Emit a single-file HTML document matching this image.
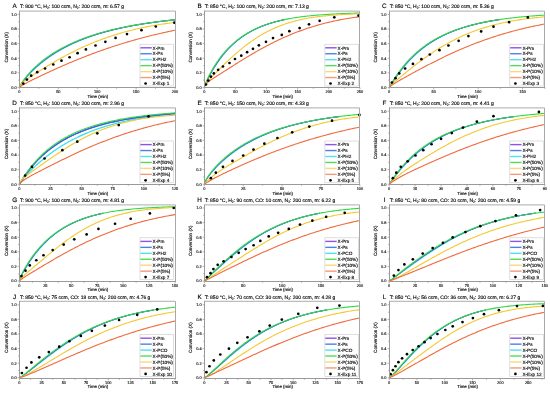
<!DOCTYPE html>
<html><head><meta charset="utf-8"><title>Conversion plots</title>
<style>html,body{margin:0;padding:0;background:#fff;width:550px;height:393px;overflow:hidden}
svg text{font-family:'Liberation Sans', Arial, sans-serif;stroke:#111;stroke-width:0.15px;text-rendering:geometricPrecision}</style></head>
<body>
<svg xmlns="http://www.w3.org/2000/svg" width="550" height="393" viewBox="0 0 550 393" style="display:block">
<rect width="550" height="393" fill="#fff"/>
<g><clipPath id="cA"><rect x="19.40" y="11.20" width="155.60" height="76.20"/></clipPath><g clip-path="url(#cA)" fill="none" stroke-width="1.3" stroke-linejoin="round"><path d="M19.40,87.40 L19.45,87.27 L19.54,87.05 L19.67,86.79 L19.83,86.50 L20.01,86.17 L20.22,85.83 L20.45,85.46 L20.70,85.07 L20.97,84.66 L21.26,84.24 L21.57,83.80 L21.89,83.35 L22.23,82.88 L22.59,82.40 L22.96,81.91 L23.35,81.42 L23.75,80.91 L24.17,80.39 L24.60,79.86 L25.04,79.32 L25.50,78.78 L25.97,78.23 L26.46,77.67 L26.95,77.11 L27.46,76.54 L27.98,75.96 L28.52,75.38 L29.07,74.80 L29.62,74.21 L30.19,73.61 L30.78,73.02 L31.37,72.42 L31.97,71.81 L32.59,71.21 L33.21,70.60 L33.85,69.99 L34.50,69.38 L35.16,68.77 L35.82,68.15 L36.50,67.54 L37.19,66.92 L37.89,66.31 L38.60,65.69 L39.32,65.08 L40.05,64.46 L40.79,63.85 L41.54,63.24 L42.30,62.62 L43.06,62.01 L43.84,61.40 L44.63,60.80 L45.42,60.19 L46.23,59.59 L47.04,58.99 L47.87,58.39 L48.70,57.79 L49.54,57.20 L50.39,56.61 L51.25,56.02 L52.12,55.43 L53.00,54.85 L53.88,54.28 L54.78,53.70 L55.68,53.13 L56.59,52.56 L57.51,52.00 L58.44,51.44 L59.37,50.89 L60.32,50.34 L61.27,49.79 L62.23,49.25 L63.20,48.71 L64.18,48.18 L65.17,47.65 L66.16,47.12 L67.16,46.61 L68.17,46.09 L69.19,45.58 L70.21,45.08 L71.25,44.57 L72.29,44.08 L73.34,43.59 L74.39,43.10 L75.46,42.62 L76.53,42.15 L77.61,41.68 L78.69,41.21 L79.79,40.75 L80.89,40.30 L82.00,39.84 L83.11,39.40 L84.24,38.96 L85.37,38.52 L86.51,38.09 L87.65,37.67 L88.81,37.25 L89.97,36.83 L91.14,36.42 L92.31,36.02 L93.49,35.62 L94.68,35.23 L95.88,34.84 L97.08,34.45 L98.29,34.07 L99.51,33.70 L100.73,33.33 L101.96,32.96 L103.20,32.60 L104.45,32.25 L105.70,31.90 L106.96,31.55 L108.22,31.21 L109.49,30.87 L110.77,30.54 L112.06,30.22 L113.35,29.89 L114.65,29.58 L115.96,29.26 L117.27,28.95 L118.59,28.65 L119.91,28.35 L121.25,28.05 L122.59,27.76 L123.93,27.48 L125.28,27.19 L126.64,26.92 L128.01,26.64 L129.38,26.37 L130.76,26.11 L132.14,25.84 L133.53,25.59 L134.93,25.33 L136.33,25.08 L137.74,24.84 L139.16,24.59 L140.58,24.36 L142.01,24.12 L143.45,23.89 L144.89,23.66 L146.33,23.44 L147.79,23.22 L149.25,23.00 L150.71,22.79 L152.19,22.58 L153.67,22.37 L155.15,22.17 L156.64,21.97 L158.14,21.78 L159.64,21.58 L161.15,21.39 L162.66,21.21 L164.19,21.02 L165.71,20.84 L167.25,20.67 L168.78,20.49 L170.33,20.32 L171.88,20.15 L173.44,19.99 L175.00,19.82" stroke="#30e0f0" stroke-width="1.0"/><path d="M19.40,87.40 L19.45,87.25 L19.54,87.02 L19.67,86.74 L19.83,86.42 L20.01,86.07 L20.22,85.69 L20.45,85.30 L20.70,84.88 L20.97,84.44 L21.26,83.99 L21.57,83.52 L21.89,83.04 L22.23,82.54 L22.59,82.04 L22.96,81.52 L23.35,80.99 L23.75,80.45 L24.17,79.91 L24.60,79.36 L25.04,78.80 L25.50,78.23 L25.97,77.66 L26.46,77.08 L26.95,76.49 L27.46,75.90 L27.98,75.31 L28.52,74.71 L29.07,74.11 L29.62,73.50 L30.19,72.90 L30.78,72.29 L31.37,71.67 L31.97,71.06 L32.59,70.44 L33.21,69.83 L33.85,69.21 L34.50,68.59 L35.16,67.97 L35.82,67.35 L36.50,66.74 L37.19,66.12 L37.89,65.50 L38.60,64.88 L39.32,64.27 L40.05,63.65 L40.79,63.04 L41.54,62.43 L42.30,61.82 L43.06,61.21 L43.84,60.60 L44.63,60.00 L45.42,59.40 L46.23,58.80 L47.04,58.21 L47.87,57.61 L48.70,57.02 L49.54,56.44 L50.39,55.85 L51.25,55.28 L52.12,54.70 L53.00,54.13 L53.88,53.56 L54.78,52.99 L55.68,52.43 L56.59,51.88 L57.51,51.32 L58.44,50.77 L59.37,50.23 L60.32,49.69 L61.27,49.16 L62.23,48.62 L63.20,48.10 L64.18,47.58 L65.17,47.06 L66.16,46.55 L67.16,46.04 L68.17,45.53 L69.19,45.04 L70.21,44.54 L71.25,44.05 L72.29,43.57 L73.34,43.09 L74.39,42.62 L75.46,42.15 L76.53,41.68 L77.61,41.22 L78.69,40.77 L79.79,40.32 L80.89,39.87 L82.00,39.43 L83.11,39.00 L84.24,38.57 L85.37,38.14 L86.51,37.72 L87.65,37.31 L88.81,36.90 L89.97,36.49 L91.14,36.09 L92.31,35.70 L93.49,35.31 L94.68,34.92 L95.88,34.54 L97.08,34.17 L98.29,33.80 L99.51,33.43 L100.73,33.07 L101.96,32.71 L103.20,32.36 L104.45,32.01 L105.70,31.67 L106.96,31.33 L108.22,31.00 L109.49,30.67 L110.77,30.34 L112.06,30.02 L113.35,29.71 L114.65,29.40 L115.96,29.09 L117.27,28.79 L118.59,28.49 L119.91,28.19 L121.25,27.90 L122.59,27.62 L123.93,27.34 L125.28,27.06 L126.64,26.79 L128.01,26.52 L129.38,26.25 L130.76,25.99 L132.14,25.73 L133.53,25.48 L134.93,25.23 L136.33,24.99 L137.74,24.74 L139.16,24.51 L140.58,24.27 L142.01,24.04 L143.45,23.81 L144.89,23.59 L146.33,23.37 L147.79,23.15 L149.25,22.94 L150.71,22.73 L152.19,22.52 L153.67,22.32 L155.15,22.12 L156.64,21.92 L158.14,21.73 L159.64,21.54 L161.15,21.35 L162.66,21.16 L164.19,20.98 L165.71,20.81 L167.25,20.63 L168.78,20.46 L170.33,20.29 L171.88,20.12 L173.44,19.96 L175.00,19.80" stroke="#9b40e8" stroke-width="1.0"/><path d="M19.40,87.40 L19.45,87.25 L19.54,87.02 L19.67,86.74 L19.83,86.42 L20.01,86.07 L20.22,85.69 L20.45,85.30 L20.70,84.88 L20.97,84.44 L21.26,83.99 L21.57,83.52 L21.89,83.04 L22.23,82.54 L22.59,82.04 L22.96,81.52 L23.35,80.99 L23.75,80.45 L24.17,79.91 L24.60,79.36 L25.04,78.80 L25.50,78.23 L25.97,77.66 L26.46,77.08 L26.95,76.49 L27.46,75.90 L27.98,75.31 L28.52,74.71 L29.07,74.11 L29.62,73.50 L30.19,72.90 L30.78,72.29 L31.37,71.67 L31.97,71.06 L32.59,70.44 L33.21,69.83 L33.85,69.21 L34.50,68.59 L35.16,67.97 L35.82,67.35 L36.50,66.74 L37.19,66.12 L37.89,65.50 L38.60,64.88 L39.32,64.27 L40.05,63.65 L40.79,63.04 L41.54,62.43 L42.30,61.82 L43.06,61.21 L43.84,60.60 L44.63,60.00 L45.42,59.40 L46.23,58.80 L47.04,58.21 L47.87,57.61 L48.70,57.02 L49.54,56.44 L50.39,55.85 L51.25,55.28 L52.12,54.70 L53.00,54.13 L53.88,53.56 L54.78,52.99 L55.68,52.43 L56.59,51.88 L57.51,51.32 L58.44,50.77 L59.37,50.23 L60.32,49.69 L61.27,49.16 L62.23,48.62 L63.20,48.10 L64.18,47.58 L65.17,47.06 L66.16,46.55 L67.16,46.04 L68.17,45.53 L69.19,45.04 L70.21,44.54 L71.25,44.05 L72.29,43.57 L73.34,43.09 L74.39,42.62 L75.46,42.15 L76.53,41.68 L77.61,41.22 L78.69,40.77 L79.79,40.32 L80.89,39.87 L82.00,39.43 L83.11,39.00 L84.24,38.57 L85.37,38.14 L86.51,37.72 L87.65,37.31 L88.81,36.90 L89.97,36.49 L91.14,36.09 L92.31,35.70 L93.49,35.31 L94.68,34.92 L95.88,34.54 L97.08,34.17 L98.29,33.80 L99.51,33.43 L100.73,33.07 L101.96,32.71 L103.20,32.36 L104.45,32.01 L105.70,31.67 L106.96,31.33 L108.22,31.00 L109.49,30.67 L110.77,30.34 L112.06,30.02 L113.35,29.71 L114.65,29.40 L115.96,29.09 L117.27,28.79 L118.59,28.49 L119.91,28.19 L121.25,27.90 L122.59,27.62 L123.93,27.34 L125.28,27.06 L126.64,26.79 L128.01,26.52 L129.38,26.25 L130.76,25.99 L132.14,25.73 L133.53,25.48 L134.93,25.23 L136.33,24.99 L137.74,24.74 L139.16,24.51 L140.58,24.27 L142.01,24.04 L143.45,23.81 L144.89,23.59 L146.33,23.37 L147.79,23.15 L149.25,22.94 L150.71,22.73 L152.19,22.52 L153.67,22.32 L155.15,22.12 L156.64,21.92 L158.14,21.73 L159.64,21.54 L161.15,21.35 L162.66,21.16 L164.19,20.98 L165.71,20.81 L167.25,20.63 L168.78,20.46 L170.33,20.29 L171.88,20.12 L173.44,19.96 L175.00,19.80" stroke="#2f62ea" stroke-width="1.0"/><path d="M19.40,87.40 L19.45,87.24 L19.54,86.99 L19.67,86.68 L19.83,86.33 L20.01,85.95 L20.22,85.54 L20.45,85.11 L20.70,84.66 L20.97,84.19 L21.26,83.70 L21.57,83.20 L21.89,82.69 L22.23,82.16 L22.59,81.62 L22.96,81.07 L23.35,80.51 L23.75,79.94 L24.17,79.37 L24.60,78.79 L25.04,78.20 L25.50,77.60 L25.97,77.01 L26.46,76.40 L26.95,75.79 L27.46,75.18 L27.98,74.57 L28.52,73.95 L29.07,73.33 L29.62,72.71 L30.19,72.08 L30.78,71.46 L31.37,70.83 L31.97,70.21 L32.59,69.58 L33.21,68.95 L33.85,68.33 L34.50,67.70 L35.16,67.07 L35.82,66.45 L36.50,65.83 L37.19,65.20 L37.89,64.58 L38.60,63.96 L39.32,63.35 L40.05,62.73 L40.79,62.12 L41.54,61.51 L42.30,60.90 L43.06,60.30 L43.84,59.70 L44.63,59.10 L45.42,58.50 L46.23,57.91 L47.04,57.32 L47.87,56.74 L48.70,56.16 L49.54,55.58 L50.39,55.00 L51.25,54.43 L52.12,53.87 L53.00,53.30 L53.88,52.75 L54.78,52.19 L55.68,51.64 L56.59,51.10 L57.51,50.56 L58.44,50.02 L59.37,49.49 L60.32,48.96 L61.27,48.44 L62.23,47.92 L63.20,47.40 L64.18,46.89 L65.17,46.39 L66.16,45.89 L67.16,45.39 L68.17,44.90 L69.19,44.42 L70.21,43.94 L71.25,43.46 L72.29,42.99 L73.34,42.52 L74.39,42.06 L75.46,41.61 L76.53,41.15 L77.61,40.71 L78.69,40.26 L79.79,39.83 L80.89,39.39 L82.00,38.97 L83.11,38.54 L84.24,38.13 L85.37,37.71 L86.51,37.31 L87.65,36.90 L88.81,36.50 L89.97,36.11 L91.14,35.72 L92.31,35.34 L93.49,34.96 L94.68,34.58 L95.88,34.21 L97.08,33.84 L98.29,33.48 L99.51,33.13 L100.73,32.77 L101.96,32.43 L103.20,32.08 L104.45,31.74 L105.70,31.41 L106.96,31.08 L108.22,30.76 L109.49,30.43 L110.77,30.12 L112.06,29.80 L113.35,29.50 L114.65,29.19 L115.96,28.89 L117.27,28.60 L118.59,28.31 L119.91,28.02 L121.25,27.74 L122.59,27.46 L123.93,27.18 L125.28,26.91 L126.64,26.64 L128.01,26.38 L129.38,26.12 L130.76,25.86 L132.14,25.61 L133.53,25.36 L134.93,25.12 L136.33,24.88 L137.74,24.64 L139.16,24.40 L140.58,24.17 L142.01,23.95 L143.45,23.72 L144.89,23.50 L146.33,23.29 L147.79,23.07 L149.25,22.86 L150.71,22.66 L152.19,22.45 L153.67,22.25 L155.15,22.06 L156.64,21.86 L158.14,21.67 L159.64,21.48 L161.15,21.30 L162.66,21.12 L164.19,20.94 L165.71,20.76 L167.25,20.59 L168.78,20.42 L170.33,20.25 L171.88,20.09 L173.44,19.92 L175.00,19.76" stroke="#33d944" stroke-width="1.1"/><path d="M19.40,87.40 L19.45,87.13 L19.54,86.82 L19.67,86.50 L19.83,86.18 L20.01,85.84 L20.22,85.50 L20.45,85.16 L20.70,84.82 L20.97,84.47 L21.26,84.13 L21.57,83.78 L21.89,83.43 L22.23,83.08 L22.59,82.73 L22.96,82.37 L23.35,82.02 L23.75,81.67 L24.17,81.32 L24.60,80.97 L25.04,80.62 L25.50,80.26 L25.97,79.91 L26.46,79.56 L26.95,79.21 L27.46,78.86 L27.98,78.50 L28.52,78.13 L29.07,77.76 L29.62,77.38 L30.19,77.00 L30.78,76.61 L31.37,76.21 L31.97,75.81 L32.59,75.40 L33.21,74.99 L33.85,74.57 L34.50,74.15 L35.16,73.72 L35.82,73.28 L36.50,72.84 L37.19,72.40 L37.89,71.95 L38.60,71.50 L39.32,71.04 L40.05,70.58 L40.79,70.11 L41.54,69.64 L42.30,69.17 L43.06,68.69 L43.84,68.21 L44.63,67.72 L45.42,67.23 L46.23,66.74 L47.04,66.25 L47.87,65.75 L48.70,65.25 L49.54,64.74 L50.39,64.23 L51.25,63.73 L52.12,63.21 L53.00,62.70 L53.88,62.18 L54.78,61.67 L55.68,61.15 L56.59,60.63 L57.51,60.10 L58.44,59.58 L59.37,59.06 L60.32,58.53 L61.27,58.00 L62.23,57.48 L63.20,56.95 L64.18,56.42 L65.17,55.89 L66.16,55.36 L67.16,54.84 L68.17,54.31 L69.19,53.78 L70.21,53.25 L71.25,52.73 L72.29,52.20 L73.34,51.68 L74.39,51.15 L75.46,50.63 L76.53,50.11 L77.61,49.59 L78.69,49.07 L79.79,48.56 L80.89,48.04 L82.00,47.53 L83.11,47.02 L84.24,46.52 L85.37,46.01 L86.51,45.51 L87.65,45.01 L88.81,44.51 L89.97,44.02 L91.14,43.53 L92.31,43.04 L93.49,42.56 L94.68,42.08 L95.88,41.60 L97.08,41.13 L98.29,40.66 L99.51,40.20 L100.73,39.74 L101.96,39.28 L103.20,38.83 L104.45,38.38 L105.70,37.93 L106.96,37.49 L108.22,37.06 L109.49,36.63 L110.77,36.20 L112.06,35.78 L113.35,35.36 L114.65,34.95 L115.96,34.54 L117.27,34.14 L118.59,33.75 L119.91,33.35 L121.25,32.97 L122.59,32.59 L123.93,32.21 L125.28,31.84 L126.64,31.47 L128.01,31.11 L129.38,30.76 L130.76,30.41 L132.14,30.06 L133.53,29.72 L134.93,29.39 L136.33,29.06 L137.74,28.74 L139.16,28.42 L140.58,28.11 L142.01,27.80 L143.45,27.50 L144.89,27.20 L146.33,26.91 L147.79,26.63 L149.25,26.35 L150.71,26.07 L152.19,25.80 L153.67,25.54 L155.15,25.28 L156.64,25.03 L158.14,24.78 L159.64,24.54 L161.15,24.30 L162.66,24.07 L164.19,23.84 L165.71,23.62 L167.25,23.40 L168.78,23.19 L170.33,22.98 L171.88,22.78 L173.44,22.58 L175.00,22.38" stroke="#f5c830" stroke-width="1.1"/><path d="M19.40,87.40 L19.45,87.34 L19.54,87.25 L19.67,87.14 L19.83,87.01 L20.01,86.86 L20.22,86.70 L20.45,86.54 L20.70,86.36 L20.97,86.18 L21.26,85.98 L21.57,85.78 L21.89,85.57 L22.23,85.36 L22.59,85.14 L22.96,84.91 L23.35,84.68 L23.75,84.44 L24.17,84.20 L24.60,83.95 L25.04,83.70 L25.50,83.44 L25.97,83.18 L26.46,82.92 L26.95,82.65 L27.46,82.38 L27.98,82.11 L28.52,81.83 L29.07,81.55 L29.62,81.26 L30.19,80.98 L30.78,80.69 L31.37,80.39 L31.97,80.10 L32.59,79.79 L33.21,79.49 L33.85,79.18 L34.50,78.86 L35.16,78.54 L35.82,78.22 L36.50,77.89 L37.19,77.56 L37.89,77.22 L38.60,76.88 L39.32,76.53 L40.05,76.19 L40.79,75.83 L41.54,75.48 L42.30,75.12 L43.06,74.76 L43.84,74.39 L44.63,74.02 L45.42,73.65 L46.23,73.27 L47.04,72.89 L47.87,72.51 L48.70,72.13 L49.54,71.74 L50.39,71.35 L51.25,70.95 L52.12,70.56 L53.00,70.16 L53.88,69.75 L54.78,69.35 L55.68,68.94 L56.59,68.53 L57.51,68.12 L58.44,67.71 L59.37,67.29 L60.32,66.88 L61.27,66.46 L62.23,66.04 L63.20,65.61 L64.18,65.19 L65.17,64.76 L66.16,64.33 L67.16,63.90 L68.17,63.47 L69.19,63.04 L70.21,62.61 L71.25,62.17 L72.29,61.74 L73.34,61.30 L74.39,60.86 L75.46,60.42 L76.53,59.98 L77.61,59.54 L78.69,59.10 L79.79,58.66 L80.89,58.22 L82.00,57.78 L83.11,57.34 L84.24,56.90 L85.37,56.45 L86.51,56.01 L87.65,55.57 L88.81,55.13 L89.97,54.68 L91.14,54.24 L92.31,53.80 L93.49,53.36 L94.68,52.92 L95.88,52.48 L97.08,52.04 L98.29,51.60 L99.51,51.16 L100.73,50.73 L101.96,50.29 L103.20,49.86 L104.45,49.42 L105.70,48.99 L106.96,48.56 L108.22,48.13 L109.49,47.70 L110.77,47.27 L112.06,46.84 L113.35,46.42 L114.65,45.99 L115.96,45.57 L117.27,45.15 L118.59,44.73 L119.91,44.32 L121.25,43.90 L122.59,43.49 L123.93,43.08 L125.28,42.67 L126.64,42.26 L128.01,41.86 L129.38,41.45 L130.76,41.05 L132.14,40.66 L133.53,40.26 L134.93,39.87 L136.33,39.47 L137.74,39.09 L139.16,38.70 L140.58,38.32 L142.01,37.93 L143.45,37.56 L144.89,37.18 L146.33,36.81 L147.79,36.44 L149.25,36.07 L150.71,35.70 L152.19,35.34 L153.67,34.98 L155.15,34.62 L156.64,34.27 L158.14,33.92 L159.64,33.57 L161.15,33.23 L162.66,32.89 L164.19,32.55 L165.71,32.21 L167.25,31.88 L168.78,31.55 L170.33,31.22 L171.88,30.90 L173.44,30.58 L175.00,30.26" stroke="#f06a3c" stroke-width="1.1"/></g><g fill="#000"><circle cx="23.29" cy="83.53" r="1.35"/><circle cx="26.87" cy="79.59" r="1.35"/><circle cx="31.15" cy="75.72" r="1.35"/><circle cx="37.22" cy="72.22" r="1.35"/><circle cx="45.07" cy="68.49" r="1.35"/><circle cx="53.32" cy="64.48" r="1.35"/><circle cx="61.49" cy="60.68" r="1.35"/><circle cx="69.58" cy="57.25" r="1.35"/><circle cx="77.59" cy="53.16" r="1.35"/><circle cx="85.92" cy="49.44" r="1.35"/><circle cx="95.49" cy="45.50" r="1.35"/><circle cx="105.37" cy="41.78" r="1.35"/><circle cx="115.56" cy="37.91" r="1.35"/><circle cx="127.00" cy="34.11" r="1.35"/><circle cx="141.47" cy="30.17" r="1.35"/><circle cx="155.78" cy="26.52" r="1.35"/><circle cx="174.38" cy="22.72" r="1.35"/></g><path d="M19.50,11.10 H175.50" fill="none" stroke="#bdbdbd" stroke-width="1.4"/><path d="M175.50,11.10 V87.50" fill="none" stroke="#a8a8a8" stroke-width="1.0"/><path d="M19.50,10.60 V87.50 H176.00" fill="none" stroke="#9a9a9a" stroke-width="1.0"/><path d="M17.60,87.40H19.50M18.20,80.10H19.50M17.60,72.80H19.50M18.20,65.50H19.50M17.60,58.20H19.50M18.20,50.90H19.50M17.60,43.60H19.50M18.20,36.30H19.50M17.60,29.00H19.50M18.20,21.70H19.50M17.60,14.40H19.50M19.40,87.50V89.40M38.85,87.50V88.80M58.30,87.50V89.40M77.75,87.50V88.80M97.20,87.50V89.40M116.65,87.50V88.80M136.10,87.50V89.40M155.55,87.50V88.80M175.00,87.50V89.40" stroke="#909090" stroke-width="0.7" fill="none"/><g font-size="3.9" fill="#222" style="stroke:#222;stroke-width:0.12px"><text x="16.70" y="88.80" text-anchor="end">0.0</text><text x="16.70" y="74.20" text-anchor="end">0.2</text><text x="16.70" y="59.60" text-anchor="end">0.4</text><text x="16.70" y="45.00" text-anchor="end">0.6</text><text x="16.70" y="30.40" text-anchor="end">0.8</text><text x="16.70" y="15.80" text-anchor="end">1.0</text><text x="19.40" y="93.40" text-anchor="middle">0</text><text x="58.30" y="93.40" text-anchor="middle">50</text><text x="97.20" y="93.40" text-anchor="middle">100</text><text x="136.10" y="93.40" text-anchor="middle">150</text><text x="175.00" y="93.40" text-anchor="middle">200</text></g><text x="97.80" y="97.70" text-anchor="middle" font-size="4.35" fill="#000">Time (min)</text><text transform="translate(7.50,47.20) rotate(-90)" text-anchor="middle" font-size="4.6" fill="#000">Conversion (X)</text><text x="14.60" y="8.40" font-size="6.3" text-anchor="middle" fill="#000">A</text><text x="19.90" y="8.40" font-size="5.0" fill="#000">T: 800 °C, H<tspan font-size="3.3" dy="1.0">2</tspan><tspan dy="-1.0">: 100 ccm, </tspan>N<tspan font-size="3.3" dy="1.0">2</tspan><tspan dy="-1.0">: 200 ccm, m: 6.57 g</tspan></text><rect x="140.00" y="44.20" width="33.6" height="41.8" fill="#fff" stroke="#c8c8c8" stroke-width="0.6"/><g font-size="4.7" fill="#000"><path d="M140.40,47.80h11.4" stroke="#8f52e6" stroke-width="1.4"/><text x="152.60" y="49.50">X-Pm</text><path d="M140.40,53.75h11.4" stroke="#4c80ea" stroke-width="1.4"/><text x="152.60" y="55.45">X-Ps</text><path d="M140.40,59.70h11.4" stroke="#4fe0f2" stroke-width="1.4"/><text x="152.60" y="61.40">X-PH2</text><path d="M140.40,65.65h11.4" stroke="#52dc58" stroke-width="1.4"/><text x="152.60" y="67.35">X-P(50%)</text><path d="M140.40,71.60h11.4" stroke="#f7d978" stroke-width="1.4"/><text x="152.60" y="73.30">X-P(10%)</text><path d="M140.40,77.55h11.4" stroke="#f29a7a" stroke-width="1.4"/><text x="152.60" y="79.25">X-P(5%)</text><circle cx="145.60" cy="83.50" r="1.35" fill="#000"/><text x="152.60" y="85.20">X-Exp 1</text></g></g>
<g><clipPath id="cB"><rect x="204.30" y="11.20" width="155.60" height="76.20"/></clipPath><g clip-path="url(#cB)" fill="none" stroke-width="1.3" stroke-linejoin="round"><path d="M204.30,87.40 L204.35,87.21 L204.44,86.89 L204.57,86.51 L204.73,86.08 L204.91,85.60 L205.12,85.08 L205.35,84.53 L205.60,83.95 L205.87,83.34 L206.16,82.71 L206.47,82.06 L206.79,81.38 L207.13,80.69 L207.49,79.97 L207.86,79.24 L208.25,78.49 L208.65,77.72 L209.07,76.94 L209.50,76.14 L209.94,75.33 L210.40,74.50 L210.87,73.67 L211.36,72.82 L211.85,71.96 L212.36,71.10 L212.88,70.22 L213.42,69.34 L213.97,68.46 L214.52,67.57 L215.09,66.67 L215.68,65.77 L216.27,64.87 L216.87,63.97 L217.49,63.06 L218.11,62.16 L218.75,61.26 L219.40,60.35 L220.06,59.45 L220.72,58.55 L221.40,57.66 L222.09,56.76 L222.79,55.88 L223.50,54.99 L224.22,54.12 L224.95,53.25 L225.69,52.38 L226.44,51.52 L227.20,50.67 L227.96,49.83 L228.74,49.00 L229.53,48.17 L230.32,47.35 L231.13,46.55 L231.94,45.75 L232.77,44.96 L233.60,44.18 L234.44,43.42 L235.29,42.66 L236.15,41.91 L237.02,41.18 L237.90,40.46 L238.78,39.74 L239.68,39.04 L240.58,38.35 L241.49,37.68 L242.41,37.01 L243.34,36.35 L244.27,35.71 L245.22,35.08 L246.17,34.46 L247.13,33.86 L248.10,33.26 L249.08,32.68 L250.07,32.11 L251.06,31.55 L252.06,31.00 L253.07,30.46 L254.09,29.94 L255.11,29.42 L256.15,28.92 L257.19,28.43 L258.24,27.95 L259.29,27.48 L260.36,27.02 L261.43,26.58 L262.51,26.14 L263.59,25.71 L264.69,25.30 L265.79,24.89 L266.90,24.50 L268.01,24.11 L269.14,23.74 L270.27,23.37 L271.41,23.01 L272.55,22.67 L273.71,22.33 L274.87,22.00 L276.04,21.68 L277.21,21.37 L278.39,21.07 L279.58,20.77 L280.78,20.48 L281.98,20.21 L283.19,19.94 L284.41,19.67" stroke="#30e0f0" stroke-width="1.0"/><path d="M204.30,87.40 L204.35,87.19 L204.44,86.85 L204.57,86.44 L204.73,85.96 L204.91,85.45 L205.12,84.89 L205.35,84.30 L205.60,83.68 L205.87,83.03 L206.16,82.36 L206.47,81.67 L206.79,80.96 L207.13,80.23 L207.49,79.48 L207.86,78.71 L208.25,77.93 L208.65,77.13 L209.07,76.32 L209.50,75.49 L209.94,74.65 L210.40,73.81 L210.87,72.95 L211.36,72.08 L211.85,71.21 L212.36,70.33 L212.88,69.45 L213.42,68.56 L213.97,67.66 L214.52,66.76 L215.09,65.86 L215.68,64.96 L216.27,64.06 L216.87,63.16 L217.49,62.26 L218.11,61.36 L218.75,60.46 L219.40,59.56 L220.06,58.67 L220.72,57.78 L221.40,56.89 L222.09,56.01 L222.79,55.14 L223.50,54.27 L224.22,53.40 L224.95,52.55 L225.69,51.70 L226.44,50.85 L227.20,50.02 L227.96,49.19 L228.74,48.38 L229.53,47.57 L230.32,46.77 L231.13,45.98 L231.94,45.20 L232.77,44.43 L233.60,43.67 L234.44,42.92 L235.29,42.18 L236.15,41.45 L237.02,40.74 L237.90,40.03 L238.78,39.33 L239.68,38.65 L240.58,37.98 L241.49,37.32 L242.41,36.66 L243.34,36.03 L244.27,35.40 L245.22,34.78 L246.17,34.18 L247.13,33.58 L248.10,33.00 L249.08,32.43 L250.07,31.87 L251.06,31.33 L252.06,30.79 L253.07,30.26 L254.09,29.75 L255.11,29.25 L256.15,28.75 L257.19,28.27 L258.24,27.80 L259.29,27.34 L260.36,26.89 L261.43,26.45 L262.51,26.03 L263.59,25.61 L264.69,25.20 L265.79,24.80 L266.90,24.41 L268.01,24.03 L269.14,23.66 L270.27,23.30 L271.41,22.95 L272.55,22.61 L273.71,22.27 L274.87,21.95 L276.04,21.63 L277.21,21.32 L278.39,21.03 L279.58,20.73 L280.78,20.45 L281.98,20.18 L283.19,19.91 L284.41,19.65" stroke="#9b40e8" stroke-width="1.0"/><path d="M204.30,87.40 L204.35,87.19 L204.44,86.85 L204.57,86.44 L204.73,85.96 L204.91,85.45 L205.12,84.89 L205.35,84.30 L205.60,83.68 L205.87,83.03 L206.16,82.36 L206.47,81.67 L206.79,80.96 L207.13,80.23 L207.49,79.48 L207.86,78.71 L208.25,77.93 L208.65,77.13 L209.07,76.32 L209.50,75.49 L209.94,74.65 L210.40,73.81 L210.87,72.95 L211.36,72.08 L211.85,71.21 L212.36,70.33 L212.88,69.45 L213.42,68.56 L213.97,67.66 L214.52,66.76 L215.09,65.86 L215.68,64.96 L216.27,64.06 L216.87,63.16 L217.49,62.26 L218.11,61.36 L218.75,60.46 L219.40,59.56 L220.06,58.67 L220.72,57.78 L221.40,56.89 L222.09,56.01 L222.79,55.14 L223.50,54.27 L224.22,53.40 L224.95,52.55 L225.69,51.70 L226.44,50.85 L227.20,50.02 L227.96,49.19 L228.74,48.38 L229.53,47.57 L230.32,46.77 L231.13,45.98 L231.94,45.20 L232.77,44.43 L233.60,43.67 L234.44,42.92 L235.29,42.18 L236.15,41.45 L237.02,40.74 L237.90,40.03 L238.78,39.33 L239.68,38.65 L240.58,37.98 L241.49,37.32 L242.41,36.66 L243.34,36.03 L244.27,35.40 L245.22,34.78 L246.17,34.18 L247.13,33.58 L248.10,33.00 L249.08,32.43 L250.07,31.87 L251.06,31.33 L252.06,30.79 L253.07,30.26 L254.09,29.75 L255.11,29.25 L256.15,28.75 L257.19,28.27 L258.24,27.80 L259.29,27.34 L260.36,26.89 L261.43,26.45 L262.51,26.03 L263.59,25.61 L264.69,25.20 L265.79,24.80 L266.90,24.41 L268.01,24.03 L269.14,23.66 L270.27,23.30 L271.41,22.95 L272.55,22.61 L273.71,22.27 L274.87,21.95 L276.04,21.63 L277.21,21.32 L278.39,21.03 L279.58,20.73 L280.78,20.45 L281.98,20.18 L283.19,19.91 L284.41,19.65" stroke="#2f62ea" stroke-width="1.0"/><path d="M204.30,87.40 L204.35,87.17 L204.44,86.80 L204.57,86.35 L204.73,85.84 L204.91,85.28 L205.12,84.68 L205.35,84.04 L205.60,83.38 L205.87,82.68 L206.16,81.97 L206.47,81.23 L206.79,80.47 L207.13,79.70 L207.49,78.91 L207.86,78.11 L208.25,77.29 L208.65,76.46 L209.07,75.61 L209.50,74.76 L209.94,73.89 L210.40,73.02 L210.87,72.14 L211.36,71.25 L211.85,70.36 L212.36,69.46 L212.88,68.57 L213.42,67.66 L213.97,66.76 L214.52,65.85 L215.09,64.95 L215.68,64.05 L216.27,63.14 L216.87,62.24 L217.49,61.34 L218.11,60.44 L218.75,59.55 L219.40,58.66 L220.06,57.78 L220.72,56.90 L221.40,56.02 L222.09,55.16 L222.79,54.29 L223.50,53.44 L224.22,52.59 L224.95,51.75 L225.69,50.92 L226.44,50.10 L227.20,49.28 L227.96,48.47 L228.74,47.68 L229.53,46.89 L230.32,46.11 L231.13,45.34 L231.94,44.58 L232.77,43.83 L233.60,43.09 L234.44,42.36 L235.29,41.64 L236.15,40.93 L237.02,40.23 L237.90,39.55 L238.78,38.87 L239.68,38.21 L240.58,37.55 L241.49,36.91 L242.41,36.27 L243.34,35.65 L244.27,35.04 L245.22,34.44 L246.17,33.85 L247.13,33.28 L248.10,32.71 L249.08,32.15 L250.07,31.61 L251.06,31.08 L252.06,30.55 L253.07,30.04 L254.09,29.54 L255.11,29.05 L256.15,28.57 L257.19,28.10 L258.24,27.64 L259.29,27.19 L260.36,26.75 L261.43,26.32 L262.51,25.90 L263.59,25.49 L264.69,25.08 L265.79,24.69 L266.90,24.31 L268.01,23.94 L269.14,23.58 L270.27,23.22 L271.41,22.88 L272.55,22.54 L273.71,22.21 L274.87,21.89 L276.04,21.58 L277.21,21.27 L278.39,20.98 L279.58,20.69 L280.78,20.41 L281.98,20.14 L283.19,19.88 L284.41,19.62 L285.63,19.37 L286.86,19.12 L288.10,18.89 L289.35,18.66 L290.60,18.43 L291.86,18.22 L293.12,18.01 L294.39,17.80 L295.67,17.61 L296.96,17.41 L298.25,17.23 L299.55,17.05 L300.86,16.87 L302.17,16.70 L303.49,16.54 L304.81,16.38 L306.15,16.22 L307.49,16.07 L308.83,15.93 L310.18,15.79 L311.54,15.65 L312.91,15.52 L314.28,15.39 L315.66,15.27 L317.04,15.15 L318.43,15.04 L319.83,14.93 L321.23,14.82 L322.64,14.72 L324.06,14.62 L325.48,14.52 L326.91,14.43 L328.35,14.34 L329.79,14.25 L331.23,14.16 L332.69,14.08 L334.15,14.00 L335.61,13.93 L337.09,13.86 L338.57,13.79 L340.05,13.72 L341.54,13.65 L343.04,13.59 L344.54,13.53 L346.05,13.47 L347.56,13.42 L349.09,13.36 L350.61,13.31 L352.15,13.26 L353.68,13.21 L355.23,13.17 L356.78,13.12 L358.34,13.08 L359.90,13.04" stroke="#33d944" stroke-width="1.1"/><path d="M204.30,87.40 L204.35,87.06 L204.44,86.67 L204.57,86.27 L204.73,85.86 L204.91,85.44 L205.12,85.02 L205.35,84.59 L205.60,84.16 L205.87,83.73 L206.16,83.30 L206.47,82.86 L206.79,82.43 L207.13,81.99 L207.49,81.56 L207.86,81.12 L208.25,80.69 L208.65,80.25 L209.07,79.81 L209.50,79.35 L209.94,78.88 L210.40,78.40 L210.87,77.91 L211.36,77.40 L211.85,76.89 L212.36,76.36 L212.88,75.82 L213.42,75.27 L213.97,74.71 L214.52,74.13 L215.09,73.55 L215.68,72.96 L216.27,72.35 L216.87,71.74 L217.49,71.11 L218.11,70.48 L218.75,69.84 L219.40,69.19 L220.06,68.53 L220.72,67.86 L221.40,67.19 L222.09,66.51 L222.79,65.82 L223.50,65.12 L224.22,64.42 L224.95,63.71 L225.69,63.00 L226.44,62.28 L227.20,61.55 L227.96,60.82 L228.74,60.09 L229.53,59.35 L230.32,58.61 L231.13,57.87 L231.94,57.13 L232.77,56.38 L233.60,55.63 L234.44,54.88 L235.29,54.12 L236.15,53.37 L237.02,52.62 L237.90,51.87 L238.78,51.12 L239.68,50.36 L240.58,49.62 L241.49,48.87 L242.41,48.12 L243.34,47.38 L244.27,46.64 L245.22,45.91 L246.17,45.17 L247.13,44.45 L248.10,43.72 L249.08,43.00 L250.07,42.29 L251.06,41.58 L252.06,40.88 L253.07,40.19 L254.09,39.50 L255.11,38.82 L256.15,38.14 L257.19,37.47 L258.24,36.82 L259.29,36.16 L260.36,35.52 L261.43,34.89 L262.51,34.26 L263.59,33.65 L264.69,33.04 L265.79,32.44 L266.90,31.85 L268.01,31.27 L269.14,30.70 L270.27,30.15 L271.41,29.60 L272.55,29.06 L273.71,28.53 L274.87,28.02 L276.04,27.51 L277.21,27.01 L278.39,26.53 L279.58,26.06 L280.78,25.59 L281.98,25.14 L283.19,24.70 L284.41,24.27 L285.63,23.85 L286.86,23.44 L288.10,23.04 L289.35,22.65 L290.60,22.28 L291.86,21.91 L293.12,21.55 L294.39,21.21 L295.67,20.87 L296.96,20.55 L298.25,20.23 L299.55,19.93 L300.86,19.63 L302.17,19.35 L303.49,19.07 L304.81,18.81 L306.15,18.55 L307.49,18.30 L308.83,18.06 L310.18,17.83 L311.54,17.61 L312.91,17.40 L314.28,17.19 L315.66,17.00 L317.04,16.81 L318.43,16.62 L319.83,16.45 L321.23,16.28 L322.64,16.12 L324.06,15.97 L325.48,15.83 L326.91,15.69 L328.35,15.55 L329.79,15.43 L331.23,15.30 L332.69,15.19 L334.15,15.08 L335.61,14.97 L337.09,14.87 L338.57,14.78 L340.05,14.69 L341.54,14.60 L343.04,14.52 L344.54,14.45 L346.05,14.37 L347.56,14.31 L349.09,14.24 L350.61,14.18 L352.15,14.12 L353.68,14.07 L355.23,14.02 L356.78,13.97 L358.34,13.92 L359.90,13.88" stroke="#f5c830" stroke-width="1.1"/><path d="M204.30,87.40 L204.35,87.04 L204.44,86.68 L204.57,86.32 L204.73,85.97 L204.91,85.61 L205.12,85.26 L205.35,84.92 L205.60,84.57 L205.87,84.23 L206.16,83.89 L206.47,83.55 L206.79,83.21 L207.13,82.87 L207.49,82.54 L207.86,82.21 L208.25,81.87 L208.65,81.54 L209.07,81.22 L209.50,80.89 L209.94,80.57 L210.40,80.24 L210.87,79.92 L211.36,79.60 L211.85,79.28 L212.36,78.96 L212.88,78.62 L213.42,78.28 L213.97,77.93 L214.52,77.58 L215.09,77.21 L215.68,76.84 L216.27,76.46 L216.87,76.07 L217.49,75.68 L218.11,75.28 L218.75,74.87 L219.40,74.46 L220.06,74.04 L220.72,73.61 L221.40,73.17 L222.09,72.73 L222.79,72.28 L223.50,71.83 L224.22,71.37 L224.95,70.90 L225.69,70.43 L226.44,69.95 L227.20,69.47 L227.96,68.98 L228.74,68.48 L229.53,67.98 L230.32,67.47 L231.13,66.96 L231.94,66.44 L232.77,65.92 L233.60,65.40 L234.44,64.86 L235.29,64.33 L236.15,63.79 L237.02,63.24 L237.90,62.69 L238.78,62.14 L239.68,61.59 L240.58,61.03 L241.49,60.46 L242.41,59.90 L243.34,59.33 L244.27,58.75 L245.22,58.18 L246.17,57.60 L247.13,57.02 L248.10,56.44 L249.08,55.85 L250.07,55.27 L251.06,54.68 L252.06,54.09 L253.07,53.50 L254.09,52.91 L255.11,52.32 L256.15,51.73 L257.19,51.13 L258.24,50.54 L259.29,49.95 L260.36,49.35 L261.43,48.76 L262.51,48.17 L263.59,47.58 L264.69,46.98 L265.79,46.40 L266.90,45.81 L268.01,45.22 L269.14,44.64 L270.27,44.05 L271.41,43.47 L272.55,42.89 L273.71,42.32 L274.87,41.75 L276.04,41.17 L277.21,40.61 L278.39,40.04 L279.58,39.48 L280.78,38.93 L281.98,38.37 L283.19,37.82 L284.41,37.28 L285.63,36.74 L286.86,36.20 L288.10,35.67 L289.35,35.14 L290.60,34.62 L291.86,34.10 L293.12,33.59 L294.39,33.08 L295.67,32.58 L296.96,32.08 L298.25,31.59 L299.55,31.11 L300.86,30.63 L302.17,30.15 L303.49,29.69 L304.81,29.22 L306.15,28.77 L307.49,28.32 L308.83,27.88 L310.18,27.44 L311.54,27.01 L312.91,26.59 L314.28,26.18 L315.66,25.77 L317.04,25.36 L318.43,24.97 L319.83,24.58 L321.23,24.20 L322.64,23.82 L324.06,23.46 L325.48,23.09 L326.91,22.74 L328.35,22.39 L329.79,22.05 L331.23,21.72 L332.69,21.39 L334.15,21.07 L335.61,20.76 L337.09,20.45 L338.57,20.16 L340.05,19.86 L341.54,19.58 L343.04,19.30 L344.54,19.03 L346.05,18.76 L347.56,18.51 L349.09,18.25 L350.61,18.01 L352.15,17.77 L353.68,17.54 L355.23,17.31 L356.78,17.09 L358.34,16.88 L359.90,16.67" stroke="#f06a3c" stroke-width="1.1"/></g><g fill="#000"><circle cx="205.98" cy="84.48" r="1.35"/><circle cx="208.28" cy="80.61" r="1.35"/><circle cx="210.90" cy="76.67" r="1.35"/><circle cx="213.82" cy="73.38" r="1.35"/><circle cx="218.12" cy="69.81" r="1.35"/><circle cx="222.97" cy="66.52" r="1.35"/><circle cx="229.51" cy="63.02" r="1.35"/><circle cx="234.98" cy="59.00" r="1.35"/><circle cx="241.27" cy="55.72" r="1.35"/><circle cx="247.12" cy="52.21" r="1.35"/><circle cx="252.97" cy="48.78" r="1.35"/><circle cx="258.88" cy="45.28" r="1.35"/><circle cx="265.98" cy="41.78" r="1.35"/><circle cx="273.01" cy="38.12" r="1.35"/><circle cx="281.79" cy="34.91" r="1.35"/><circle cx="289.38" cy="31.19" r="1.35"/><circle cx="299.59" cy="28.12" r="1.35"/><circle cx="308.99" cy="24.33" r="1.35"/><circle cx="319.63" cy="20.82" r="1.35"/><circle cx="334.32" cy="17.32" r="1.35"/><circle cx="358.53" cy="15.57" r="1.35"/></g><path d="M204.50,11.10 H359.50" fill="none" stroke="#bdbdbd" stroke-width="1.4"/><path d="M359.50,11.10 V87.50" fill="none" stroke="#a8a8a8" stroke-width="1.0"/><path d="M204.50,10.60 V87.50 H360.00" fill="none" stroke="#9a9a9a" stroke-width="1.0"/><path d="M202.60,87.40H204.50M203.20,80.10H204.50M202.60,72.80H204.50M203.20,65.50H204.50M202.60,58.20H204.50M203.20,50.90H204.50M202.60,43.60H204.50M203.20,36.30H204.50M202.60,29.00H204.50M203.20,21.70H204.50M202.60,14.40H204.50M204.30,87.50V89.40M219.86,87.50V88.80M235.42,87.50V89.40M250.98,87.50V88.80M266.54,87.50V89.40M282.10,87.50V88.80M297.66,87.50V89.40M313.22,87.50V88.80M328.78,87.50V89.40M344.34,87.50V88.80M359.90,87.50V89.40" stroke="#909090" stroke-width="0.7" fill="none"/><g font-size="3.9" fill="#222" style="stroke:#222;stroke-width:0.12px"><text x="201.60" y="88.80" text-anchor="end">0.0</text><text x="201.60" y="74.20" text-anchor="end">0.2</text><text x="201.60" y="59.60" text-anchor="end">0.4</text><text x="201.60" y="45.00" text-anchor="end">0.6</text><text x="201.60" y="30.40" text-anchor="end">0.8</text><text x="201.60" y="15.80" text-anchor="end">1.0</text><text x="204.30" y="93.40" text-anchor="middle">0</text><text x="235.42" y="93.40" text-anchor="middle">50</text><text x="266.54" y="93.40" text-anchor="middle">100</text><text x="297.66" y="93.40" text-anchor="middle">150</text><text x="328.78" y="93.40" text-anchor="middle">200</text><text x="359.90" y="93.40" text-anchor="middle">250</text></g><text x="282.70" y="97.70" text-anchor="middle" font-size="4.35" fill="#000">Time (min)</text><text transform="translate(192.40,47.20) rotate(-90)" text-anchor="middle" font-size="4.6" fill="#000">Conversion (X)</text><text x="199.50" y="8.40" font-size="6.3" text-anchor="middle" fill="#000">B</text><text x="204.80" y="8.40" font-size="5.0" fill="#000">T: 850 °C, H<tspan font-size="3.3" dy="1.0">2</tspan><tspan dy="-1.0">: 100 ccm, </tspan>N<tspan font-size="3.3" dy="1.0">2</tspan><tspan dy="-1.0">: 200 ccm, m: 7.13 g</tspan></text><rect x="324.90" y="44.20" width="33.6" height="41.8" fill="#fff" stroke="#c8c8c8" stroke-width="0.6"/><g font-size="4.7" fill="#000"><path d="M325.30,47.80h11.4" stroke="#8f52e6" stroke-width="1.4"/><text x="337.50" y="49.50">X-Pm</text><path d="M325.30,53.75h11.4" stroke="#4c80ea" stroke-width="1.4"/><text x="337.50" y="55.45">X-Ps</text><path d="M325.30,59.70h11.4" stroke="#4fe0f2" stroke-width="1.4"/><text x="337.50" y="61.40">X-PH2</text><path d="M325.30,65.65h11.4" stroke="#52dc58" stroke-width="1.4"/><text x="337.50" y="67.35">X-P(50%)</text><path d="M325.30,71.60h11.4" stroke="#f7d978" stroke-width="1.4"/><text x="337.50" y="73.30">X-P(10%)</text><path d="M325.30,77.55h11.4" stroke="#f29a7a" stroke-width="1.4"/><text x="337.50" y="79.25">X-P(5%)</text><circle cx="330.50" cy="83.50" r="1.35" fill="#000"/><text x="337.50" y="85.20">X-Exp 2</text></g></g>
<g><clipPath id="cC"><rect x="389.20" y="11.20" width="155.60" height="76.20"/></clipPath><g clip-path="url(#cC)" fill="none" stroke-width="1.3" stroke-linejoin="round"><path d="M389.20,87.40 L389.25,87.34 L389.34,87.20 L389.47,87.02 L389.63,86.79 L389.81,86.52 L390.02,86.22 L390.25,85.89 L390.50,85.52 L390.77,85.12 L391.06,84.70 L391.37,84.25 L391.69,83.77 L392.03,83.27 L392.39,82.75 L392.76,82.20 L393.15,81.63 L393.55,81.04 L393.97,80.44 L394.40,79.82 L394.84,79.18 L395.30,78.53 L395.77,77.86 L396.26,77.19 L396.75,76.50 L397.26,75.80 L397.78,75.09 L398.32,74.37 L398.87,73.64 L399.42,72.90 L399.99,72.16 L400.58,71.40 L401.17,70.65 L401.77,69.89 L402.39,69.12 L403.01,68.35 L403.65,67.58 L404.30,66.80 L404.96,66.02 L405.62,65.25 L406.30,64.47 L406.99,63.69 L407.69,62.91 L408.40,62.13 L409.12,61.35 L409.85,60.57 L410.59,59.80 L411.34,59.03 L412.10,58.26 L412.86,57.49 L413.64,56.73 L414.43,55.98 L415.22,55.22 L416.03,54.47 L416.84,53.73 L417.67,52.99 L418.50,52.26 L419.34,51.54 L420.19,50.82 L421.05,50.10 L421.92,49.40 L422.80,48.70 L423.68,48.01 L424.58,47.32 L425.48,46.64 L426.39,45.97 L427.31,45.31 L428.24,44.66 L429.17,44.01 L430.12,43.37 L431.07,42.74 L432.03,42.12 L433.00,41.50 L433.98,40.90 L434.97,40.30 L435.96,39.71 L436.96,39.13 L437.97,38.56 L438.99,38.00 L440.01,37.44 L441.05,36.90 L442.09,36.36 L443.14,35.83 L444.19,35.31 L445.26,34.80 L446.33,34.29 L447.41,33.80 L448.49,33.31 L449.59,32.83 L450.69,32.36 L451.80,31.90 L452.91,31.45 L454.04,31.00 L455.17,30.57 L456.31,30.14 L457.45,29.71 L458.61,29.30 L459.77,28.89 L460.94,28.50 L462.11,28.11 L463.29,27.72 L464.48,27.35 L465.68,26.98 L466.88,26.62 L468.09,26.26 L469.31,25.92 L470.53,25.58 L471.76,25.24 L473.00,24.92 L474.25,24.60 L475.50,24.28 L476.76,23.98 L478.02,23.68 L479.29,23.38 L480.57,23.09 L481.86,22.81 L483.15,22.54 L484.45,22.27 L485.76,22.00 L487.07,21.74 L488.39,21.49 L489.71,21.24 L491.05,21.00 L492.39,20.77 L493.73,20.54 L495.08,20.31 L496.44,20.09 L497.81,19.87 L499.18,19.66" stroke="#30e0f0" stroke-width="1.0"/><path d="M389.20,87.40 L389.25,87.33 L389.34,87.19 L389.47,86.99 L389.63,86.74 L389.81,86.45 L390.02,86.12 L390.25,85.76 L390.50,85.36 L390.77,84.94 L391.06,84.48 L391.37,84.00 L391.69,83.49 L392.03,82.96 L392.39,82.40 L392.76,81.82 L393.15,81.22 L393.55,80.60 L393.97,79.96 L394.40,79.31 L394.84,78.65 L395.30,77.97 L395.77,77.28 L396.26,76.57 L396.75,75.86 L397.26,75.14 L397.78,74.41 L398.32,73.67 L398.87,72.92 L399.42,72.17 L399.99,71.41 L400.58,70.64 L401.17,69.88 L401.77,69.10 L402.39,68.33 L403.01,67.55 L403.65,66.78 L404.30,66.00 L404.96,65.22 L405.62,64.44 L406.30,63.66 L406.99,62.88 L407.69,62.10 L408.40,61.32 L409.12,60.55 L409.85,59.78 L410.59,59.01 L411.34,58.25 L412.10,57.49 L412.86,56.73 L413.64,55.98 L414.43,55.23 L415.22,54.49 L416.03,53.75 L416.84,53.02 L417.67,52.30 L418.50,51.58 L419.34,50.87 L420.19,50.16 L421.05,49.46 L421.92,48.77 L422.80,48.09 L423.68,47.41 L424.58,46.74 L425.48,46.07 L426.39,45.42 L427.31,44.77 L428.24,44.13 L429.17,43.50 L430.12,42.88 L431.07,42.26 L432.03,41.65 L433.00,41.05 L433.98,40.46 L434.97,39.88 L435.96,39.30 L436.96,38.74 L437.97,38.18 L438.99,37.63 L440.01,37.09 L441.05,36.55 L442.09,36.03 L443.14,35.51 L444.19,35.01 L445.26,34.50 L446.33,34.01 L447.41,33.53 L448.49,33.05 L449.59,32.59 L450.69,32.13 L451.80,31.67 L452.91,31.23 L454.04,30.79 L455.17,30.37 L456.31,29.95 L457.45,29.53 L458.61,29.13 L459.77,28.73 L460.94,28.34 L462.11,27.96 L463.29,27.58 L464.48,27.21 L465.68,26.85 L466.88,26.49 L468.09,26.15 L469.31,25.81 L470.53,25.47 L471.76,25.14 L473.00,24.82 L474.25,24.51 L475.50,24.20 L476.76,23.90 L478.02,23.60 L479.29,23.31 L480.57,23.03 L481.86,22.75 L483.15,22.48 L484.45,22.21 L485.76,21.95 L487.07,21.70 L488.39,21.45 L489.71,21.20 L491.05,20.96 L492.39,20.73 L493.73,20.50 L495.08,20.28 L496.44,20.06 L497.81,19.84 L499.18,19.64" stroke="#9b40e8" stroke-width="1.0"/><path d="M389.20,87.40 L389.25,87.33 L389.34,87.19 L389.47,86.99 L389.63,86.74 L389.81,86.45 L390.02,86.12 L390.25,85.76 L390.50,85.36 L390.77,84.94 L391.06,84.48 L391.37,84.00 L391.69,83.49 L392.03,82.96 L392.39,82.40 L392.76,81.82 L393.15,81.22 L393.55,80.60 L393.97,79.96 L394.40,79.31 L394.84,78.65 L395.30,77.97 L395.77,77.28 L396.26,76.57 L396.75,75.86 L397.26,75.14 L397.78,74.41 L398.32,73.67 L398.87,72.92 L399.42,72.17 L399.99,71.41 L400.58,70.64 L401.17,69.88 L401.77,69.10 L402.39,68.33 L403.01,67.55 L403.65,66.78 L404.30,66.00 L404.96,65.22 L405.62,64.44 L406.30,63.66 L406.99,62.88 L407.69,62.10 L408.40,61.32 L409.12,60.55 L409.85,59.78 L410.59,59.01 L411.34,58.25 L412.10,57.49 L412.86,56.73 L413.64,55.98 L414.43,55.23 L415.22,54.49 L416.03,53.75 L416.84,53.02 L417.67,52.30 L418.50,51.58 L419.34,50.87 L420.19,50.16 L421.05,49.46 L421.92,48.77 L422.80,48.09 L423.68,47.41 L424.58,46.74 L425.48,46.07 L426.39,45.42 L427.31,44.77 L428.24,44.13 L429.17,43.50 L430.12,42.88 L431.07,42.26 L432.03,41.65 L433.00,41.05 L433.98,40.46 L434.97,39.88 L435.96,39.30 L436.96,38.74 L437.97,38.18 L438.99,37.63 L440.01,37.09 L441.05,36.55 L442.09,36.03 L443.14,35.51 L444.19,35.01 L445.26,34.50 L446.33,34.01 L447.41,33.53 L448.49,33.05 L449.59,32.59 L450.69,32.13 L451.80,31.67 L452.91,31.23 L454.04,30.79 L455.17,30.37 L456.31,29.95 L457.45,29.53 L458.61,29.13 L459.77,28.73 L460.94,28.34 L462.11,27.96 L463.29,27.58 L464.48,27.21 L465.68,26.85 L466.88,26.49 L468.09,26.15 L469.31,25.81 L470.53,25.47 L471.76,25.14 L473.00,24.82 L474.25,24.51 L475.50,24.20 L476.76,23.90 L478.02,23.60 L479.29,23.31 L480.57,23.03 L481.86,22.75 L483.15,22.48 L484.45,22.21 L485.76,21.95 L487.07,21.70 L488.39,21.45 L489.71,21.20 L491.05,20.96 L492.39,20.73 L493.73,20.50 L495.08,20.28 L496.44,20.06 L497.81,19.84 L499.18,19.64" stroke="#2f62ea" stroke-width="1.0"/><path d="M389.20,87.40 L389.25,87.32 L389.34,87.17 L389.47,86.95 L389.63,86.68 L389.81,86.36 L390.02,86.01 L390.25,85.61 L390.50,85.19 L390.77,84.73 L391.06,84.23 L391.37,83.72 L391.69,83.17 L392.03,82.60 L392.39,82.01 L392.76,81.39 L393.15,80.75 L393.55,80.10 L393.97,79.43 L394.40,78.74 L394.84,78.04 L395.30,77.33 L395.77,76.61 L396.26,75.88 L396.75,75.14 L397.26,74.39 L397.78,73.64 L398.32,72.87 L398.87,72.11 L399.42,71.34 L399.99,70.56 L400.58,69.78 L401.17,69.00 L401.77,68.22 L402.39,67.43 L403.01,66.65 L403.65,65.87 L404.30,65.08 L404.96,64.30 L405.62,63.52 L406.30,62.74 L406.99,61.96 L407.69,61.18 L408.40,60.41 L409.12,59.64 L409.85,58.88 L410.59,58.12 L411.34,57.36 L412.10,56.61 L412.86,55.87 L413.64,55.13 L414.43,54.39 L415.22,53.66 L416.03,52.94 L416.84,52.22 L417.67,51.51 L418.50,50.81 L419.34,50.11 L420.19,49.42 L421.05,48.74 L421.92,48.06 L422.80,47.39 L423.68,46.73 L424.58,46.08 L425.48,45.43 L426.39,44.79 L427.31,44.16 L428.24,43.54 L429.17,42.92 L430.12,42.32 L431.07,41.72 L432.03,41.13 L433.00,40.54 L433.98,39.97 L434.97,39.40 L435.96,38.84 L436.96,38.29 L437.97,37.75 L438.99,37.21 L440.01,36.69 L441.05,36.17 L442.09,35.66 L443.14,35.15 L444.19,34.66 L445.26,34.17 L446.33,33.69 L447.41,33.22 L448.49,32.76 L449.59,32.30 L450.69,31.86 L451.80,31.42 L452.91,30.98 L454.04,30.56 L455.17,30.14 L456.31,29.73 L457.45,29.33 L458.61,28.93 L459.77,28.54 L460.94,28.16 L462.11,27.79 L463.29,27.42 L464.48,27.06 L465.68,26.70 L466.88,26.35 L468.09,26.01 L469.31,25.68 L470.53,25.35 L471.76,25.03 L473.00,24.72 L474.25,24.41 L475.50,24.10 L476.76,23.81 L478.02,23.52 L479.29,23.23 L480.57,22.95 L481.86,22.68 L483.15,22.41 L484.45,22.15 L485.76,21.89 L487.07,21.64 L488.39,21.39 L489.71,21.15 L491.05,20.92 L492.39,20.69 L493.73,20.46 L495.08,20.24 L496.44,20.02 L497.81,19.81 L499.18,19.61 L500.56,19.40 L501.94,19.21 L503.33,19.01 L504.73,18.82 L506.13,18.64 L507.54,18.46 L508.96,18.28 L510.38,18.11 L511.81,17.94 L513.25,17.77 L514.69,17.61 L516.13,17.46 L517.59,17.30 L519.05,17.15 L520.51,17.01 L521.99,16.86 L523.47,16.72 L524.95,16.59 L526.44,16.45 L527.94,16.32 L529.44,16.19 L530.95,16.07 L532.46,15.95 L533.99,15.83 L535.51,15.72 L537.05,15.60 L538.58,15.49 L540.13,15.39 L541.68,15.28 L543.24,15.18 L544.80,15.08" stroke="#33d944" stroke-width="1.1"/><path d="M389.20,87.40 L389.25,87.32 L389.34,87.18 L389.47,87.01 L389.63,86.81 L389.81,86.59 L390.02,86.35 L390.25,86.10 L390.50,85.82 L390.77,85.53 L391.06,85.23 L391.37,84.92 L391.69,84.59 L392.03,84.26 L392.39,83.91 L392.76,83.56 L393.15,83.20 L393.55,82.83 L393.97,82.45 L394.40,82.06 L394.84,81.67 L395.30,81.27 L395.77,80.86 L396.26,80.45 L396.75,80.03 L397.26,79.61 L397.78,79.17 L398.32,78.73 L398.87,78.28 L399.42,77.81 L399.99,77.34 L400.58,76.86 L401.17,76.37 L401.77,75.87 L402.39,75.37 L403.01,74.86 L403.65,74.33 L404.30,73.80 L404.96,73.27 L405.62,72.72 L406.30,72.17 L406.99,71.62 L407.69,71.05 L408.40,70.48 L409.12,69.91 L409.85,69.32 L410.59,68.74 L411.34,68.14 L412.10,67.54 L412.86,66.94 L413.64,66.33 L414.43,65.72 L415.22,65.10 L416.03,64.48 L416.84,63.86 L417.67,63.23 L418.50,62.60 L419.34,61.97 L420.19,61.33 L421.05,60.69 L421.92,60.05 L422.80,59.41 L423.68,58.76 L424.58,58.12 L425.48,57.47 L426.39,56.83 L427.31,56.18 L428.24,55.53 L429.17,54.88 L430.12,54.24 L431.07,53.59 L432.03,52.94 L433.00,52.30 L433.98,51.65 L434.97,51.01 L435.96,50.37 L436.96,49.73 L437.97,49.10 L438.99,48.46 L440.01,47.83 L441.05,47.20 L442.09,46.58 L443.14,45.96 L444.19,45.34 L445.26,44.72 L446.33,44.11 L447.41,43.51 L448.49,42.91 L449.59,42.31 L450.69,41.72 L451.80,41.13 L452.91,40.55 L454.04,39.97 L455.17,39.40 L456.31,38.83 L457.45,38.27 L458.61,37.72 L459.77,37.17 L460.94,36.63 L462.11,36.09 L463.29,35.57 L464.48,35.04 L465.68,34.53 L466.88,34.02 L468.09,33.52 L469.31,33.02 L470.53,32.53 L471.76,32.05 L473.00,31.58 L474.25,31.11 L475.50,30.65 L476.76,30.20 L478.02,29.76 L479.29,29.32 L480.57,28.89 L481.86,28.47 L483.15,28.05 L484.45,27.64 L485.76,27.25 L487.07,26.85 L488.39,26.47 L489.71,26.09 L491.05,25.72 L492.39,25.36 L493.73,25.01 L495.08,24.66 L496.44,24.32 L497.81,23.99 L499.18,23.66 L500.56,23.35 L501.94,23.04 L503.33,22.74 L504.73,22.44 L506.13,22.15 L507.54,21.87 L508.96,21.60 L510.38,21.33 L511.81,21.07 L513.25,20.81 L514.69,20.57 L516.13,20.33 L517.59,20.09 L519.05,19.87 L520.51,19.64 L521.99,19.43 L523.47,19.22 L524.95,19.02 L526.44,18.82 L527.94,18.63 L529.44,18.45 L530.95,18.27 L532.46,18.09 L533.99,17.92 L535.51,17.76 L537.05,17.60 L538.58,17.45 L540.13,17.30 L541.68,17.16 L543.24,17.02 L544.80,16.89" stroke="#f5c830" stroke-width="1.1"/><path d="M389.20,87.40 L389.25,87.34 L389.34,87.24 L389.47,87.11 L389.63,86.96 L389.81,86.80 L390.02,86.63 L390.25,86.44 L390.50,86.24 L390.77,86.03 L391.06,85.81 L391.37,85.59 L391.69,85.35 L392.03,85.11 L392.39,84.86 L392.76,84.60 L393.15,84.34 L393.55,84.07 L393.97,83.80 L394.40,83.52 L394.84,83.24 L395.30,82.95 L395.77,82.65 L396.26,82.36 L396.75,82.06 L397.26,81.75 L397.78,81.44 L398.32,81.13 L398.87,80.81 L399.42,80.49 L399.99,80.17 L400.58,79.84 L401.17,79.51 L401.77,79.17 L402.39,78.83 L403.01,78.48 L403.65,78.12 L404.30,77.76 L404.96,77.40 L405.62,77.03 L406.30,76.65 L406.99,76.27 L407.69,75.88 L408.40,75.49 L409.12,75.10 L409.85,74.70 L410.59,74.29 L411.34,73.88 L412.10,73.47 L412.86,73.05 L413.64,72.62 L414.43,72.20 L415.22,71.76 L416.03,71.33 L416.84,70.89 L417.67,70.44 L418.50,69.99 L419.34,69.54 L420.19,69.09 L421.05,68.63 L421.92,68.17 L422.80,67.70 L423.68,67.23 L424.58,66.76 L425.48,66.29 L426.39,65.81 L427.31,65.33 L428.24,64.85 L429.17,64.37 L430.12,63.88 L431.07,63.39 L432.03,62.90 L433.00,62.40 L433.98,61.91 L434.97,61.41 L435.96,60.91 L436.96,60.41 L437.97,59.91 L438.99,59.41 L440.01,58.91 L441.05,58.40 L442.09,57.89 L443.14,57.39 L444.19,56.88 L445.26,56.37 L446.33,55.86 L447.41,55.35 L448.49,54.85 L449.59,54.34 L450.69,53.83 L451.80,53.32 L452.91,52.81 L454.04,52.30 L455.17,51.79 L456.31,51.29 L457.45,50.78 L458.61,50.27 L459.77,49.77 L460.94,49.27 L462.11,48.76 L463.29,48.26 L464.48,47.76 L465.68,47.26 L466.88,46.77 L468.09,46.27 L469.31,45.78 L470.53,45.29 L471.76,44.80 L473.00,44.31 L474.25,43.83 L475.50,43.34 L476.76,42.86 L478.02,42.39 L479.29,41.91 L480.57,41.44 L481.86,40.97 L483.15,40.50 L484.45,40.04 L485.76,39.58 L487.07,39.12 L488.39,38.66 L489.71,38.21 L491.05,37.76 L492.39,37.32 L493.73,36.88 L495.08,36.44 L496.44,36.00 L497.81,35.57 L499.18,35.15 L500.56,34.72 L501.94,34.30 L503.33,33.89 L504.73,33.47 L506.13,33.07 L507.54,32.66 L508.96,32.26 L510.38,31.87 L511.81,31.48 L513.25,31.09 L514.69,30.71 L516.13,30.33 L517.59,29.95 L519.05,29.58 L520.51,29.22 L521.99,28.85 L523.47,28.50 L524.95,28.15 L526.44,27.80 L527.94,27.45 L529.44,27.11 L530.95,26.78 L532.46,26.45 L533.99,26.12 L535.51,25.80 L537.05,25.49 L538.58,25.17 L540.13,24.87 L541.68,24.56 L543.24,24.26 L544.80,23.97" stroke="#f06a3c" stroke-width="1.1"/></g><g fill="#000"><circle cx="391.87" cy="82.58" r="1.35"/><circle cx="395.51" cy="78.13" r="1.35"/><circle cx="399.25" cy="73.38" r="1.35"/><circle cx="405.12" cy="68.49" r="1.35"/><circle cx="412.94" cy="63.89" r="1.35"/><circle cx="421.39" cy="59.22" r="1.35"/><circle cx="429.83" cy="54.48" r="1.35"/><circle cx="439.44" cy="50.17" r="1.35"/><circle cx="448.42" cy="45.50" r="1.35"/><circle cx="458.64" cy="40.83" r="1.35"/><circle cx="468.42" cy="36.08" r="1.35"/><circle cx="481.14" cy="31.41" r="1.35"/><circle cx="493.50" cy="26.66" r="1.35"/><circle cx="509.15" cy="22.21" r="1.35"/><circle cx="527.82" cy="17.47" r="1.35"/></g><path d="M389.50,11.10 H544.50" fill="none" stroke="#bdbdbd" stroke-width="1.4"/><path d="M544.50,11.10 V87.50" fill="none" stroke="#a8a8a8" stroke-width="1.0"/><path d="M389.50,10.60 V87.50 H545.00" fill="none" stroke="#9a9a9a" stroke-width="1.0"/><path d="M387.60,87.40H389.50M388.20,80.10H389.50M387.60,72.80H389.50M388.20,65.50H389.50M387.60,58.20H389.50M388.20,50.90H389.50M387.60,43.60H389.50M388.20,36.30H389.50M387.60,29.00H389.50M388.20,21.70H389.50M387.60,14.40H389.50M389.20,87.50V89.40M411.43,87.50V88.80M433.66,87.50V89.40M455.89,87.50V88.80M478.11,87.50V89.40M500.34,87.50V88.80M522.57,87.50V89.40M544.80,87.50V88.80" stroke="#909090" stroke-width="0.7" fill="none"/><g font-size="3.9" fill="#222" style="stroke:#222;stroke-width:0.12px"><text x="386.50" y="88.80" text-anchor="end">0.0</text><text x="386.50" y="74.20" text-anchor="end">0.2</text><text x="386.50" y="59.60" text-anchor="end">0.4</text><text x="386.50" y="45.00" text-anchor="end">0.6</text><text x="386.50" y="30.40" text-anchor="end">0.8</text><text x="386.50" y="15.80" text-anchor="end">1.0</text><text x="389.20" y="93.40" text-anchor="middle">0</text><text x="433.66" y="93.40" text-anchor="middle">50</text><text x="478.11" y="93.40" text-anchor="middle">100</text><text x="522.57" y="93.40" text-anchor="middle">150</text></g><text x="467.60" y="97.70" text-anchor="middle" font-size="4.35" fill="#000">Time (min)</text><text transform="translate(377.30,47.20) rotate(-90)" text-anchor="middle" font-size="4.6" fill="#000">Conversion (X)</text><text x="384.40" y="8.40" font-size="6.3" text-anchor="middle" fill="#000">C</text><text x="389.70" y="8.40" font-size="5.0" fill="#000">T: 850 °C, H<tspan font-size="3.3" dy="1.0">2</tspan><tspan dy="-1.0">: 100 ccm, </tspan>N<tspan font-size="3.3" dy="1.0">2</tspan><tspan dy="-1.0">: 200 ccm, m: 5.36 g</tspan></text><rect x="509.80" y="44.20" width="33.6" height="41.8" fill="#fff" stroke="#c8c8c8" stroke-width="0.6"/><g font-size="4.7" fill="#000"><path d="M510.20,47.80h11.4" stroke="#8f52e6" stroke-width="1.4"/><text x="522.40" y="49.50">X-Pm</text><path d="M510.20,53.75h11.4" stroke="#4c80ea" stroke-width="1.4"/><text x="522.40" y="55.45">X-Ps</text><path d="M510.20,59.70h11.4" stroke="#4fe0f2" stroke-width="1.4"/><text x="522.40" y="61.40">X-PH2</text><path d="M510.20,65.65h11.4" stroke="#52dc58" stroke-width="1.4"/><text x="522.40" y="67.35">X-P(50%)</text><path d="M510.20,71.60h11.4" stroke="#f7d978" stroke-width="1.4"/><text x="522.40" y="73.30">X-P(10%)</text><path d="M510.20,77.55h11.4" stroke="#f29a7a" stroke-width="1.4"/><text x="522.40" y="79.25">X-P(5%)</text><circle cx="515.40" cy="83.50" r="1.35" fill="#000"/><text x="522.40" y="85.20">X-Exp 3</text></g></g>
<g><clipPath id="cD"><rect x="19.40" y="108.00" width="155.60" height="76.20"/></clipPath><g clip-path="url(#cD)" fill="none" stroke-width="1.3" stroke-linejoin="round"><path d="M19.40,184.20 L19.45,184.09 L19.54,183.90 L19.67,183.67 L19.83,183.40 L20.01,183.10 L20.22,182.78 L20.45,182.43 L20.70,182.07 L20.97,181.68 L21.26,181.28 L21.57,180.87 L21.89,180.44 L22.23,180.00 L22.59,179.55 L22.96,179.08 L23.35,178.61 L23.75,178.13 L24.17,177.64 L24.60,177.14 L25.04,176.63 L25.50,176.12 L25.97,175.59 L26.46,175.06 L26.95,174.52 L27.46,173.98 L27.98,173.42 L28.52,172.86 L29.07,172.29 L29.62,171.71 L30.19,171.13 L30.78,170.55 L31.37,169.95 L31.97,169.35 L32.59,168.75 L33.21,168.14 L33.85,167.53 L34.50,166.92 L35.16,166.30 L35.82,165.68 L36.50,165.05 L37.19,164.43 L37.89,163.80 L38.60,163.16 L39.32,162.53 L40.05,161.89 L40.79,161.26 L41.54,160.62 L42.30,159.98 L43.06,159.34 L43.84,158.70 L44.63,158.06 L45.42,157.42 L46.23,156.78 L47.04,156.15 L47.87,155.51 L48.70,154.87 L49.54,154.24 L50.39,153.60 L51.25,152.97 L52.12,152.34 L53.00,151.71 L53.88,151.09 L54.78,150.47 L55.68,149.85 L56.59,149.23 L57.51,148.61 L58.44,148.00 L59.37,147.39 L60.32,146.79 L61.27,146.19 L62.23,145.59 L63.20,145.00 L64.18,144.41 L65.17,143.83 L66.16,143.25 L67.16,142.67 L68.17,142.10 L69.19,141.53 L70.21,140.97 L71.25,140.41 L72.29,139.86 L73.34,139.31 L74.39,138.77 L75.46,138.23 L76.53,137.70 L77.61,137.18 L78.69,136.66 L79.79,136.14 L80.89,135.63 L82.00,135.13 L83.11,134.63 L84.24,134.14 L85.37,133.65 L86.51,133.17 L87.65,132.69 L88.81,132.23 L89.97,131.76 L91.14,131.31 L92.31,130.85 L93.49,130.41 L94.68,129.97 L95.88,129.54 L97.08,129.11 L98.29,128.69 L99.51,128.28 L100.73,127.87 L101.96,127.46 L103.20,127.07 L104.45,126.68 L105.70,126.29 L106.96,125.91 L108.22,125.54 L109.49,125.18 L110.77,124.82 L112.06,124.46 L113.35,124.11 L114.65,123.77 L115.96,123.43 L117.27,123.10 L118.59,122.78 L119.91,122.46 L121.25,122.14 L122.59,121.84 L123.93,121.53 L125.28,121.24 L126.64,120.95 L128.01,120.66 L129.38,120.38 L130.76,120.10 L132.14,119.83 L133.53,119.57 L134.93,119.31 L136.33,119.06 L137.74,118.81 L139.16,118.57 L140.58,118.33 L142.01,118.09 L143.45,117.86 L144.89,117.64 L146.33,117.42 L147.79,117.21 L149.25,117.00 L150.71,116.79 L152.19,116.59 L153.67,116.40 L155.15,116.20 L156.64,116.02 L158.14,115.83 L159.64,115.65 L161.15,115.48 L162.66,115.31 L164.19,115.14 L165.71,114.98 L167.25,114.82 L168.78,114.67 L170.33,114.52 L171.88,114.37 L173.44,114.22 L175.00,114.08" stroke="#30e0f0" stroke-width="1.2"/><path d="M19.40,184.20 L19.45,184.12 L19.54,183.97 L19.67,183.75 L19.83,183.49 L20.01,183.19 L20.22,182.86 L20.45,182.49 L20.70,182.09 L20.97,181.66 L21.26,181.21 L21.57,180.73 L21.89,180.22 L22.23,179.70 L22.59,179.15 L22.96,178.59 L23.35,178.01 L23.75,177.41 L24.17,176.79 L24.60,176.16 L25.04,175.52 L25.50,174.86 L25.97,174.19 L26.46,173.52 L26.95,172.84 L27.46,172.14 L27.98,171.45 L28.52,170.74 L29.07,170.03 L29.62,169.32 L30.19,168.60 L30.78,167.88 L31.37,167.16 L31.97,166.43 L32.59,165.71 L33.21,164.98 L33.85,164.25 L34.50,163.52 L35.16,162.80 L35.82,162.07 L36.50,161.34 L37.19,160.62 L37.89,159.90 L38.60,159.17 L39.32,158.46 L40.05,157.74 L40.79,157.03 L41.54,156.32 L42.30,155.62 L43.06,154.92 L43.84,154.22 L44.63,153.53 L45.42,152.84 L46.23,152.16 L47.04,151.48 L47.87,150.81 L48.70,150.14 L49.54,149.48 L50.39,148.82 L51.25,148.17 L52.12,147.52 L53.00,146.89 L53.88,146.25 L54.78,145.63 L55.68,145.01 L56.59,144.39 L57.51,143.78 L58.44,143.18 L59.37,142.59 L60.32,142.00 L61.27,141.42 L62.23,140.85 L63.20,140.28 L64.18,139.72 L65.17,139.16 L66.16,138.62 L67.16,138.08 L68.17,137.54 L69.19,137.02 L70.21,136.50 L71.25,135.99 L72.29,135.48 L73.34,134.98 L74.39,134.49 L75.46,134.00 L76.53,133.52 L77.61,133.05 L78.69,132.59 L79.79,132.13 L80.89,131.68 L82.00,131.23 L83.11,130.79 L84.24,130.36 L85.37,129.94 L86.51,129.52 L87.65,129.11 L88.81,128.70 L89.97,128.30 L91.14,127.91 L92.31,127.52 L93.49,127.14 L94.68,126.77 L95.88,126.40 L97.08,126.04 L98.29,125.68 L99.51,125.33 L100.73,124.99 L101.96,124.65 L103.20,124.31 L104.45,123.99 L105.70,123.67 L106.96,123.35 L108.22,123.04 L109.49,122.73 L110.77,122.43 L112.06,122.14 L113.35,121.85 L114.65,121.57 L115.96,121.29 L117.27,121.01 L118.59,120.75 L119.91,120.48 L121.25,120.22 L122.59,119.97 L123.93,119.72 L125.28,119.47 L126.64,119.23 L128.01,119.00 L129.38,118.77 L130.76,118.54 L132.14,118.32 L133.53,118.10 L134.93,117.88 L136.33,117.67 L137.74,117.47 L139.16,117.27 L140.58,117.07 L142.01,116.87 L143.45,116.68 L144.89,116.50 L146.33,116.31 L147.79,116.14 L149.25,115.96 L150.71,115.79 L152.19,115.62 L153.67,115.45 L155.15,115.29 L156.64,115.13 L158.14,114.98 L159.64,114.83 L161.15,114.68 L162.66,114.53 L164.19,114.39 L165.71,114.25 L167.25,114.11 L168.78,113.98 L170.33,113.85 L171.88,113.72 L173.44,113.59 L175.00,113.47" stroke="#9b40e8" stroke-width="1.3"/><path d="M19.40,184.20 L19.45,184.12 L19.54,183.97 L19.67,183.75 L19.83,183.49 L20.01,183.19 L20.22,182.86 L20.45,182.49 L20.70,182.09 L20.97,181.66 L21.26,181.21 L21.57,180.73 L21.89,180.22 L22.23,179.70 L22.59,179.15 L22.96,178.59 L23.35,178.01 L23.75,177.41 L24.17,176.79 L24.60,176.16 L25.04,175.52 L25.50,174.86 L25.97,174.19 L26.46,173.52 L26.95,172.84 L27.46,172.14 L27.98,171.45 L28.52,170.74 L29.07,170.03 L29.62,169.32 L30.19,168.60 L30.78,167.88 L31.37,167.16 L31.97,166.43 L32.59,165.71 L33.21,164.98 L33.85,164.25 L34.50,163.52 L35.16,162.80 L35.82,162.07 L36.50,161.34 L37.19,160.62 L37.89,159.90 L38.60,159.17 L39.32,158.46 L40.05,157.74 L40.79,157.03 L41.54,156.32 L42.30,155.62 L43.06,154.92 L43.84,154.22 L44.63,153.53 L45.42,152.84 L46.23,152.16 L47.04,151.48 L47.87,150.81 L48.70,150.14 L49.54,149.48 L50.39,148.82 L51.25,148.17 L52.12,147.52 L53.00,146.89 L53.88,146.25 L54.78,145.63 L55.68,145.01 L56.59,144.39 L57.51,143.78 L58.44,143.18 L59.37,142.59 L60.32,142.00 L61.27,141.42 L62.23,140.85 L63.20,140.28 L64.18,139.72 L65.17,139.16 L66.16,138.62 L67.16,138.08 L68.17,137.54 L69.19,137.02 L70.21,136.50 L71.25,135.99 L72.29,135.48 L73.34,134.98 L74.39,134.49 L75.46,134.00 L76.53,133.52 L77.61,133.05 L78.69,132.59 L79.79,132.13 L80.89,131.68 L82.00,131.23 L83.11,130.79 L84.24,130.36 L85.37,129.94 L86.51,129.52 L87.65,129.11 L88.81,128.70 L89.97,128.30 L91.14,127.91 L92.31,127.52 L93.49,127.14 L94.68,126.77 L95.88,126.40 L97.08,126.04 L98.29,125.68 L99.51,125.33 L100.73,124.99 L101.96,124.65 L103.20,124.31 L104.45,123.99 L105.70,123.67 L106.96,123.35 L108.22,123.04 L109.49,122.73 L110.77,122.43 L112.06,122.14 L113.35,121.85 L114.65,121.57 L115.96,121.29 L117.27,121.01 L118.59,120.75 L119.91,120.48 L121.25,120.22 L122.59,119.97 L123.93,119.72 L125.28,119.47 L126.64,119.23 L128.01,119.00 L129.38,118.77 L130.76,118.54 L132.14,118.32 L133.53,118.10 L134.93,117.88 L136.33,117.67 L137.74,117.47 L139.16,117.27 L140.58,117.07 L142.01,116.87 L143.45,116.68 L144.89,116.50 L146.33,116.31 L147.79,116.14 L149.25,115.96 L150.71,115.79 L152.19,115.62 L153.67,115.45 L155.15,115.29 L156.64,115.13 L158.14,114.98 L159.64,114.83 L161.15,114.68 L162.66,114.53 L164.19,114.39 L165.71,114.25 L167.25,114.11 L168.78,113.98 L170.33,113.85 L171.88,113.72 L173.44,113.59 L175.00,113.47" stroke="#2f62ea" stroke-width="1.2"/><path d="M19.40,184.20 L19.45,184.12 L19.54,183.96 L19.67,183.74 L19.83,183.47 L20.01,183.16 L20.22,182.81 L20.45,182.42 L20.70,182.01 L20.97,181.56 L21.26,181.08 L21.57,180.58 L21.89,180.05 L22.23,179.50 L22.59,178.93 L22.96,178.34 L23.35,177.73 L23.75,177.10 L24.17,176.46 L24.60,175.80 L25.04,175.12 L25.50,174.43 L25.97,173.74 L26.46,173.03 L26.95,172.31 L27.46,171.59 L27.98,170.86 L28.52,170.13 L29.07,169.38 L29.62,168.64 L30.19,167.89 L30.78,167.14 L31.37,166.39 L31.97,165.63 L32.59,164.88 L33.21,164.12 L33.85,163.36 L34.50,162.61 L35.16,161.85 L35.82,161.10 L36.50,160.35 L37.19,159.60 L37.89,158.85 L38.60,158.11 L39.32,157.37 L40.05,156.63 L40.79,155.90 L41.54,155.17 L42.30,154.44 L43.06,153.72 L43.84,153.01 L44.63,152.30 L45.42,151.59 L46.23,150.89 L47.04,150.20 L47.87,149.51 L48.70,148.83 L49.54,148.16 L50.39,147.49 L51.25,146.82 L52.12,146.17 L53.00,145.52 L53.88,144.88 L54.78,144.24 L55.68,143.62 L56.59,142.99 L57.51,142.38 L58.44,141.77 L59.37,141.17 L60.32,140.58 L61.27,140.00 L62.23,139.42 L63.20,138.85 L64.18,138.29 L65.17,137.73 L66.16,137.18 L67.16,136.64 L68.17,136.11 L69.19,135.58 L70.21,135.07 L71.25,134.56 L72.29,134.05 L73.34,133.56 L74.39,133.07 L75.46,132.59 L76.53,132.11 L77.61,131.64 L78.69,131.18 L79.79,130.73 L80.89,130.29 L82.00,129.85 L83.11,129.42 L84.24,128.99 L85.37,128.57 L86.51,128.16 L87.65,127.76 L88.81,127.36 L89.97,126.97 L91.14,126.59 L92.31,126.21 L93.49,125.84 L94.68,125.47 L95.88,125.11 L97.08,124.76 L98.29,124.42 L99.51,124.08 L100.73,123.74 L101.96,123.41 L103.20,123.09 L104.45,122.78 L105.70,122.47 L106.96,122.16 L108.22,121.86 L109.49,121.57 L110.77,121.28 L112.06,121.00 L113.35,120.72 L114.65,120.45 L115.96,120.18 L117.27,119.92 L118.59,119.66 L119.91,119.41 L121.25,119.16 L122.59,118.92 L123.93,118.69 L125.28,118.45 L126.64,118.23 L128.01,118.00 L129.38,117.78 L130.76,117.57 L132.14,117.36 L133.53,117.15 L134.93,116.95 L136.33,116.75 L137.74,116.56 L139.16,116.37 L140.58,116.18 L142.01,116.00 L143.45,115.82 L144.89,115.65 L146.33,115.48 L147.79,115.31 L149.25,115.15 L150.71,114.99 L152.19,114.83 L153.67,114.68 L155.15,114.53 L156.64,114.38 L158.14,114.23 L159.64,114.09 L161.15,113.96 L162.66,113.82 L164.19,113.69 L165.71,113.56 L167.25,113.43 L168.78,113.31 L170.33,113.19 L171.88,113.07 L173.44,112.96 L175.00,112.84" stroke="#33d944" stroke-width="1.1"/><path d="M19.40,184.20 L19.45,183.83 L19.54,183.45 L19.67,183.07 L19.83,182.69 L20.01,182.30 L20.22,181.92 L20.45,181.53 L20.70,181.15 L20.97,180.76 L21.26,180.38 L21.57,180.00 L21.89,179.62 L22.23,179.24 L22.59,178.86 L22.96,178.49 L23.35,178.11 L23.75,177.74 L24.17,177.36 L24.60,176.99 L25.04,176.63 L25.50,176.26 L25.97,175.89 L26.46,175.53 L26.95,175.17 L27.46,174.80 L27.98,174.44 L28.52,174.06 L29.07,173.67 L29.62,173.27 L30.19,172.87 L30.78,172.46 L31.37,172.03 L31.97,171.60 L32.59,171.16 L33.21,170.72 L33.85,170.26 L34.50,169.80 L35.16,169.33 L35.82,168.85 L36.50,168.37 L37.19,167.87 L37.89,167.37 L38.60,166.87 L39.32,166.35 L40.05,165.83 L40.79,165.30 L41.54,164.77 L42.30,164.23 L43.06,163.68 L43.84,163.13 L44.63,162.57 L45.42,162.01 L46.23,161.44 L47.04,160.87 L47.87,160.29 L48.70,159.71 L49.54,159.12 L50.39,158.53 L51.25,157.93 L52.12,157.34 L53.00,156.73 L53.88,156.13 L54.78,155.52 L55.68,154.91 L56.59,154.29 L57.51,153.67 L58.44,153.06 L59.37,152.44 L60.32,151.81 L61.27,151.19 L62.23,150.57 L63.20,149.94 L64.18,149.32 L65.17,148.69 L66.16,148.07 L67.16,147.44 L68.17,146.82 L69.19,146.20 L70.21,145.57 L71.25,144.95 L72.29,144.34 L73.34,143.72 L74.39,143.10 L75.46,142.49 L76.53,141.88 L77.61,141.28 L78.69,140.68 L79.79,140.08 L80.89,139.48 L82.00,138.89 L83.11,138.31 L84.24,137.72 L85.37,137.15 L86.51,136.58 L87.65,136.01 L88.81,135.45 L89.97,134.89 L91.14,134.34 L92.31,133.80 L93.49,133.26 L94.68,132.73 L95.88,132.21 L97.08,131.69 L98.29,131.18 L99.51,130.67 L100.73,130.18 L101.96,129.69 L103.20,129.21 L104.45,128.73 L105.70,128.27 L106.96,127.81 L108.22,127.36 L109.49,126.92 L110.77,126.48 L112.06,126.06 L113.35,125.64 L114.65,125.23 L115.96,124.83 L117.27,124.44 L118.59,124.05 L119.91,123.68 L121.25,123.31 L122.59,122.95 L123.93,122.60 L125.28,122.26 L126.64,121.93 L128.01,121.60 L129.38,121.29 L130.76,120.98 L132.14,120.68 L133.53,120.39 L134.93,120.10 L136.33,119.83 L137.74,119.56 L139.16,119.30 L140.58,119.05 L142.01,118.81 L143.45,118.57 L144.89,118.34 L146.33,118.12 L147.79,117.91 L149.25,117.70 L150.71,117.50 L152.19,117.31 L153.67,117.13 L155.15,116.95 L156.64,116.77 L158.14,116.61 L159.64,116.45 L161.15,116.30 L162.66,116.15 L164.19,116.01 L165.71,115.87 L167.25,115.74 L168.78,115.62 L170.33,115.50 L171.88,115.38 L173.44,115.27 L175.00,115.17" stroke="#f5c830" stroke-width="1.1"/><path d="M19.40,184.20 L19.45,184.10 L19.54,183.95 L19.67,183.78 L19.83,183.59 L20.01,183.38 L20.22,183.17 L20.45,182.94 L20.70,182.70 L20.97,182.46 L21.26,182.20 L21.57,181.94 L21.89,181.68 L22.23,181.41 L22.59,181.13 L22.96,180.85 L23.35,180.56 L23.75,180.27 L24.17,179.98 L24.60,179.68 L25.04,179.38 L25.50,179.07 L25.97,178.76 L26.46,178.45 L26.95,178.14 L27.46,177.82 L27.98,177.50 L28.52,177.18 L29.07,176.86 L29.62,176.53 L30.19,176.21 L30.78,175.88 L31.37,175.55 L31.97,175.22 L32.59,174.88 L33.21,174.55 L33.85,174.22 L34.50,173.88 L35.16,173.54 L35.82,173.19 L36.50,172.84 L37.19,172.49 L37.89,172.13 L38.60,171.76 L39.32,171.39 L40.05,171.02 L40.79,170.64 L41.54,170.25 L42.30,169.87 L43.06,169.47 L43.84,169.08 L44.63,168.68 L45.42,168.27 L46.23,167.86 L47.04,167.45 L47.87,167.03 L48.70,166.61 L49.54,166.18 L50.39,165.75 L51.25,165.32 L52.12,164.88 L53.00,164.44 L53.88,164.00 L54.78,163.55 L55.68,163.10 L56.59,162.65 L57.51,162.19 L58.44,161.73 L59.37,161.27 L60.32,160.80 L61.27,160.33 L62.23,159.86 L63.20,159.39 L64.18,158.91 L65.17,158.44 L66.16,157.96 L67.16,157.47 L68.17,156.99 L69.19,156.51 L70.21,156.02 L71.25,155.53 L72.29,155.04 L73.34,154.55 L74.39,154.05 L75.46,153.56 L76.53,153.06 L77.61,152.57 L78.69,152.07 L79.79,151.57 L80.89,151.07 L82.00,150.57 L83.11,150.07 L84.24,149.57 L85.37,149.07 L86.51,148.57 L87.65,148.07 L88.81,147.57 L89.97,147.07 L91.14,146.57 L92.31,146.07 L93.49,145.57 L94.68,145.08 L95.88,144.58 L97.08,144.08 L98.29,143.59 L99.51,143.10 L100.73,142.60 L101.96,142.11 L103.20,141.62 L104.45,141.14 L105.70,140.65 L106.96,140.17 L108.22,139.69 L109.49,139.21 L110.77,138.73 L112.06,138.25 L113.35,137.78 L114.65,137.31 L115.96,136.84 L117.27,136.37 L118.59,135.91 L119.91,135.45 L121.25,134.99 L122.59,134.54 L123.93,134.09 L125.28,133.64 L126.64,133.20 L128.01,132.75 L129.38,132.32 L130.76,131.88 L132.14,131.45 L133.53,131.02 L134.93,130.60 L136.33,130.18 L137.74,129.76 L139.16,129.35 L140.58,128.94 L142.01,128.54 L143.45,128.14 L144.89,127.74 L146.33,127.35 L147.79,126.96 L149.25,126.58 L150.71,126.20 L152.19,125.82 L153.67,125.45 L155.15,125.09 L156.64,124.72 L158.14,124.37 L159.64,124.02 L161.15,123.67 L162.66,123.32 L164.19,122.98 L165.71,122.65 L167.25,122.32 L168.78,122.00 L170.33,121.68 L171.88,121.36 L173.44,121.05 L175.00,120.74" stroke="#f06a3c" stroke-width="1.1"/></g><g fill="#000"><circle cx="25.13" cy="175.59" r="1.35"/><circle cx="31.97" cy="166.90" r="1.35"/><circle cx="44.54" cy="158.50" r="1.35"/><circle cx="62.35" cy="150.18" r="1.35"/><circle cx="77.28" cy="141.71" r="1.35"/><circle cx="97.32" cy="133.32" r="1.35"/><circle cx="118.74" cy="125.07" r="1.35"/><circle cx="148.49" cy="116.38" r="1.35"/></g><path d="M19.50,107.90 H175.50" fill="none" stroke="#bdbdbd" stroke-width="1.4"/><path d="M175.50,107.90 V184.50" fill="none" stroke="#a8a8a8" stroke-width="1.0"/><path d="M19.50,107.40 V184.50 H176.00" fill="none" stroke="#9a9a9a" stroke-width="1.0"/><path d="M17.60,184.20H19.50M18.20,176.90H19.50M17.60,169.60H19.50M18.20,162.30H19.50M17.60,155.00H19.50M18.20,147.70H19.50M17.60,140.40H19.50M18.20,133.10H19.50M17.60,125.80H19.50M18.20,118.50H19.50M17.60,111.20H19.50M19.40,184.50V186.40M34.96,184.50V185.80M50.52,184.50V186.40M66.08,184.50V185.80M81.64,184.50V186.40M97.20,184.50V185.80M112.76,184.50V186.40M128.32,184.50V185.80M143.88,184.50V186.40M159.44,184.50V185.80M175.00,184.50V186.40" stroke="#909090" stroke-width="0.7" fill="none"/><g font-size="3.9" fill="#222" style="stroke:#222;stroke-width:0.12px"><text x="16.70" y="185.60" text-anchor="end">0.0</text><text x="16.70" y="171.00" text-anchor="end">0.2</text><text x="16.70" y="156.40" text-anchor="end">0.4</text><text x="16.70" y="141.80" text-anchor="end">0.6</text><text x="16.70" y="127.20" text-anchor="end">0.8</text><text x="16.70" y="112.60" text-anchor="end">1.0</text><text x="19.40" y="190.20" text-anchor="middle">0</text><text x="50.52" y="190.20" text-anchor="middle">25</text><text x="81.64" y="190.20" text-anchor="middle">50</text><text x="112.76" y="190.20" text-anchor="middle">75</text><text x="143.88" y="190.20" text-anchor="middle">100</text><text x="175.00" y="190.20" text-anchor="middle">125</text></g><text x="97.80" y="194.50" text-anchor="middle" font-size="4.35" fill="#000">Time (min)</text><text transform="translate(7.50,144.00) rotate(-90)" text-anchor="middle" font-size="4.6" fill="#000">Conversion (X)</text><text x="14.60" y="105.20" font-size="6.3" text-anchor="middle" fill="#000">D</text><text x="19.90" y="105.20" font-size="5.0" fill="#000">T: 850 °C, H<tspan font-size="3.3" dy="1.0">2</tspan><tspan dy="-1.0">: 100 ccm, </tspan>N<tspan font-size="3.3" dy="1.0">2</tspan><tspan dy="-1.0">: 200 ccm, m: 2.96 g</tspan></text><rect x="140.00" y="141.00" width="33.6" height="41.8" fill="#fff" stroke="#c8c8c8" stroke-width="0.6"/><g font-size="4.7" fill="#000"><path d="M140.40,144.60h11.4" stroke="#8f52e6" stroke-width="1.4"/><text x="152.60" y="146.30">X-Pm</text><path d="M140.40,150.55h11.4" stroke="#4c80ea" stroke-width="1.4"/><text x="152.60" y="152.25">X-Ps</text><path d="M140.40,156.50h11.4" stroke="#4fe0f2" stroke-width="1.4"/><text x="152.60" y="158.20">X-PH2</text><path d="M140.40,162.45h11.4" stroke="#52dc58" stroke-width="1.4"/><text x="152.60" y="164.15">X-P(50%)</text><path d="M140.40,168.40h11.4" stroke="#f7d978" stroke-width="1.4"/><text x="152.60" y="170.10">X-P(10%)</text><path d="M140.40,174.35h11.4" stroke="#f29a7a" stroke-width="1.4"/><text x="152.60" y="176.05">X-P(5%)</text><circle cx="145.60" cy="180.30" r="1.35" fill="#000"/><text x="152.60" y="182.00">X-Exp 4</text></g></g>
<g><clipPath id="cE"><rect x="204.30" y="108.00" width="155.60" height="76.20"/></clipPath><g clip-path="url(#cE)" fill="none" stroke-width="1.3" stroke-linejoin="round"><path d="M204.30,184.20 L204.35,183.98 L204.44,183.67 L204.57,183.33 L204.73,182.94 L204.91,182.54 L205.12,182.11 L205.35,181.67 L205.60,181.21 L205.87,180.73 L206.16,180.25 L206.47,179.75 L206.79,179.24 L207.13,178.72 L207.49,178.20 L207.86,177.66 L208.25,177.12 L208.65,176.57 L209.07,176.02 L209.50,175.46 L209.94,174.90 L210.40,174.33 L210.87,173.75 L211.36,173.17 L211.85,172.59 L212.36,171.99 L212.88,171.40 L213.42,170.80 L213.97,170.19 L214.52,169.58 L215.09,168.96 L215.68,168.35 L216.27,167.73 L216.87,167.10 L217.49,166.47 L218.11,165.85 L218.75,165.22 L219.40,164.58 L220.06,163.95 L220.72,163.31 L221.40,162.68 L222.09,162.04 L222.79,161.40 L223.50,160.77 L224.22,160.13 L224.95,159.49 L225.69,158.85 L226.44,158.22 L227.20,157.58 L227.96,156.95 L228.74,156.32 L229.53,155.69 L230.32,155.06 L231.13,154.43 L231.94,153.81 L232.77,153.19 L233.60,152.57 L234.44,151.95 L235.29,151.34 L236.15,150.73 L237.02,150.12 L237.90,149.52 L238.78,148.92 L239.68,148.32 L240.58,147.73 L241.49,147.14 L242.41,146.55 L243.34,145.97 L244.27,145.40 L245.22,144.82 L246.17,144.26 L247.13,143.69 L248.10,143.14 L249.08,142.58 L250.07,142.03 L251.06,141.49 L252.06,140.95 L253.07,140.42 L254.09,139.89 L255.11,139.37 L256.15,138.85 L257.19,138.34 L258.24,137.83 L259.29,137.33 L260.36,136.83 L261.43,136.34 L262.51,135.86 L263.59,135.38 L264.69,134.91 L265.79,134.44 L266.90,133.97 L268.01,133.52 L269.14,133.07 L270.27,132.62 L271.41,132.18 L272.55,131.75 L273.71,131.32 L274.87,130.89 L276.04,130.48 L277.21,130.06 L278.39,129.66 L279.58,129.26 L280.78,128.86 L281.98,128.47 L283.19,128.09 L284.41,127.71 L285.63,127.34 L286.86,126.97 L288.10,126.61 L289.35,126.25 L290.60,125.90 L291.86,125.56 L293.12,125.21 L294.39,124.88 L295.67,124.55 L296.96,124.22 L298.25,123.90 L299.55,123.59 L300.86,123.28 L302.17,122.98 L303.49,122.68 L304.81,122.38 L306.15,122.09 L307.49,121.81 L308.83,121.53 L310.18,121.25 L311.54,120.98 L312.91,120.72 L314.28,120.45 L315.66,120.20 L317.04,119.95 L318.43,119.70 L319.83,119.45 L321.23,119.21 L322.64,118.98 L324.06,118.75 L325.48,118.52 L326.91,118.30 L328.35,118.08 L329.79,117.87 L331.23,117.66 L332.69,117.45 L334.15,117.25 L335.61,117.05 L337.09,116.86 L338.57,116.67 L340.05,116.48" stroke="#30e0f0" stroke-width="1.0"/><path d="M204.30,184.20 L204.35,183.96 L204.44,183.63 L204.57,183.25 L204.73,182.84 L204.91,182.40 L205.12,181.94 L205.35,181.46 L205.60,180.97 L205.87,180.46 L206.16,179.95 L206.47,179.42 L206.79,178.88 L207.13,178.33 L207.49,177.77 L207.86,177.21 L208.25,176.64 L208.65,176.07 L209.07,175.49 L209.50,174.91 L209.94,174.32 L210.40,173.73 L210.87,173.13 L211.36,172.53 L211.85,171.93 L212.36,171.32 L212.88,170.70 L213.42,170.09 L213.97,169.47 L214.52,168.84 L215.09,168.22 L215.68,167.59 L216.27,166.96 L216.87,166.32 L217.49,165.69 L218.11,165.06 L218.75,164.42 L219.40,163.78 L220.06,163.14 L220.72,162.51 L221.40,161.87 L222.09,161.23 L222.79,160.59 L223.50,159.96 L224.22,159.32 L224.95,158.68 L225.69,158.05 L226.44,157.42 L227.20,156.79 L227.96,156.16 L228.74,155.53 L229.53,154.91 L230.32,154.29 L231.13,153.67 L231.94,153.05 L232.77,152.44 L233.60,151.83 L234.44,151.22 L235.29,150.62 L236.15,150.02 L237.02,149.42 L237.90,148.82 L238.78,148.24 L239.68,147.65 L240.58,147.07 L241.49,146.49 L242.41,145.92 L243.34,145.35 L244.27,144.78 L245.22,144.22 L246.17,143.67 L247.13,143.12 L248.10,142.57 L249.08,142.03 L250.07,141.50 L251.06,140.97 L252.06,140.44 L253.07,139.92 L254.09,139.40 L255.11,138.89 L256.15,138.39 L257.19,137.89 L258.24,137.39 L259.29,136.90 L260.36,136.42 L261.43,135.94 L262.51,135.47 L263.59,135.00 L264.69,134.53 L265.79,134.08 L266.90,133.63 L268.01,133.18 L269.14,132.74 L270.27,132.30 L271.41,131.87 L272.55,131.45 L273.71,131.03 L274.87,130.62 L276.04,130.21 L277.21,129.81 L278.39,129.41 L279.58,129.02 L280.78,128.63 L281.98,128.25 L283.19,127.87 L284.41,127.50 L285.63,127.14 L286.86,126.78 L288.10,126.42 L289.35,126.08 L290.60,125.73 L291.86,125.39 L293.12,125.06 L294.39,124.73 L295.67,124.41 L296.96,124.09 L298.25,123.77 L299.55,123.46 L300.86,123.16 L302.17,122.86 L303.49,122.57 L304.81,122.28 L306.15,121.99 L307.49,121.71 L308.83,121.44 L310.18,121.17 L311.54,120.90 L312.91,120.64 L314.28,120.38 L315.66,120.13 L317.04,119.88 L318.43,119.63 L319.83,119.39 L321.23,119.16 L322.64,118.93 L324.06,118.70 L325.48,118.47 L326.91,118.26 L328.35,118.04 L329.79,117.83 L331.23,117.62 L332.69,117.42 L334.15,117.22 L335.61,117.02 L337.09,116.83 L338.57,116.64 L340.05,116.45" stroke="#9b40e8" stroke-width="1.0"/><path d="M204.30,184.20 L204.35,183.96 L204.44,183.63 L204.57,183.25 L204.73,182.84 L204.91,182.40 L205.12,181.94 L205.35,181.46 L205.60,180.97 L205.87,180.46 L206.16,179.95 L206.47,179.42 L206.79,178.88 L207.13,178.33 L207.49,177.77 L207.86,177.21 L208.25,176.64 L208.65,176.07 L209.07,175.49 L209.50,174.91 L209.94,174.32 L210.40,173.73 L210.87,173.13 L211.36,172.53 L211.85,171.93 L212.36,171.32 L212.88,170.70 L213.42,170.09 L213.97,169.47 L214.52,168.84 L215.09,168.22 L215.68,167.59 L216.27,166.96 L216.87,166.32 L217.49,165.69 L218.11,165.06 L218.75,164.42 L219.40,163.78 L220.06,163.14 L220.72,162.51 L221.40,161.87 L222.09,161.23 L222.79,160.59 L223.50,159.96 L224.22,159.32 L224.95,158.68 L225.69,158.05 L226.44,157.42 L227.20,156.79 L227.96,156.16 L228.74,155.53 L229.53,154.91 L230.32,154.29 L231.13,153.67 L231.94,153.05 L232.77,152.44 L233.60,151.83 L234.44,151.22 L235.29,150.62 L236.15,150.02 L237.02,149.42 L237.90,148.82 L238.78,148.24 L239.68,147.65 L240.58,147.07 L241.49,146.49 L242.41,145.92 L243.34,145.35 L244.27,144.78 L245.22,144.22 L246.17,143.67 L247.13,143.12 L248.10,142.57 L249.08,142.03 L250.07,141.50 L251.06,140.97 L252.06,140.44 L253.07,139.92 L254.09,139.40 L255.11,138.89 L256.15,138.39 L257.19,137.89 L258.24,137.39 L259.29,136.90 L260.36,136.42 L261.43,135.94 L262.51,135.47 L263.59,135.00 L264.69,134.53 L265.79,134.08 L266.90,133.63 L268.01,133.18 L269.14,132.74 L270.27,132.30 L271.41,131.87 L272.55,131.45 L273.71,131.03 L274.87,130.62 L276.04,130.21 L277.21,129.81 L278.39,129.41 L279.58,129.02 L280.78,128.63 L281.98,128.25 L283.19,127.87 L284.41,127.50 L285.63,127.14 L286.86,126.78 L288.10,126.42 L289.35,126.08 L290.60,125.73 L291.86,125.39 L293.12,125.06 L294.39,124.73 L295.67,124.41 L296.96,124.09 L298.25,123.77 L299.55,123.46 L300.86,123.16 L302.17,122.86 L303.49,122.57 L304.81,122.28 L306.15,121.99 L307.49,121.71 L308.83,121.44 L310.18,121.17 L311.54,120.90 L312.91,120.64 L314.28,120.38 L315.66,120.13 L317.04,119.88 L318.43,119.63 L319.83,119.39 L321.23,119.16 L322.64,118.93 L324.06,118.70 L325.48,118.47 L326.91,118.26 L328.35,118.04 L329.79,117.83 L331.23,117.62 L332.69,117.42 L334.15,117.22 L335.61,117.02 L337.09,116.83 L338.57,116.64 L340.05,116.45" stroke="#2f62ea" stroke-width="1.0"/><path d="M204.30,184.20 L204.35,183.94 L204.44,183.58 L204.57,183.16 L204.73,182.72 L204.91,182.24 L205.12,181.75 L205.35,181.23 L205.60,180.70 L205.87,180.16 L206.16,179.60 L206.47,179.04 L206.79,178.46 L207.13,177.88 L207.49,177.29 L207.86,176.70 L208.25,176.10 L208.65,175.49 L209.07,174.89 L209.50,174.28 L209.94,173.66 L210.40,173.05 L210.87,172.43 L211.36,171.81 L211.85,171.18 L212.36,170.55 L212.88,169.92 L213.42,169.28 L213.97,168.65 L214.52,168.01 L215.09,167.37 L215.68,166.73 L216.27,166.09 L216.87,165.44 L217.49,164.80 L218.11,164.16 L218.75,163.52 L219.40,162.87 L220.06,162.23 L220.72,161.59 L221.40,160.95 L222.09,160.31 L222.79,159.67 L223.50,159.04 L224.22,158.40 L224.95,157.77 L225.69,157.14 L226.44,156.51 L227.20,155.89 L227.96,155.26 L228.74,154.64 L229.53,154.03 L230.32,153.41 L231.13,152.80 L231.94,152.19 L232.77,151.59 L233.60,150.99 L234.44,150.39 L235.29,149.80 L236.15,149.21 L237.02,148.62 L237.90,148.04 L238.78,147.46 L239.68,146.89 L240.58,146.32 L241.49,145.76 L242.41,145.20 L243.34,144.64 L244.27,144.09 L245.22,143.55 L246.17,143.00 L247.13,142.47 L248.10,141.94 L249.08,141.41 L250.07,140.89 L251.06,140.37 L252.06,139.86 L253.07,139.35 L254.09,138.85 L255.11,138.35 L256.15,137.86 L257.19,137.37 L258.24,136.89 L259.29,136.42 L260.36,135.95 L261.43,135.48 L262.51,135.02 L263.59,134.57 L264.69,134.12 L265.79,133.67 L266.90,133.23 L268.01,132.80 L269.14,132.37 L270.27,131.95 L271.41,131.53 L272.55,131.11 L273.71,130.71 L274.87,130.30 L276.04,129.91 L277.21,129.51 L278.39,129.13 L279.58,128.75 L280.78,128.37 L281.98,128.00 L283.19,127.63 L284.41,127.27 L285.63,126.91 L286.86,126.56 L288.10,126.22 L289.35,125.88 L290.60,125.54 L291.86,125.21 L293.12,124.88 L294.39,124.56 L295.67,124.24 L296.96,123.93 L298.25,123.62 L299.55,123.32 L300.86,123.02 L302.17,122.73 L303.49,122.44 L304.81,122.16 L306.15,121.88 L307.49,121.60 L308.83,121.33 L310.18,121.07 L311.54,120.81 L312.91,120.55 L314.28,120.30 L315.66,120.05 L317.04,119.80 L318.43,119.56 L319.83,119.33 L321.23,119.09 L322.64,118.86 L324.06,118.64 L325.48,118.42 L326.91,118.20 L328.35,117.99 L329.79,117.78 L331.23,117.58 L332.69,117.38 L334.15,117.18 L335.61,116.98 L337.09,116.79 L338.57,116.61 L340.05,116.42 L341.54,116.24 L343.04,116.07 L344.54,115.89 L346.05,115.72 L347.56,115.56 L349.09,115.39 L350.61,115.23 L352.15,115.07 L353.68,114.92 L355.23,114.77 L356.78,114.62 L358.34,114.47 L359.90,114.33" stroke="#33d944" stroke-width="1.1"/><path d="M204.30,184.20 L204.35,184.12 L204.44,183.98 L204.57,183.80 L204.73,183.60 L204.91,183.38 L205.12,183.14 L205.35,182.88 L205.60,182.61 L205.87,182.32 L206.16,182.02 L206.47,181.71 L206.79,181.39 L207.13,181.06 L207.49,180.72 L207.86,180.37 L208.25,180.01 L208.65,179.64 L209.07,179.27 L209.50,178.89 L209.94,178.50 L210.40,178.11 L210.87,177.71 L211.36,177.31 L211.85,176.90 L212.36,176.49 L212.88,176.07 L213.42,175.65 L213.97,175.23 L214.52,174.80 L215.09,174.37 L215.68,173.93 L216.27,173.49 L216.87,173.05 L217.49,172.61 L218.11,172.17 L218.75,171.72 L219.40,171.27 L220.06,170.82 L220.72,170.37 L221.40,169.91 L222.09,169.46 L222.79,169.00 L223.50,168.55 L224.22,168.09 L224.95,167.63 L225.69,167.18 L226.44,166.72 L227.20,166.26 L227.96,165.80 L228.74,165.34 L229.53,164.88 L230.32,164.42 L231.13,163.95 L231.94,163.47 L232.77,162.99 L233.60,162.50 L234.44,162.01 L235.29,161.51 L236.15,161.01 L237.02,160.50 L237.90,159.99 L238.78,159.48 L239.68,158.96 L240.58,158.43 L241.49,157.90 L242.41,157.37 L243.34,156.84 L244.27,156.30 L245.22,155.76 L246.17,155.21 L247.13,154.66 L248.10,154.11 L249.08,153.56 L250.07,153.00 L251.06,152.45 L252.06,151.89 L253.07,151.33 L254.09,150.76 L255.11,150.20 L256.15,149.64 L257.19,149.07 L258.24,148.50 L259.29,147.94 L260.36,147.37 L261.43,146.80 L262.51,146.24 L263.59,145.67 L264.69,145.10 L265.79,144.54 L266.90,143.97 L268.01,143.41 L269.14,142.85 L270.27,142.29 L271.41,141.73 L272.55,141.18 L273.71,140.62 L274.87,140.07 L276.04,139.53 L277.21,138.98 L278.39,138.44 L279.58,137.90 L280.78,137.37 L281.98,136.84 L283.19,136.31 L284.41,135.79 L285.63,135.27 L286.86,134.75 L288.10,134.24 L289.35,133.74 L290.60,133.24 L291.86,132.75 L293.12,132.26 L294.39,131.77 L295.67,131.30 L296.96,130.82 L298.25,130.36 L299.55,129.90 L300.86,129.45 L302.17,129.00 L303.49,128.56 L304.81,128.12 L306.15,127.70 L307.49,127.27 L308.83,126.86 L310.18,126.45 L311.54,126.05 L312.91,125.66 L314.28,125.27 L315.66,124.89 L317.04,124.52 L318.43,124.16 L319.83,123.80 L321.23,123.45 L322.64,123.11 L324.06,122.77 L325.48,122.45 L326.91,122.13 L328.35,121.81 L329.79,121.51 L331.23,121.21 L332.69,120.92 L334.15,120.63 L335.61,120.36 L337.09,120.09 L338.57,119.83 L340.05,119.57 L341.54,119.33 L343.04,119.08 L344.54,118.85 L346.05,118.62 L347.56,118.40 L349.09,118.19 L350.61,117.98 L352.15,117.78 L353.68,117.59 L355.23,117.40 L356.78,117.22 L358.34,117.05 L359.90,116.88" stroke="#f5c830" stroke-width="1.1"/><path d="M204.30,184.20 L204.35,184.16 L204.44,184.09 L204.57,184.00 L204.73,183.89 L204.91,183.76 L205.12,183.62 L205.35,183.47 L205.60,183.31 L205.87,183.13 L206.16,182.95 L206.47,182.76 L206.79,182.56 L207.13,182.35 L207.49,182.14 L207.86,181.91 L208.25,181.68 L208.65,181.45 L209.07,181.20 L209.50,180.95 L209.94,180.70 L210.40,180.43 L210.87,180.17 L211.36,179.90 L211.85,179.62 L212.36,179.34 L212.88,179.05 L213.42,178.76 L213.97,178.46 L214.52,178.16 L215.09,177.86 L215.68,177.55 L216.27,177.24 L216.87,176.93 L217.49,176.61 L218.11,176.29 L218.75,175.96 L219.40,175.63 L220.06,175.30 L220.72,174.97 L221.40,174.63 L222.09,174.29 L222.79,173.95 L223.50,173.61 L224.22,173.26 L224.95,172.91 L225.69,172.56 L226.44,172.20 L227.20,171.85 L227.96,171.48 L228.74,171.12 L229.53,170.75 L230.32,170.38 L231.13,170.00 L231.94,169.62 L232.77,169.24 L233.60,168.86 L234.44,168.47 L235.29,168.08 L236.15,167.69 L237.02,167.29 L237.90,166.89 L238.78,166.49 L239.68,166.09 L240.58,165.68 L241.49,165.27 L242.41,164.86 L243.34,164.45 L244.27,164.04 L245.22,163.62 L246.17,163.20 L247.13,162.78 L248.10,162.36 L249.08,161.93 L250.07,161.51 L251.06,161.08 L252.06,160.65 L253.07,160.22 L254.09,159.79 L255.11,159.36 L256.15,158.93 L257.19,158.49 L258.24,158.06 L259.29,157.62 L260.36,157.19 L261.43,156.75 L262.51,156.31 L263.59,155.87 L264.69,155.43 L265.79,154.99 L266.90,154.55 L268.01,154.11 L269.14,153.67 L270.27,153.23 L271.41,152.79 L272.55,152.35 L273.71,151.91 L274.87,151.47 L276.04,151.03 L277.21,150.59 L278.39,150.15 L279.58,149.71 L280.78,149.27 L281.98,148.83 L283.19,148.40 L284.41,147.96 L285.63,147.53 L286.86,147.09 L288.10,146.66 L289.35,146.23 L290.60,145.79 L291.86,145.36 L293.12,144.93 L294.39,144.51 L295.67,144.08 L296.96,143.66 L298.25,143.23 L299.55,142.81 L300.86,142.39 L302.17,141.97 L303.49,141.55 L304.81,141.14 L306.15,140.73 L307.49,140.31 L308.83,139.90 L310.18,139.50 L311.54,139.09 L312.91,138.69 L314.28,138.29 L315.66,137.89 L317.04,137.49 L318.43,137.10 L319.83,136.70 L321.23,136.31 L322.64,135.93 L324.06,135.54 L325.48,135.16 L326.91,134.78 L328.35,134.40 L329.79,134.03 L331.23,133.65 L332.69,133.28 L334.15,132.92 L335.61,132.55 L337.09,132.19 L338.57,131.83 L340.05,131.48 L341.54,131.12 L343.04,130.77 L344.54,130.43 L346.05,130.08 L347.56,129.74 L349.09,129.40 L350.61,129.07 L352.15,128.74 L353.68,128.41 L355.23,128.08 L356.78,127.76 L358.34,127.44 L359.90,127.12" stroke="#f06a3c" stroke-width="1.1"/></g><g fill="#000"><circle cx="210.84" cy="178.21" r="1.35"/><circle cx="215.81" cy="172.67" r="1.35"/><circle cx="222.97" cy="166.83" r="1.35"/><circle cx="232.46" cy="160.91" r="1.35"/><circle cx="243.20" cy="155.51" r="1.35"/><circle cx="253.47" cy="149.60" r="1.35"/><circle cx="264.36" cy="143.69" r="1.35"/><circle cx="277.43" cy="137.99" r="1.35"/><circle cx="292.21" cy="132.30" r="1.35"/><circle cx="309.33" cy="126.60" r="1.35"/><circle cx="332.05" cy="120.69" r="1.35"/><circle cx="359.43" cy="114.92" r="1.35"/></g><path d="M204.50,107.90 H359.50" fill="none" stroke="#bdbdbd" stroke-width="1.4"/><path d="M359.50,107.90 V184.50" fill="none" stroke="#a8a8a8" stroke-width="1.0"/><path d="M204.50,107.40 V184.50 H360.00" fill="none" stroke="#9a9a9a" stroke-width="1.0"/><path d="M202.60,184.20H204.50M203.20,176.90H204.50M202.60,169.60H204.50M203.20,162.30H204.50M202.60,155.00H204.50M203.20,147.70H204.50M202.60,140.40H204.50M203.20,133.10H204.50M202.60,125.80H204.50M203.20,118.50H204.50M202.60,111.20H204.50M204.30,184.50V186.40M223.75,184.50V185.80M243.20,184.50V186.40M262.65,184.50V185.80M282.10,184.50V186.40M301.55,184.50V185.80M321.00,184.50V186.40M340.45,184.50V185.80M359.90,184.50V186.40" stroke="#909090" stroke-width="0.7" fill="none"/><g font-size="3.9" fill="#222" style="stroke:#222;stroke-width:0.12px"><text x="201.60" y="185.60" text-anchor="end">0.0</text><text x="201.60" y="171.00" text-anchor="end">0.2</text><text x="201.60" y="156.40" text-anchor="end">0.4</text><text x="201.60" y="141.80" text-anchor="end">0.6</text><text x="201.60" y="127.20" text-anchor="end">0.8</text><text x="201.60" y="112.60" text-anchor="end">1.0</text><text x="204.30" y="190.20" text-anchor="middle">0</text><text x="243.20" y="190.20" text-anchor="middle">25</text><text x="282.10" y="190.20" text-anchor="middle">50</text><text x="321.00" y="190.20" text-anchor="middle">75</text><text x="359.90" y="190.20" text-anchor="middle">100</text></g><text x="282.70" y="194.50" text-anchor="middle" font-size="4.35" fill="#000">Time (min)</text><text transform="translate(192.40,144.00) rotate(-90)" text-anchor="middle" font-size="4.6" fill="#000">Conversion (X)</text><text x="199.50" y="105.20" font-size="6.3" text-anchor="middle" fill="#000">E</text><text x="204.80" y="105.20" font-size="5.0" fill="#000">T: 850 °C, H<tspan font-size="3.3" dy="1.0">2</tspan><tspan dy="-1.0">: 150 ccm, </tspan>N<tspan font-size="3.3" dy="1.0">2</tspan><tspan dy="-1.0">: 200 ccm, m: 4.33 g</tspan></text><rect x="324.90" y="141.00" width="33.6" height="41.8" fill="#fff" stroke="#c8c8c8" stroke-width="0.6"/><g font-size="4.7" fill="#000"><path d="M325.30,144.60h11.4" stroke="#8f52e6" stroke-width="1.4"/><text x="337.50" y="146.30">X-Pm</text><path d="M325.30,150.55h11.4" stroke="#4c80ea" stroke-width="1.4"/><text x="337.50" y="152.25">X-Ps</text><path d="M325.30,156.50h11.4" stroke="#4fe0f2" stroke-width="1.4"/><text x="337.50" y="158.20">X-PH2</text><path d="M325.30,162.45h11.4" stroke="#52dc58" stroke-width="1.4"/><text x="337.50" y="164.15">X-P(50%)</text><path d="M325.30,168.40h11.4" stroke="#f7d978" stroke-width="1.4"/><text x="337.50" y="170.10">X-P(10%)</text><path d="M325.30,174.35h11.4" stroke="#f29a7a" stroke-width="1.4"/><text x="337.50" y="176.05">X-P(5%)</text><circle cx="330.50" cy="180.30" r="1.35" fill="#000"/><text x="337.50" y="182.00">X-Exp 5</text></g></g>
<g><clipPath id="cF"><rect x="389.20" y="108.00" width="155.60" height="76.20"/></clipPath><g clip-path="url(#cF)" fill="none" stroke-width="1.3" stroke-linejoin="round"><path d="M389.20,184.20 L389.25,184.13 L389.34,184.00 L389.47,183.83 L389.63,183.61 L389.81,183.36 L390.02,183.09 L390.25,182.78 L390.50,182.45 L390.77,182.09 L391.06,181.71 L391.37,181.31 L391.69,180.89 L392.03,180.45 L392.39,179.99 L392.76,179.52 L393.15,179.02 L393.55,178.51 L393.97,177.98 L394.40,177.44 L394.84,176.88 L395.30,176.31 L395.77,175.73 L396.26,175.13 L396.75,174.53 L397.26,173.91 L397.78,173.27 L398.32,172.63 L398.87,171.98 L399.42,171.32 L399.99,170.65 L400.58,169.98 L401.17,169.29 L401.77,168.60 L402.39,167.91 L403.01,167.21 L403.65,166.50 L404.30,165.80 L404.96,165.09 L405.62,164.37 L406.30,163.66 L406.99,162.94 L407.69,162.22 L408.40,161.51 L409.12,160.79 L409.85,160.07 L410.59,159.35 L411.34,158.63 L412.10,157.92 L412.86,157.20 L413.64,156.49 L414.43,155.78 L415.22,155.07 L416.03,154.37 L416.84,153.67 L417.67,152.97 L418.50,152.28 L419.34,151.59 L420.19,150.90 L421.05,150.22 L421.92,149.54 L422.80,148.87 L423.68,148.21 L424.58,147.55 L425.48,146.89 L426.39,146.24 L427.31,145.60 L428.24,144.96 L429.17,144.33 L430.12,143.70 L431.07,143.09 L432.03,142.47 L433.00,141.87 L433.98,141.27 L434.97,140.68 L435.96,140.09 L436.96,139.51 L437.97,138.94 L438.99,138.38 L440.01,137.82 L441.05,137.27 L442.09,136.73 L443.14,136.20 L444.19,135.67 L445.26,135.15 L446.33,134.63 L447.41,134.13 L448.49,133.63 L449.59,133.13 L450.69,132.65 L451.80,132.17 L452.91,131.70 L454.04,131.24 L455.17,130.78 L456.31,130.33 L457.45,129.89 L458.61,129.46 L459.77,129.03 L460.94,128.61 L462.11,128.19 L463.29,127.79 L464.48,127.39 L465.68,126.99 L466.88,126.61 L468.09,126.23 L469.31,125.85 L470.53,125.48 L471.76,125.12 L473.00,124.77 L474.25,124.42 L475.50,124.08 L476.76,123.74 L478.02,123.41 L479.29,123.09 L480.57,122.77 L481.86,122.46 L483.15,122.15 L484.45,121.85 L485.76,121.56 L487.07,121.27 L488.39,120.98 L489.71,120.71 L491.05,120.43 L492.39,120.16 L493.73,119.90 L495.08,119.64 L496.44,119.39 L497.81,119.14 L499.18,118.90 L500.56,118.66 L501.94,118.43 L503.33,118.20 L504.73,117.98 L506.13,117.76 L507.54,117.54 L508.96,117.33 L510.38,117.13 L511.81,116.92 L513.25,116.73 L514.69,116.53" stroke="#30e0f0" stroke-width="1.0"/><path d="M389.20,184.20 L389.25,184.13 L389.34,183.98 L389.47,183.79 L389.63,183.56 L389.81,183.29 L390.02,182.99 L390.25,182.66 L390.50,182.30 L390.77,181.92 L391.06,181.51 L391.37,181.08 L391.69,180.63 L392.03,180.16 L392.39,179.67 L392.76,179.17 L393.15,178.64 L393.55,178.10 L393.97,177.55 L394.40,176.98 L394.84,176.39 L395.30,175.80 L395.77,175.19 L396.26,174.56 L396.75,173.93 L397.26,173.29 L397.78,172.64 L398.32,171.98 L398.87,171.31 L399.42,170.63 L399.99,169.94 L400.58,169.25 L401.17,168.55 L401.77,167.85 L402.39,167.14 L403.01,166.43 L403.65,165.72 L404.30,165.01 L404.96,164.29 L405.62,163.57 L406.30,162.85 L406.99,162.13 L407.69,161.41 L408.40,160.69 L409.12,159.98 L409.85,159.26 L410.59,158.54 L411.34,157.83 L412.10,157.12 L412.86,156.41 L413.64,155.70 L414.43,155.00 L415.22,154.30 L416.03,153.60 L416.84,152.91 L417.67,152.22 L418.50,151.54 L419.34,150.86 L420.19,150.19 L421.05,149.52 L421.92,148.85 L422.80,148.19 L423.68,147.54 L424.58,146.89 L425.48,146.25 L426.39,145.61 L427.31,144.98 L428.24,144.36 L429.17,143.74 L430.12,143.13 L431.07,142.52 L432.03,141.93 L433.00,141.33 L433.98,140.75 L434.97,140.17 L435.96,139.60 L436.96,139.04 L437.97,138.48 L438.99,137.93 L440.01,137.38 L441.05,136.85 L442.09,136.32 L443.14,135.79 L444.19,135.28 L445.26,134.77 L446.33,134.27 L447.41,133.77 L448.49,133.29 L449.59,132.81 L450.69,132.33 L451.80,131.87 L452.91,131.41 L454.04,130.95 L455.17,130.51 L456.31,130.07 L457.45,129.64 L458.61,129.21 L459.77,128.79 L460.94,128.38 L462.11,127.98 L463.29,127.58 L464.48,127.19 L465.68,126.80 L466.88,126.42 L468.09,126.05 L469.31,125.68 L470.53,125.32 L471.76,124.97 L473.00,124.62 L474.25,124.28 L475.50,123.94 L476.76,123.61 L478.02,123.29 L479.29,122.97 L480.57,122.66 L481.86,122.35 L483.15,122.05 L484.45,121.76 L485.76,121.47 L487.07,121.18 L488.39,120.90 L489.71,120.63 L491.05,120.36 L492.39,120.09 L493.73,119.84 L495.08,119.58 L496.44,119.33 L497.81,119.09 L499.18,118.85 L500.56,118.61 L501.94,118.38 L503.33,118.16 L504.73,117.94 L506.13,117.72 L507.54,117.51 L508.96,117.30 L510.38,117.09 L511.81,116.89 L513.25,116.70 L514.69,116.51" stroke="#9b40e8" stroke-width="1.0"/><path d="M389.20,184.20 L389.25,184.13 L389.34,183.98 L389.47,183.79 L389.63,183.56 L389.81,183.29 L390.02,182.99 L390.25,182.66 L390.50,182.30 L390.77,181.92 L391.06,181.51 L391.37,181.08 L391.69,180.63 L392.03,180.16 L392.39,179.67 L392.76,179.17 L393.15,178.64 L393.55,178.10 L393.97,177.55 L394.40,176.98 L394.84,176.39 L395.30,175.80 L395.77,175.19 L396.26,174.56 L396.75,173.93 L397.26,173.29 L397.78,172.64 L398.32,171.98 L398.87,171.31 L399.42,170.63 L399.99,169.94 L400.58,169.25 L401.17,168.55 L401.77,167.85 L402.39,167.14 L403.01,166.43 L403.65,165.72 L404.30,165.01 L404.96,164.29 L405.62,163.57 L406.30,162.85 L406.99,162.13 L407.69,161.41 L408.40,160.69 L409.12,159.98 L409.85,159.26 L410.59,158.54 L411.34,157.83 L412.10,157.12 L412.86,156.41 L413.64,155.70 L414.43,155.00 L415.22,154.30 L416.03,153.60 L416.84,152.91 L417.67,152.22 L418.50,151.54 L419.34,150.86 L420.19,150.19 L421.05,149.52 L421.92,148.85 L422.80,148.19 L423.68,147.54 L424.58,146.89 L425.48,146.25 L426.39,145.61 L427.31,144.98 L428.24,144.36 L429.17,143.74 L430.12,143.13 L431.07,142.52 L432.03,141.93 L433.00,141.33 L433.98,140.75 L434.97,140.17 L435.96,139.60 L436.96,139.04 L437.97,138.48 L438.99,137.93 L440.01,137.38 L441.05,136.85 L442.09,136.32 L443.14,135.79 L444.19,135.28 L445.26,134.77 L446.33,134.27 L447.41,133.77 L448.49,133.29 L449.59,132.81 L450.69,132.33 L451.80,131.87 L452.91,131.41 L454.04,130.95 L455.17,130.51 L456.31,130.07 L457.45,129.64 L458.61,129.21 L459.77,128.79 L460.94,128.38 L462.11,127.98 L463.29,127.58 L464.48,127.19 L465.68,126.80 L466.88,126.42 L468.09,126.05 L469.31,125.68 L470.53,125.32 L471.76,124.97 L473.00,124.62 L474.25,124.28 L475.50,123.94 L476.76,123.61 L478.02,123.29 L479.29,122.97 L480.57,122.66 L481.86,122.35 L483.15,122.05 L484.45,121.76 L485.76,121.47 L487.07,121.18 L488.39,120.90 L489.71,120.63 L491.05,120.36 L492.39,120.09 L493.73,119.84 L495.08,119.58 L496.44,119.33 L497.81,119.09 L499.18,118.85 L500.56,118.61 L501.94,118.38 L503.33,118.16 L504.73,117.94 L506.13,117.72 L507.54,117.51 L508.96,117.30 L510.38,117.09 L511.81,116.89 L513.25,116.70 L514.69,116.51" stroke="#2f62ea" stroke-width="1.0"/><path d="M389.20,184.20 L389.25,184.12 L389.34,183.97 L389.47,183.76 L389.63,183.50 L389.81,183.21 L390.02,182.88 L390.25,182.52 L390.50,182.14 L390.77,181.72 L391.06,181.28 L391.37,180.82 L391.69,180.34 L392.03,179.84 L392.39,179.31 L392.76,178.77 L393.15,178.21 L393.55,177.64 L393.97,177.05 L394.40,176.45 L394.84,175.83 L395.30,175.21 L395.77,174.57 L396.26,173.92 L396.75,173.26 L397.26,172.59 L397.78,171.91 L398.32,171.23 L398.87,170.54 L399.42,169.84 L399.99,169.14 L400.58,168.43 L401.17,167.71 L401.77,166.99 L402.39,166.28 L403.01,165.55 L403.65,164.83 L404.30,164.11 L404.96,163.38 L405.62,162.66 L406.30,161.94 L406.99,161.22 L407.69,160.49 L408.40,159.78 L409.12,159.06 L409.85,158.34 L410.59,157.63 L411.34,156.92 L412.10,156.21 L412.86,155.51 L413.64,154.81 L414.43,154.12 L415.22,153.43 L416.03,152.74 L416.84,152.06 L417.67,151.38 L418.50,150.71 L419.34,150.04 L420.19,149.38 L421.05,148.72 L421.92,148.07 L422.80,147.42 L423.68,146.78 L424.58,146.15 L425.48,145.52 L426.39,144.90 L427.31,144.29 L428.24,143.68 L429.17,143.07 L430.12,142.48 L431.07,141.89 L432.03,141.31 L433.00,140.73 L433.98,140.16 L434.97,139.60 L435.96,139.04 L436.96,138.49 L437.97,137.95 L438.99,137.41 L440.01,136.89 L441.05,136.36 L442.09,135.85 L443.14,135.34 L444.19,134.84 L445.26,134.34 L446.33,133.86 L447.41,133.38 L448.49,132.90 L449.59,132.43 L450.69,131.97 L451.80,131.52 L452.91,131.07 L454.04,130.63 L455.17,130.20 L456.31,129.77 L457.45,129.35 L458.61,128.94 L459.77,128.53 L460.94,128.13 L462.11,127.73 L463.29,127.34 L464.48,126.96 L465.68,126.58 L466.88,126.21 L468.09,125.85 L469.31,125.49 L470.53,125.14 L471.76,124.79 L473.00,124.45 L474.25,124.12 L475.50,123.79 L476.76,123.47 L478.02,123.15 L479.29,122.84 L480.57,122.53 L481.86,122.23 L483.15,121.94 L484.45,121.65 L485.76,121.36 L487.07,121.08 L488.39,120.81 L489.71,120.54 L491.05,120.27 L492.39,120.01 L493.73,119.76 L495.08,119.51 L496.44,119.26 L497.81,119.02 L499.18,118.79 L500.56,118.56 L501.94,118.33 L503.33,118.11 L504.73,117.89 L506.13,117.67 L507.54,117.46 L508.96,117.26 L510.38,117.06 L511.81,116.86 L513.25,116.67 L514.69,116.48 L516.13,116.29 L517.59,116.11 L519.05,115.93 L520.51,115.75 L521.99,115.58 L523.47,115.42 L524.95,115.25 L526.44,115.09 L527.94,114.93 L529.44,114.78 L530.95,114.63 L532.46,114.48 L533.99,114.33 L535.51,114.19 L537.05,114.05 L538.58,113.92 L540.13,113.78 L541.68,113.65 L543.24,113.53 L544.80,113.40" stroke="#33d944" stroke-width="1.1"/><path d="M389.20,184.20 L389.25,184.14 L389.34,184.02 L389.47,183.88 L389.63,183.70 L389.81,183.50 L390.02,183.28 L390.25,183.04 L390.50,182.78 L390.77,182.51 L391.06,182.23 L391.37,181.93 L391.69,181.61 L392.03,181.29 L392.39,180.95 L392.76,180.60 L393.15,180.24 L393.55,179.88 L393.97,179.50 L394.40,179.12 L394.84,178.72 L395.30,178.32 L395.77,177.91 L396.26,177.50 L396.75,177.08 L397.26,176.65 L397.78,176.22 L398.32,175.78 L398.87,175.33 L399.42,174.88 L399.99,174.43 L400.58,173.97 L401.17,173.50 L401.77,173.04 L402.39,172.57 L403.01,172.09 L403.65,171.62 L404.30,171.14 L404.96,170.65 L405.62,170.17 L406.30,169.68 L406.99,169.19 L407.69,168.70 L408.40,168.21 L409.12,167.71 L409.85,167.21 L410.59,166.72 L411.34,166.22 L412.10,165.72 L412.86,165.22 L413.64,164.72 L414.43,164.22 L415.22,163.71 L416.03,163.20 L416.84,162.68 L417.67,162.16 L418.50,161.63 L419.34,161.10 L420.19,160.57 L421.05,160.03 L421.92,159.48 L422.80,158.93 L423.68,158.38 L424.58,157.83 L425.48,157.27 L426.39,156.71 L427.31,156.14 L428.24,155.57 L429.17,155.00 L430.12,154.43 L431.07,153.86 L432.03,153.28 L433.00,152.70 L433.98,152.12 L434.97,151.54 L435.96,150.96 L436.96,150.37 L437.97,149.79 L438.99,149.20 L440.01,148.62 L441.05,148.03 L442.09,147.44 L443.14,146.86 L444.19,146.27 L445.26,145.69 L446.33,145.11 L447.41,144.52 L448.49,143.94 L449.59,143.36 L450.69,142.78 L451.80,142.21 L452.91,141.63 L454.04,141.06 L455.17,140.49 L456.31,139.93 L457.45,139.37 L458.61,138.81 L459.77,138.25 L460.94,137.70 L462.11,137.15 L463.29,136.60 L464.48,136.06 L465.68,135.52 L466.88,134.99 L468.09,134.46 L469.31,133.94 L470.53,133.42 L471.76,132.91 L473.00,132.40 L474.25,131.90 L475.50,131.40 L476.76,130.91 L478.02,130.42 L479.29,129.95 L480.57,129.47 L481.86,129.00 L483.15,128.54 L484.45,128.09 L485.76,127.64 L487.07,127.20 L488.39,126.76 L489.71,126.34 L491.05,125.92 L492.39,125.50 L493.73,125.09 L495.08,124.69 L496.44,124.30 L497.81,123.91 L499.18,123.53 L500.56,123.16 L501.94,122.80 L503.33,122.44 L504.73,122.09 L506.13,121.75 L507.54,121.41 L508.96,121.08 L510.38,120.76 L511.81,120.45 L513.25,120.14 L514.69,119.84 L516.13,119.55 L517.59,119.26 L519.05,118.98 L520.51,118.71 L521.99,118.45 L523.47,118.19 L524.95,117.94 L526.44,117.70 L527.94,117.46 L529.44,117.23 L530.95,117.00 L532.46,116.79 L533.99,116.58 L535.51,116.37 L537.05,116.17 L538.58,115.98 L540.13,115.79 L541.68,115.61 L543.24,115.44 L544.80,115.27" stroke="#f5c830" stroke-width="1.1"/><path d="M389.20,184.20 L389.25,184.15 L389.34,184.05 L389.47,183.94 L389.63,183.80 L389.81,183.65 L390.02,183.48 L390.25,183.30 L390.50,183.11 L390.77,182.91 L391.06,182.70 L391.37,182.49 L391.69,182.26 L392.03,182.02 L392.39,181.78 L392.76,181.53 L393.15,181.28 L393.55,181.02 L393.97,180.75 L394.40,180.47 L394.84,180.20 L395.30,179.91 L395.77,179.62 L396.26,179.33 L396.75,179.03 L397.26,178.73 L397.78,178.42 L398.32,178.11 L398.87,177.80 L399.42,177.48 L399.99,177.16 L400.58,176.83 L401.17,176.50 L401.77,176.17 L402.39,175.84 L403.01,175.50 L403.65,175.16 L404.30,174.82 L404.96,174.48 L405.62,174.13 L406.30,173.78 L406.99,173.43 L407.69,173.08 L408.40,172.73 L409.12,172.37 L409.85,172.01 L410.59,171.65 L411.34,171.29 L412.10,170.93 L412.86,170.57 L413.64,170.20 L414.43,169.84 L415.22,169.47 L416.03,169.10 L416.84,168.72 L417.67,168.34 L418.50,167.96 L419.34,167.57 L420.19,167.18 L421.05,166.78 L421.92,166.39 L422.80,165.99 L423.68,165.58 L424.58,165.18 L425.48,164.77 L426.39,164.36 L427.31,163.94 L428.24,163.53 L429.17,163.11 L430.12,162.68 L431.07,162.26 L432.03,161.83 L433.00,161.40 L433.98,160.97 L434.97,160.53 L435.96,160.10 L436.96,159.66 L437.97,159.22 L438.99,158.78 L440.01,158.33 L441.05,157.89 L442.09,157.44 L443.14,156.99 L444.19,156.54 L445.26,156.09 L446.33,155.64 L447.41,155.18 L448.49,154.73 L449.59,154.27 L450.69,153.81 L451.80,153.36 L452.91,152.90 L454.04,152.44 L455.17,151.98 L456.31,151.52 L457.45,151.06 L458.61,150.60 L459.77,150.13 L460.94,149.67 L462.11,149.21 L463.29,148.75 L464.48,148.29 L465.68,147.83 L466.88,147.37 L468.09,146.91 L469.31,146.45 L470.53,145.99 L471.76,145.53 L473.00,145.07 L474.25,144.62 L475.50,144.16 L476.76,143.71 L478.02,143.25 L479.29,142.80 L480.57,142.35 L481.86,141.90 L483.15,141.45 L484.45,141.01 L485.76,140.56 L487.07,140.12 L488.39,139.67 L489.71,139.24 L491.05,138.80 L492.39,138.36 L493.73,137.93 L495.08,137.49 L496.44,137.07 L497.81,136.64 L499.18,136.21 L500.56,135.79 L501.94,135.37 L503.33,134.95 L504.73,134.54 L506.13,134.12 L507.54,133.71 L508.96,133.31 L510.38,132.90 L511.81,132.50 L513.25,132.10 L514.69,131.71 L516.13,131.32 L517.59,130.93 L519.05,130.54 L520.51,130.16 L521.99,129.78 L523.47,129.40 L524.95,129.03 L526.44,128.66 L527.94,128.30 L529.44,127.93 L530.95,127.57 L532.46,127.22 L533.99,126.87 L535.51,126.52 L537.05,126.17 L538.58,125.83 L540.13,125.50 L541.68,125.16 L543.24,124.83 L544.80,124.51" stroke="#f06a3c" stroke-width="1.1"/></g><g fill="#000"><circle cx="392.83" cy="178.21" r="1.35"/><circle cx="396.29" cy="172.67" r="1.35"/><circle cx="400.78" cy="166.83" r="1.35"/><circle cx="407.70" cy="161.28" r="1.35"/><circle cx="415.48" cy="155.51" r="1.35"/><circle cx="423.26" cy="150.18" r="1.35"/><circle cx="431.56" cy="144.27" r="1.35"/><circle cx="441.07" cy="138.79" r="1.35"/><circle cx="451.79" cy="133.10" r="1.35"/><circle cx="463.02" cy="127.62" r="1.35"/><circle cx="476.85" cy="121.71" r="1.35"/><circle cx="493.45" cy="116.16" r="1.35"/><circle cx="538.92" cy="111.93" r="1.35"/></g><path d="M389.50,107.90 H544.50" fill="none" stroke="#bdbdbd" stroke-width="1.4"/><path d="M544.50,107.90 V184.50" fill="none" stroke="#a8a8a8" stroke-width="1.0"/><path d="M389.50,107.40 V184.50 H545.00" fill="none" stroke="#9a9a9a" stroke-width="1.0"/><path d="M387.60,184.20H389.50M388.20,176.90H389.50M387.60,169.60H389.50M388.20,162.30H389.50M387.60,155.00H389.50M388.20,147.70H389.50M387.60,140.40H389.50M388.20,133.10H389.50M387.60,125.80H389.50M388.20,118.50H389.50M387.60,111.20H389.50M389.20,184.50V186.40M402.17,184.50V185.80M415.13,184.50V186.40M428.10,184.50V185.80M441.07,184.50V186.40M454.03,184.50V185.80M467.00,184.50V186.40M479.97,184.50V185.80M492.93,184.50V186.40M505.90,184.50V185.80M518.87,184.50V186.40M531.83,184.50V185.80M544.80,184.50V186.40" stroke="#909090" stroke-width="0.7" fill="none"/><g font-size="3.9" fill="#222" style="stroke:#222;stroke-width:0.12px"><text x="386.50" y="185.60" text-anchor="end">0.0</text><text x="386.50" y="171.00" text-anchor="end">0.2</text><text x="386.50" y="156.40" text-anchor="end">0.4</text><text x="386.50" y="141.80" text-anchor="end">0.6</text><text x="386.50" y="127.20" text-anchor="end">0.8</text><text x="386.50" y="112.60" text-anchor="end">1.0</text><text x="389.20" y="190.20" text-anchor="middle">0</text><text x="415.13" y="190.20" text-anchor="middle">15</text><text x="441.07" y="190.20" text-anchor="middle">30</text><text x="467.00" y="190.20" text-anchor="middle">45</text><text x="492.93" y="190.20" text-anchor="middle">60</text><text x="518.87" y="190.20" text-anchor="middle">75</text><text x="544.80" y="190.20" text-anchor="middle">90</text></g><text x="467.60" y="194.50" text-anchor="middle" font-size="4.35" fill="#000">Time (min)</text><text transform="translate(377.30,144.00) rotate(-90)" text-anchor="middle" font-size="4.6" fill="#000">Conversion (X)</text><text x="384.40" y="105.20" font-size="6.3" text-anchor="middle" fill="#000">F</text><text x="389.70" y="105.20" font-size="5.0" fill="#000">T: 850 °C, H<tspan font-size="3.3" dy="1.0">2</tspan><tspan dy="-1.0">: 200 ccm, </tspan>N<tspan font-size="3.3" dy="1.0">2</tspan><tspan dy="-1.0">: 200 ccm, m: 4.41 g</tspan></text><rect x="509.80" y="141.00" width="33.6" height="41.8" fill="#fff" stroke="#c8c8c8" stroke-width="0.6"/><g font-size="4.7" fill="#000"><path d="M510.20,144.60h11.4" stroke="#8f52e6" stroke-width="1.4"/><text x="522.40" y="146.30">X-Pm</text><path d="M510.20,150.55h11.4" stroke="#4c80ea" stroke-width="1.4"/><text x="522.40" y="152.25">X-Ps</text><path d="M510.20,156.50h11.4" stroke="#4fe0f2" stroke-width="1.4"/><text x="522.40" y="158.20">X-PH2</text><path d="M510.20,162.45h11.4" stroke="#52dc58" stroke-width="1.4"/><text x="522.40" y="164.15">X-P(50%)</text><path d="M510.20,168.40h11.4" stroke="#f7d978" stroke-width="1.4"/><text x="522.40" y="170.10">X-P(10%)</text><path d="M510.20,174.35h11.4" stroke="#f29a7a" stroke-width="1.4"/><text x="522.40" y="176.05">X-P(5%)</text><circle cx="515.40" cy="180.30" r="1.35" fill="#000"/><text x="522.40" y="182.00">X-Exp 6</text></g></g>
<g><clipPath id="cG"><rect x="19.40" y="204.80" width="155.60" height="76.20"/></clipPath><g clip-path="url(#cG)" fill="none" stroke-width="1.3" stroke-linejoin="round"><path d="M19.40,281.00 L19.45,280.78 L19.54,280.45 L19.67,280.06 L19.83,279.61 L20.01,279.13 L20.22,278.62 L20.45,278.07 L20.70,277.50 L20.97,276.91 L21.26,276.30 L21.57,275.67 L21.89,275.02 L22.23,274.35 L22.59,273.67 L22.96,272.98 L23.35,272.28 L23.75,271.56 L24.17,270.84 L24.60,270.10 L25.04,269.35 L25.50,268.59 L25.97,267.81 L26.46,267.03 L26.95,266.24 L27.46,265.43 L27.98,264.62 L28.52,263.80 L29.07,262.98 L29.62,262.15 L30.19,261.31 L30.78,260.47 L31.37,259.62 L31.97,258.77 L32.59,257.92 L33.21,257.07 L33.85,256.21 L34.50,255.35 L35.16,254.50 L35.82,253.64 L36.50,252.79 L37.19,251.93 L37.89,251.08 L38.60,250.23 L39.32,249.38 L40.05,248.54 L40.79,247.70 L41.54,246.87 L42.30,246.04 L43.06,245.21 L43.84,244.40 L44.63,243.59 L45.42,242.78 L46.23,241.98 L47.04,241.19 L47.87,240.41 L48.70,239.64 L49.54,238.87 L50.39,238.11 L51.25,237.37 L52.12,236.63 L53.00,235.90 L53.88,235.18 L54.78,234.47 L55.68,233.77 L56.59,233.08 L57.51,232.40 L58.44,231.73 L59.37,231.07 L60.32,230.42 L61.27,229.78 L62.23,229.16 L63.20,228.54 L64.18,227.93 L65.17,227.34 L66.16,226.76 L67.16,226.18 L68.17,225.62 L69.19,225.07 L70.21,224.53 L71.25,224.00 L72.29,223.49 L73.34,222.98 L74.39,222.48 L75.46,222.00 L76.53,221.52 L77.61,221.06 L78.69,220.60 L79.79,220.16 L80.89,219.72 L82.00,219.30 L83.11,218.89 L84.24,218.48 L85.37,218.09 L86.51,217.70 L87.65,217.33 L88.81,216.96 L89.97,216.61 L91.14,216.26 L92.31,215.92 L93.49,215.59 L94.68,215.27 L95.88,214.96 L97.08,214.65 L98.29,214.36 L99.51,214.07 L100.73,213.79 L101.96,213.52 L103.20,213.25" stroke="#30e0f0" stroke-width="1.0"/><path d="M19.40,281.00 L19.45,280.76 L19.54,280.40 L19.67,279.98 L19.83,279.50 L20.01,278.98 L20.22,278.42 L20.45,277.84 L20.70,277.23 L20.97,276.60 L21.26,275.95 L21.57,275.28 L21.89,274.59 L22.23,273.89 L22.59,273.18 L22.96,272.46 L23.35,271.72 L23.75,270.98 L24.17,270.23 L24.60,269.46 L25.04,268.69 L25.50,267.90 L25.97,267.11 L26.46,266.31 L26.95,265.50 L27.46,264.68 L27.98,263.86 L28.52,263.03 L29.07,262.19 L29.62,261.35 L30.19,260.51 L30.78,259.66 L31.37,258.81 L31.97,257.96 L32.59,257.11 L33.21,256.26 L33.85,255.41 L34.50,254.55 L35.16,253.70 L35.82,252.85 L36.50,252.00 L37.19,251.16 L37.89,250.32 L38.60,249.48 L39.32,248.64 L40.05,247.81 L40.79,246.99 L41.54,246.17 L42.30,245.35 L43.06,244.54 L43.84,243.74 L44.63,242.95 L45.42,242.16 L46.23,241.38 L47.04,240.60 L47.87,239.84 L48.70,239.08 L49.54,238.33 L50.39,237.59 L51.25,236.86 L52.12,236.14 L53.00,235.43 L53.88,234.73 L54.78,234.03 L55.68,233.35 L56.59,232.67 L57.51,232.01 L58.44,231.36 L59.37,230.71 L60.32,230.08 L61.27,229.46 L62.23,228.85 L63.20,228.24 L64.18,227.65 L65.17,227.07 L66.16,226.50 L67.16,225.94 L68.17,225.39 L69.19,224.85 L70.21,224.33 L71.25,223.81 L72.29,223.30 L73.34,222.80 L74.39,222.32 L75.46,221.84 L76.53,221.37 L77.61,220.92 L78.69,220.47 L79.79,220.04 L80.89,219.61 L82.00,219.19 L83.11,218.79 L84.24,218.39 L85.37,218.00 L86.51,217.62 L87.65,217.25 L88.81,216.89 L89.97,216.54 L91.14,216.20 L92.31,215.86 L93.49,215.54 L94.68,215.22 L95.88,214.91 L97.08,214.61 L98.29,214.32 L99.51,214.04 L100.73,213.76 L101.96,213.49 L103.20,213.23" stroke="#9b40e8" stroke-width="1.0"/><path d="M19.40,281.00 L19.45,280.76 L19.54,280.40 L19.67,279.98 L19.83,279.50 L20.01,278.98 L20.22,278.42 L20.45,277.84 L20.70,277.23 L20.97,276.60 L21.26,275.95 L21.57,275.28 L21.89,274.59 L22.23,273.89 L22.59,273.18 L22.96,272.46 L23.35,271.72 L23.75,270.98 L24.17,270.23 L24.60,269.46 L25.04,268.69 L25.50,267.90 L25.97,267.11 L26.46,266.31 L26.95,265.50 L27.46,264.68 L27.98,263.86 L28.52,263.03 L29.07,262.19 L29.62,261.35 L30.19,260.51 L30.78,259.66 L31.37,258.81 L31.97,257.96 L32.59,257.11 L33.21,256.26 L33.85,255.41 L34.50,254.55 L35.16,253.70 L35.82,252.85 L36.50,252.00 L37.19,251.16 L37.89,250.32 L38.60,249.48 L39.32,248.64 L40.05,247.81 L40.79,246.99 L41.54,246.17 L42.30,245.35 L43.06,244.54 L43.84,243.74 L44.63,242.95 L45.42,242.16 L46.23,241.38 L47.04,240.60 L47.87,239.84 L48.70,239.08 L49.54,238.33 L50.39,237.59 L51.25,236.86 L52.12,236.14 L53.00,235.43 L53.88,234.73 L54.78,234.03 L55.68,233.35 L56.59,232.67 L57.51,232.01 L58.44,231.36 L59.37,230.71 L60.32,230.08 L61.27,229.46 L62.23,228.85 L63.20,228.24 L64.18,227.65 L65.17,227.07 L66.16,226.50 L67.16,225.94 L68.17,225.39 L69.19,224.85 L70.21,224.33 L71.25,223.81 L72.29,223.30 L73.34,222.80 L74.39,222.32 L75.46,221.84 L76.53,221.37 L77.61,220.92 L78.69,220.47 L79.79,220.04 L80.89,219.61 L82.00,219.19 L83.11,218.79 L84.24,218.39 L85.37,218.00 L86.51,217.62 L87.65,217.25 L88.81,216.89 L89.97,216.54 L91.14,216.20 L92.31,215.86 L93.49,215.54 L94.68,215.22 L95.88,214.91 L97.08,214.61 L98.29,214.32 L99.51,214.04 L100.73,213.76 L101.96,213.49 L103.20,213.23" stroke="#2f62ea" stroke-width="1.0"/><path d="M19.40,281.00 L19.45,280.74 L19.54,280.35 L19.67,279.88 L19.83,279.36 L20.01,278.80 L20.22,278.20 L20.45,277.58 L20.70,276.92 L20.97,276.25 L21.26,275.55 L21.57,274.84 L21.89,274.11 L22.23,273.37 L22.59,272.62 L22.96,271.86 L23.35,271.09 L23.75,270.32 L24.17,269.53 L24.60,268.74 L25.04,267.94 L25.50,267.13 L25.97,266.31 L26.46,265.49 L26.95,264.66 L27.46,263.83 L27.98,262.99 L28.52,262.14 L29.07,261.30 L29.62,260.45 L30.19,259.60 L30.78,258.75 L31.37,257.90 L31.97,257.04 L32.59,256.19 L33.21,255.34 L33.85,254.49 L34.50,253.64 L35.16,252.80 L35.82,251.96 L36.50,251.12 L37.19,250.28 L37.89,249.45 L38.60,248.63 L39.32,247.80 L40.05,246.99 L40.79,246.18 L41.54,245.37 L42.30,244.58 L43.06,243.78 L43.84,243.00 L44.63,242.22 L45.42,241.45 L46.23,240.69 L47.04,239.94 L47.87,239.19 L48.70,238.45 L49.54,237.72 L50.39,237.00 L51.25,236.29 L52.12,235.59 L53.00,234.90 L53.88,234.21 L54.78,233.54 L55.68,232.87 L56.59,232.22 L57.51,231.57 L58.44,230.94 L59.37,230.31 L60.32,229.70 L61.27,229.09 L62.23,228.49 L63.20,227.91 L64.18,227.33 L65.17,226.77 L66.16,226.21 L67.16,225.67 L68.17,225.13 L69.19,224.61 L70.21,224.09 L71.25,223.59 L72.29,223.09 L73.34,222.61 L74.39,222.13 L75.46,221.66 L76.53,221.21 L77.61,220.76 L78.69,220.33 L79.79,219.90 L80.89,219.48 L82.00,219.07 L83.11,218.67 L84.24,218.28 L85.37,217.90 L86.51,217.53 L87.65,217.17 L88.81,216.81 L89.97,216.47 L91.14,216.13 L92.31,215.80 L93.49,215.48 L94.68,215.17 L95.88,214.86 L97.08,214.57 L98.29,214.28 L99.51,214.00 L100.73,213.72 L101.96,213.46 L103.20,213.20 L104.45,212.95 L105.70,212.70 L106.96,212.46 L108.22,212.23 L109.49,212.01 L110.77,211.79 L112.06,211.58 L113.35,211.37 L114.65,211.17 L115.96,210.98 L117.27,210.79 L118.59,210.61 L119.91,210.43 L121.25,210.26 L122.59,210.10 L123.93,209.93 L125.28,209.78 L126.64,209.63 L128.01,209.48 L129.38,209.34 L130.76,209.21 L132.14,209.07 L133.53,208.95 L134.93,208.82 L136.33,208.70 L137.74,208.59 L139.16,208.48 L140.58,208.37 L142.01,208.27 L143.45,208.17 L144.89,208.07 L146.33,207.98 L147.79,207.89 L149.25,207.80 L150.71,207.71 L152.19,207.63 L153.67,207.56 L155.15,207.48 L156.64,207.41 L158.14,207.34 L159.64,207.27 L161.15,207.21 L162.66,207.15 L164.19,207.09 L165.71,207.03 L167.25,206.97 L168.78,206.92 L170.33,206.87 L171.88,206.82 L173.44,206.78 L175.00,206.73" stroke="#33d944" stroke-width="1.1"/><path d="M19.40,281.00 L19.45,280.89 L19.54,280.72 L19.67,280.51 L19.83,280.27 L20.01,280.01 L20.22,279.73 L20.45,279.43 L20.70,279.12 L20.97,278.79 L21.26,278.45 L21.57,278.10 L21.89,277.74 L22.23,277.37 L22.59,276.99 L22.96,276.60 L23.35,276.21 L23.75,275.80 L24.17,275.39 L24.60,274.98 L25.04,274.56 L25.50,274.13 L25.97,273.70 L26.46,273.27 L26.95,272.83 L27.46,272.38 L27.98,271.93 L28.52,271.48 L29.07,271.03 L29.62,270.57 L30.19,270.09 L30.78,269.61 L31.37,269.12 L31.97,268.61 L32.59,268.10 L33.21,267.57 L33.85,267.04 L34.50,266.49 L35.16,265.93 L35.82,265.37 L36.50,264.79 L37.19,264.21 L37.89,263.62 L38.60,263.02 L39.32,262.41 L40.05,261.79 L40.79,261.16 L41.54,260.53 L42.30,259.88 L43.06,259.24 L43.84,258.58 L44.63,257.91 L45.42,257.24 L46.23,256.57 L47.04,255.89 L47.87,255.20 L48.70,254.50 L49.54,253.81 L50.39,253.10 L51.25,252.40 L52.12,251.69 L53.00,250.97 L53.88,250.25 L54.78,249.53 L55.68,248.81 L56.59,248.08 L57.51,247.36 L58.44,246.63 L59.37,245.90 L60.32,245.17 L61.27,244.44 L62.23,243.71 L63.20,242.98 L64.18,242.25 L65.17,241.52 L66.16,240.79 L67.16,240.07 L68.17,239.35 L69.19,238.63 L70.21,237.91 L71.25,237.20 L72.29,236.49 L73.34,235.79 L74.39,235.09 L75.46,234.40 L76.53,233.71 L77.61,233.02 L78.69,232.35 L79.79,231.68 L80.89,231.01 L82.00,230.35 L83.11,229.70 L84.24,229.06 L85.37,228.43 L86.51,227.80 L87.65,227.18 L88.81,226.57 L89.97,225.97 L91.14,225.38 L92.31,224.79 L93.49,224.22 L94.68,223.65 L95.88,223.10 L97.08,222.55 L98.29,222.02 L99.51,221.49 L100.73,220.98 L101.96,220.48 L103.20,219.98 L104.45,219.50 L105.70,219.03 L106.96,218.56 L108.22,218.11 L109.49,217.67 L110.77,217.24 L112.06,216.82 L113.35,216.42 L114.65,216.02 L115.96,215.63 L117.27,215.25 L118.59,214.89 L119.91,214.53 L121.25,214.19 L122.59,213.86 L123.93,213.53 L125.28,213.22 L126.64,212.91 L128.01,212.62 L129.38,212.34 L130.76,212.06 L132.14,211.80 L133.53,211.54 L134.93,211.30 L136.33,211.06 L137.74,210.83 L139.16,210.61 L140.58,210.40 L142.01,210.20 L143.45,210.01 L144.89,209.82 L146.33,209.64 L147.79,209.47 L149.25,209.31 L150.71,209.15 L152.19,209.00 L153.67,208.86 L155.15,208.72 L156.64,208.59 L158.14,208.47 L159.64,208.35 L161.15,208.24 L162.66,208.13 L164.19,208.03 L165.71,207.94 L167.25,207.85 L168.78,207.76 L170.33,207.68 L171.88,207.60 L173.44,207.53 L175.00,207.46" stroke="#f5c830" stroke-width="1.1"/><path d="M19.40,281.00 L19.45,280.94 L19.54,280.85 L19.67,280.72 L19.83,280.58 L20.01,280.42 L20.22,280.25 L20.45,280.06 L20.70,279.86 L20.97,279.65 L21.26,279.43 L21.57,279.19 L21.89,278.95 L22.23,278.71 L22.59,278.45 L22.96,278.19 L23.35,277.92 L23.75,277.64 L24.17,277.35 L24.60,277.06 L25.04,276.77 L25.50,276.47 L25.97,276.16 L26.46,275.85 L26.95,275.53 L27.46,275.21 L27.98,274.89 L28.52,274.56 L29.07,274.22 L29.62,273.89 L30.19,273.54 L30.78,273.19 L31.37,272.83 L31.97,272.46 L32.59,272.09 L33.21,271.71 L33.85,271.32 L34.50,270.93 L35.16,270.53 L35.82,270.13 L36.50,269.72 L37.19,269.30 L37.89,268.88 L38.60,268.45 L39.32,268.02 L40.05,267.58 L40.79,267.13 L41.54,266.69 L42.30,266.23 L43.06,265.77 L43.84,265.31 L44.63,264.84 L45.42,264.36 L46.23,263.88 L47.04,263.40 L47.87,262.91 L48.70,262.42 L49.54,261.92 L50.39,261.42 L51.25,260.92 L52.12,260.41 L53.00,259.90 L53.88,259.39 L54.78,258.87 L55.68,258.35 L56.59,257.83 L57.51,257.30 L58.44,256.77 L59.37,256.24 L60.32,255.71 L61.27,255.17 L62.23,254.63 L63.20,254.09 L64.18,253.55 L65.17,253.01 L66.16,252.47 L67.16,251.92 L68.17,251.37 L69.19,250.82 L70.21,250.28 L71.25,249.73 L72.29,249.18 L73.34,248.63 L74.39,248.08 L75.46,247.53 L76.53,246.98 L77.61,246.43 L78.69,245.88 L79.79,245.33 L80.89,244.78 L82.00,244.23 L83.11,243.68 L84.24,243.14 L85.37,242.59 L86.51,242.05 L87.65,241.51 L88.81,240.97 L89.97,240.43 L91.14,239.89 L92.31,239.36 L93.49,238.83 L94.68,238.30 L95.88,237.77 L97.08,237.25 L98.29,236.72 L99.51,236.20 L100.73,235.69 L101.96,235.17 L103.20,234.66 L104.45,234.16 L105.70,233.65 L106.96,233.15 L108.22,232.66 L109.49,232.17 L110.77,231.68 L112.06,231.19 L113.35,230.71 L114.65,230.23 L115.96,229.76 L117.27,229.29 L118.59,228.83 L119.91,228.37 L121.25,227.91 L122.59,227.46 L123.93,227.01 L125.28,226.57 L126.64,226.13 L128.01,225.70 L129.38,225.27 L130.76,224.85 L132.14,224.43 L133.53,224.02 L134.93,223.61 L136.33,223.21 L137.74,222.81 L139.16,222.42 L140.58,222.03 L142.01,221.65 L143.45,221.28 L144.89,220.90 L146.33,220.54 L147.79,220.18 L149.25,219.82 L150.71,219.47 L152.19,219.13 L153.67,218.79 L155.15,218.45 L156.64,218.12 L158.14,217.80 L159.64,217.48 L161.15,217.17 L162.66,216.86 L164.19,216.56 L165.71,216.26 L167.25,215.97 L168.78,215.68 L170.33,215.40 L171.88,215.13 L173.44,214.86 L175.00,214.59" stroke="#f06a3c" stroke-width="1.1"/></g><g fill="#000"><circle cx="21.47" cy="276.04" r="1.35"/><circle cx="25.52" cy="270.71" r="1.35"/><circle cx="29.77" cy="265.38" r="1.35"/><circle cx="36.31" cy="260.27" r="1.35"/><circle cx="43.47" cy="255.23" r="1.35"/><circle cx="52.70" cy="250.12" r="1.35"/><circle cx="63.69" cy="244.57" r="1.35"/><circle cx="74.27" cy="239.32" r="1.35"/><circle cx="86.62" cy="234.43" r="1.35"/><circle cx="98.44" cy="228.88" r="1.35"/><circle cx="115.04" cy="223.77" r="1.35"/><circle cx="130.71" cy="218.73" r="1.35"/><circle cx="149.90" cy="213.40" r="1.35"/><circle cx="173.76" cy="208.00" r="1.35"/></g><path d="M19.50,204.90 H175.50" fill="none" stroke="#bdbdbd" stroke-width="1.4"/><path d="M175.50,204.90 V281.50" fill="none" stroke="#a8a8a8" stroke-width="1.0"/><path d="M19.50,204.40 V281.50 H176.00" fill="none" stroke="#9a9a9a" stroke-width="1.0"/><path d="M17.60,281.00H19.50M18.20,273.70H19.50M17.60,266.40H19.50M18.20,259.10H19.50M17.60,251.80H19.50M18.20,244.50H19.50M17.60,237.20H19.50M18.20,229.90H19.50M17.60,222.60H19.50M18.20,215.30H19.50M17.60,208.00H19.50M19.40,281.50V283.40M32.37,281.50V282.80M45.33,281.50V283.40M58.30,281.50V282.80M71.27,281.50V283.40M84.23,281.50V282.80M97.20,281.50V283.40M110.17,281.50V282.80M123.13,281.50V283.40M136.10,281.50V282.80M149.07,281.50V283.40M162.03,281.50V282.80M175.00,281.50V283.40" stroke="#909090" stroke-width="0.7" fill="none"/><g font-size="3.9" fill="#222" style="stroke:#222;stroke-width:0.12px"><text x="16.70" y="282.40" text-anchor="end">0.0</text><text x="16.70" y="267.80" text-anchor="end">0.2</text><text x="16.70" y="253.20" text-anchor="end">0.4</text><text x="16.70" y="238.60" text-anchor="end">0.6</text><text x="16.70" y="224.00" text-anchor="end">0.8</text><text x="16.70" y="209.40" text-anchor="end">1.0</text><text x="19.40" y="287.00" text-anchor="middle">0</text><text x="45.33" y="287.00" text-anchor="middle">25</text><text x="71.27" y="287.00" text-anchor="middle">50</text><text x="97.20" y="287.00" text-anchor="middle">75</text><text x="123.13" y="287.00" text-anchor="middle">100</text><text x="149.07" y="287.00" text-anchor="middle">125</text><text x="175.00" y="287.00" text-anchor="middle">150</text></g><text x="97.80" y="291.30" text-anchor="middle" font-size="4.35" fill="#000">Time (min)</text><text transform="translate(7.50,240.80) rotate(-90)" text-anchor="middle" font-size="4.6" fill="#000">Conversion (X)</text><text x="14.60" y="202.00" font-size="6.3" text-anchor="middle" fill="#000">G</text><text x="19.90" y="202.00" font-size="5.0" fill="#000">T: 900 °C, H<tspan font-size="3.3" dy="1.0">2</tspan><tspan dy="-1.0">: 100 ccm, </tspan>N<tspan font-size="3.3" dy="1.0">2</tspan><tspan dy="-1.0">: 200 ccm, m: 4.81 g</tspan></text><rect x="140.00" y="237.80" width="33.6" height="41.8" fill="#fff" stroke="#c8c8c8" stroke-width="0.6"/><g font-size="4.7" fill="#000"><path d="M140.40,241.40h11.4" stroke="#8f52e6" stroke-width="1.4"/><text x="152.60" y="243.10">X-Pm</text><path d="M140.40,247.35h11.4" stroke="#4c80ea" stroke-width="1.4"/><text x="152.60" y="249.05">X-Ps</text><path d="M140.40,253.30h11.4" stroke="#4fe0f2" stroke-width="1.4"/><text x="152.60" y="255.00">X-PH2</text><path d="M140.40,259.25h11.4" stroke="#52dc58" stroke-width="1.4"/><text x="152.60" y="260.95">X-P(50%)</text><path d="M140.40,265.20h11.4" stroke="#f7d978" stroke-width="1.4"/><text x="152.60" y="266.90">X-P(10%)</text><path d="M140.40,271.15h11.4" stroke="#f29a7a" stroke-width="1.4"/><text x="152.60" y="272.85">X-P(5%)</text><circle cx="145.60" cy="277.10" r="1.35" fill="#000"/><text x="152.60" y="278.80">X-Exp 7</text></g></g>
<g><clipPath id="cH"><rect x="204.30" y="204.80" width="155.60" height="76.20"/></clipPath><g clip-path="url(#cH)" fill="none" stroke-width="1.3" stroke-linejoin="round"><path d="M204.30,281.00 L204.35,280.97 L204.44,280.90 L204.57,280.81 L204.73,280.69 L204.91,280.54 L205.12,280.37 L205.35,280.19 L205.60,279.98 L205.87,279.75 L206.16,279.51 L206.47,279.25 L206.79,278.97 L207.13,278.67 L207.49,278.36 L207.86,278.04 L208.25,277.69 L208.65,277.34 L209.07,276.97 L209.50,276.58 L209.94,276.19 L210.40,275.78 L210.87,275.35 L211.36,274.92 L211.85,274.47 L212.36,274.01 L212.88,273.54 L213.42,273.06 L213.97,272.56 L214.52,272.06 L215.09,271.55 L215.68,271.02 L216.27,270.49 L216.87,269.95 L217.49,269.39 L218.11,268.83 L218.75,268.25 L219.40,267.67 L220.06,267.07 L220.72,266.47 L221.40,265.85 L222.09,265.23 L222.79,264.60 L223.50,263.96 L224.22,263.32 L224.95,262.67 L225.69,262.00 L226.44,261.34 L227.20,260.66 L227.96,259.98 L228.74,259.30 L229.53,258.61 L230.32,257.91 L231.13,257.21 L231.94,256.51 L232.77,255.80 L233.60,255.09 L234.44,254.38 L235.29,253.66 L236.15,252.94 L237.02,252.22 L237.90,251.50 L238.78,250.78 L239.68,250.05 L240.58,249.33 L241.49,248.61 L242.41,247.89 L243.34,247.16 L244.27,246.44 L245.22,245.72 L246.17,245.01 L247.13,244.29 L248.10,243.58 L249.08,242.87 L250.07,242.16 L251.06,241.46 L252.06,240.76 L253.07,240.07 L254.09,239.38 L255.11,238.69 L256.15,238.01 L257.19,237.34 L258.24,236.67 L259.29,236.01 L260.36,235.35 L261.43,234.70 L262.51,234.06 L263.59,233.42 L264.69,232.79 L265.79,232.17 L266.90,231.55 L268.01,230.94 L269.14,230.34 L270.27,229.75 L271.41,229.16 L272.55,228.59 L273.71,228.02 L274.87,227.46 L276.04,226.91 L277.21,226.36 L278.39,225.83 L279.58,225.30 L280.78,224.78 L281.98,224.27 L283.19,223.77 L284.41,223.28 L285.63,222.80 L286.86,222.32 L288.10,221.86 L289.35,221.40 L290.60,220.95 L291.86,220.51 L293.12,220.08 L294.39,219.66 L295.67,219.25 L296.96,218.84 L298.25,218.45 L299.55,218.06 L300.86,217.68 L302.17,217.31 L303.49,216.95 L304.81,216.59 L306.15,216.25 L307.49,215.91 L308.83,215.58 L310.18,215.26 L311.54,214.94 L312.91,214.64 L314.28,214.34 L315.66,214.05 L317.04,213.77 L318.43,213.49 L319.83,213.22" stroke="#30e0f0" stroke-width="1.0"/><path d="M204.30,281.00 L204.35,280.97 L204.44,280.89 L204.57,280.79 L204.73,280.66 L204.91,280.50 L205.12,280.32 L205.35,280.11 L205.60,279.89 L205.87,279.65 L206.16,279.38 L206.47,279.10 L206.79,278.80 L207.13,278.48 L207.49,278.15 L207.86,277.80 L208.25,277.43 L208.65,277.05 L209.07,276.66 L209.50,276.25 L209.94,275.83 L210.40,275.40 L210.87,274.95 L211.36,274.49 L211.85,274.02 L212.36,273.53 L212.88,273.04 L213.42,272.53 L213.97,272.02 L214.52,271.50 L215.09,270.96 L215.68,270.42 L216.27,269.87 L216.87,269.30 L217.49,268.73 L218.11,268.15 L218.75,267.56 L219.40,266.96 L220.06,266.35 L220.72,265.73 L221.40,265.11 L222.09,264.48 L222.79,263.84 L223.50,263.19 L224.22,262.53 L224.95,261.87 L225.69,261.21 L226.44,260.54 L227.20,259.86 L227.96,259.18 L228.74,258.49 L229.53,257.80 L230.32,257.10 L231.13,256.40 L231.94,255.70 L232.77,255.00 L233.60,254.29 L234.44,253.58 L235.29,252.87 L236.15,252.16 L237.02,251.45 L237.90,250.73 L238.78,250.02 L239.68,249.31 L240.58,248.59 L241.49,247.88 L242.41,247.17 L243.34,246.46 L244.27,245.75 L245.22,245.04 L246.17,244.34 L247.13,243.64 L248.10,242.94 L249.08,242.24 L250.07,241.55 L251.06,240.87 L252.06,240.18 L253.07,239.50 L254.09,238.83 L255.11,238.16 L256.15,237.50 L257.19,236.84 L258.24,236.18 L259.29,235.54 L260.36,234.90 L261.43,234.26 L262.51,233.63 L263.59,233.01 L264.69,232.39 L265.79,231.79 L266.90,231.18 L268.01,230.59 L269.14,230.00 L270.27,229.43 L271.41,228.85 L272.55,228.29 L273.71,227.73 L274.87,227.19 L276.04,226.65 L277.21,226.11 L278.39,225.59 L279.58,225.08 L280.78,224.57 L281.98,224.07 L283.19,223.58 L284.41,223.10 L285.63,222.62 L286.86,222.16 L288.10,221.70 L289.35,221.25 L290.60,220.82 L291.86,220.38 L293.12,219.96 L294.39,219.55 L295.67,219.14 L296.96,218.74 L298.25,218.35 L299.55,217.97 L300.86,217.60 L302.17,217.23 L303.49,216.88 L304.81,216.53 L306.15,216.19 L307.49,215.85 L308.83,215.53 L310.18,215.21 L311.54,214.90 L312.91,214.60 L314.28,214.30 L315.66,214.02 L317.04,213.74 L318.43,213.46 L319.83,213.20" stroke="#9b40e8" stroke-width="1.0"/><path d="M204.30,281.00 L204.35,280.97 L204.44,280.89 L204.57,280.79 L204.73,280.66 L204.91,280.50 L205.12,280.32 L205.35,280.11 L205.60,279.89 L205.87,279.65 L206.16,279.38 L206.47,279.10 L206.79,278.80 L207.13,278.48 L207.49,278.15 L207.86,277.80 L208.25,277.43 L208.65,277.05 L209.07,276.66 L209.50,276.25 L209.94,275.83 L210.40,275.40 L210.87,274.95 L211.36,274.49 L211.85,274.02 L212.36,273.53 L212.88,273.04 L213.42,272.53 L213.97,272.02 L214.52,271.50 L215.09,270.96 L215.68,270.42 L216.27,269.87 L216.87,269.30 L217.49,268.73 L218.11,268.15 L218.75,267.56 L219.40,266.96 L220.06,266.35 L220.72,265.73 L221.40,265.11 L222.09,264.48 L222.79,263.84 L223.50,263.19 L224.22,262.53 L224.95,261.87 L225.69,261.21 L226.44,260.54 L227.20,259.86 L227.96,259.18 L228.74,258.49 L229.53,257.80 L230.32,257.10 L231.13,256.40 L231.94,255.70 L232.77,255.00 L233.60,254.29 L234.44,253.58 L235.29,252.87 L236.15,252.16 L237.02,251.45 L237.90,250.73 L238.78,250.02 L239.68,249.31 L240.58,248.59 L241.49,247.88 L242.41,247.17 L243.34,246.46 L244.27,245.75 L245.22,245.04 L246.17,244.34 L247.13,243.64 L248.10,242.94 L249.08,242.24 L250.07,241.55 L251.06,240.87 L252.06,240.18 L253.07,239.50 L254.09,238.83 L255.11,238.16 L256.15,237.50 L257.19,236.84 L258.24,236.18 L259.29,235.54 L260.36,234.90 L261.43,234.26 L262.51,233.63 L263.59,233.01 L264.69,232.39 L265.79,231.79 L266.90,231.18 L268.01,230.59 L269.14,230.00 L270.27,229.43 L271.41,228.85 L272.55,228.29 L273.71,227.73 L274.87,227.19 L276.04,226.65 L277.21,226.11 L278.39,225.59 L279.58,225.08 L280.78,224.57 L281.98,224.07 L283.19,223.58 L284.41,223.10 L285.63,222.62 L286.86,222.16 L288.10,221.70 L289.35,221.25 L290.60,220.82 L291.86,220.38 L293.12,219.96 L294.39,219.55 L295.67,219.14 L296.96,218.74 L298.25,218.35 L299.55,217.97 L300.86,217.60 L302.17,217.23 L303.49,216.88 L304.81,216.53 L306.15,216.19 L307.49,215.85 L308.83,215.53 L310.18,215.21 L311.54,214.90 L312.91,214.60 L314.28,214.30 L315.66,214.02 L317.04,213.74 L318.43,213.46 L319.83,213.20" stroke="#2f62ea" stroke-width="1.0"/><path d="M204.30,281.00 L204.35,280.96 L204.44,280.88 L204.57,280.77 L204.73,280.63 L204.91,280.45 L205.12,280.26 L205.35,280.03 L205.60,279.79 L205.87,279.53 L206.16,279.24 L206.47,278.93 L206.79,278.61 L207.13,278.27 L207.49,277.91 L207.86,277.53 L208.25,277.14 L208.65,276.73 L209.07,276.31 L209.50,275.88 L209.94,275.43 L210.40,274.96 L210.87,274.49 L211.36,274.00 L211.85,273.50 L212.36,272.99 L212.88,272.47 L213.42,271.94 L213.97,271.40 L214.52,270.86 L215.09,270.30 L215.68,269.73 L216.27,269.16 L216.87,268.58 L217.49,267.99 L218.11,267.38 L218.75,266.78 L219.40,266.16 L220.06,265.53 L220.72,264.90 L221.40,264.26 L222.09,263.62 L222.79,262.97 L223.50,262.31 L224.22,261.65 L224.95,260.98 L225.69,260.30 L226.44,259.63 L227.20,258.95 L227.96,258.26 L228.74,257.57 L229.53,256.88 L230.32,256.18 L231.13,255.49 L231.94,254.79 L232.77,254.09 L233.60,253.38 L234.44,252.68 L235.29,251.98 L236.15,251.27 L237.02,250.57 L237.90,249.86 L238.78,249.16 L239.68,248.46 L240.58,247.75 L241.49,247.05 L242.41,246.35 L243.34,245.66 L244.27,244.96 L245.22,244.27 L246.17,243.58 L247.13,242.90 L248.10,242.22 L249.08,241.54 L250.07,240.86 L251.06,240.19 L252.06,239.53 L253.07,238.86 L254.09,238.21 L255.11,237.55 L256.15,236.91 L257.19,236.27 L258.24,235.63 L259.29,235.00 L260.36,234.38 L261.43,233.76 L262.51,233.15 L263.59,232.54 L264.69,231.95 L265.79,231.35 L266.90,230.77 L268.01,230.19 L269.14,229.62 L270.27,229.06 L271.41,228.50 L272.55,227.95 L273.71,227.41 L274.87,226.88 L276.04,226.35 L277.21,225.84 L278.39,225.32 L279.58,224.82 L280.78,224.33 L281.98,223.84 L283.19,223.36 L284.41,222.89 L285.63,222.43 L286.86,221.98 L288.10,221.53 L289.35,221.09 L290.60,220.66 L291.86,220.24 L293.12,219.82 L294.39,219.42 L295.67,219.02 L296.96,218.63 L298.25,218.25 L299.55,217.87 L300.86,217.51 L302.17,217.15 L303.49,216.80 L304.81,216.45 L306.15,216.12 L307.49,215.79 L308.83,215.47 L310.18,215.16 L311.54,214.85 L312.91,214.55 L314.28,214.26 L315.66,213.98 L317.04,213.70 L318.43,213.43 L319.83,213.17 L321.23,212.91 L322.64,212.66 L324.06,212.42 L325.48,212.18 L326.91,211.95 L328.35,211.73 L329.79,211.51 L331.23,211.30 L332.69,211.09 L334.15,210.89 L335.61,210.70 L337.09,210.51 L338.57,210.33 L340.05,210.15 L341.54,209.98 L343.04,209.81 L344.54,209.65 L346.05,209.49 L347.56,209.34 L349.09,209.19 L350.61,209.05 L352.15,208.91 L353.68,208.78 L355.23,208.65 L356.78,208.53 L358.34,208.41 L359.90,208.29" stroke="#33d944" stroke-width="1.1"/><path d="M204.30,281.00 L204.35,280.98 L204.44,280.94 L204.57,280.88 L204.73,280.80 L204.91,280.70 L205.12,280.58 L205.35,280.45 L205.60,280.30 L205.87,280.14 L206.16,279.97 L206.47,279.78 L206.79,279.58 L207.13,279.37 L207.49,279.14 L207.86,278.90 L208.25,278.65 L208.65,278.39 L209.07,278.12 L209.50,277.84 L209.94,277.55 L210.40,277.24 L210.87,276.93 L211.36,276.61 L211.85,276.27 L212.36,275.93 L212.88,275.58 L213.42,275.22 L213.97,274.86 L214.52,274.48 L215.09,274.10 L215.68,273.71 L216.27,273.31 L216.87,272.90 L217.49,272.49 L218.11,272.07 L218.75,271.64 L219.40,271.21 L220.06,270.77 L220.72,270.33 L221.40,269.88 L222.09,269.43 L222.79,268.97 L223.50,268.50 L224.22,268.03 L224.95,267.56 L225.69,267.08 L226.44,266.60 L227.20,266.11 L227.96,265.62 L228.74,265.13 L229.53,264.63 L230.32,264.13 L231.13,263.61 L231.94,263.09 L232.77,262.57 L233.60,262.04 L234.44,261.50 L235.29,260.95 L236.15,260.40 L237.02,259.84 L237.90,259.27 L238.78,258.70 L239.68,258.12 L240.58,257.54 L241.49,256.95 L242.41,256.36 L243.34,255.76 L244.27,255.16 L245.22,254.55 L246.17,253.94 L247.13,253.33 L248.10,252.71 L249.08,252.09 L250.07,251.46 L251.06,250.83 L252.06,250.20 L253.07,249.57 L254.09,248.93 L255.11,248.30 L256.15,247.66 L257.19,247.02 L258.24,246.38 L259.29,245.73 L260.36,245.09 L261.43,244.45 L262.51,243.81 L263.59,243.16 L264.69,242.52 L265.79,241.88 L266.90,241.24 L268.01,240.60 L269.14,239.97 L270.27,239.33 L271.41,238.70 L272.55,238.07 L273.71,237.45 L274.87,236.83 L276.04,236.21 L277.21,235.59 L278.39,234.98 L279.58,234.37 L280.78,233.77 L281.98,233.17 L283.19,232.58 L284.41,231.99 L285.63,231.41 L286.86,230.84 L288.10,230.27 L289.35,229.70 L290.60,229.15 L291.86,228.60 L293.12,228.05 L294.39,227.52 L295.67,226.99 L296.96,226.47 L298.25,225.95 L299.55,225.45 L300.86,224.95 L302.17,224.46 L303.49,223.98 L304.81,223.50 L306.15,223.04 L307.49,222.58 L308.83,222.13 L310.18,221.69 L311.54,221.26 L312.91,220.84 L314.28,220.43 L315.66,220.02 L317.04,219.63 L318.43,219.24 L319.83,218.86 L321.23,218.50 L322.64,218.14 L324.06,217.79 L325.48,217.44 L326.91,217.11 L328.35,216.79 L329.79,216.47 L331.23,216.17 L332.69,215.87 L334.15,215.58 L335.61,215.30 L337.09,215.03 L338.57,214.77 L340.05,214.51 L341.54,214.27 L343.04,214.03 L344.54,213.80 L346.05,213.57 L347.56,213.36 L349.09,213.15 L350.61,212.95 L352.15,212.76 L353.68,212.58 L355.23,212.40 L356.78,212.23 L358.34,212.06 L359.90,211.90" stroke="#f5c830" stroke-width="1.1"/><path d="M204.30,281.00 L204.35,280.98 L204.44,280.94 L204.57,280.89 L204.73,280.82 L204.91,280.73 L205.12,280.63 L205.35,280.53 L205.60,280.40 L205.87,280.27 L206.16,280.13 L206.47,279.98 L206.79,279.82 L207.13,279.65 L207.49,279.47 L207.86,279.28 L208.25,279.08 L208.65,278.88 L209.07,278.67 L209.50,278.44 L209.94,278.22 L210.40,277.98 L210.87,277.74 L211.36,277.49 L211.85,277.23 L212.36,276.97 L212.88,276.70 L213.42,276.42 L213.97,276.14 L214.52,275.85 L215.09,275.56 L215.68,275.26 L216.27,274.95 L216.87,274.64 L217.49,274.33 L218.11,274.00 L218.75,273.68 L219.40,273.35 L220.06,273.01 L220.72,272.67 L221.40,272.33 L222.09,271.98 L222.79,271.63 L223.50,271.27 L224.22,270.91 L224.95,270.55 L225.69,270.18 L226.44,269.81 L227.20,269.43 L227.96,269.05 L228.74,268.67 L229.53,268.29 L230.32,267.90 L231.13,267.50 L231.94,267.11 L232.77,266.70 L233.60,266.30 L234.44,265.89 L235.29,265.47 L236.15,265.05 L237.02,264.63 L237.90,264.20 L238.78,263.77 L239.68,263.34 L240.58,262.90 L241.49,262.46 L242.41,262.02 L243.34,261.57 L244.27,261.12 L245.22,260.67 L246.17,260.21 L247.13,259.75 L248.10,259.29 L249.08,258.83 L250.07,258.36 L251.06,257.89 L252.06,257.42 L253.07,256.95 L254.09,256.47 L255.11,256.00 L256.15,255.52 L257.19,255.04 L258.24,254.55 L259.29,254.07 L260.36,253.58 L261.43,253.10 L262.51,252.61 L263.59,252.12 L264.69,251.63 L265.79,251.14 L266.90,250.65 L268.01,250.16 L269.14,249.66 L270.27,249.17 L271.41,248.68 L272.55,248.18 L273.71,247.69 L274.87,247.20 L276.04,246.70 L277.21,246.21 L278.39,245.72 L279.58,245.22 L280.78,244.73 L281.98,244.24 L283.19,243.75 L284.41,243.26 L285.63,242.77 L286.86,242.28 L288.10,241.80 L289.35,241.31 L290.60,240.83 L291.86,240.35 L293.12,239.87 L294.39,239.39 L295.67,238.91 L296.96,238.43 L298.25,237.96 L299.55,237.49 L300.86,237.02 L302.17,236.55 L303.49,236.09 L304.81,235.63 L306.15,235.17 L307.49,234.71 L308.83,234.25 L310.18,233.80 L311.54,233.35 L312.91,232.91 L314.28,232.46 L315.66,232.02 L317.04,231.59 L318.43,231.15 L319.83,230.72 L321.23,230.29 L322.64,229.87 L324.06,229.45 L325.48,229.03 L326.91,228.61 L328.35,228.20 L329.79,227.80 L331.23,227.39 L332.69,226.99 L334.15,226.60 L335.61,226.20 L337.09,225.82 L338.57,225.43 L340.05,225.05 L341.54,224.68 L343.04,224.30 L344.54,223.93 L346.05,223.57 L347.56,223.21 L349.09,222.85 L350.61,222.50 L352.15,222.15 L353.68,221.81 L355.23,221.47 L356.78,221.13 L358.34,220.80 L359.90,220.48" stroke="#f06a3c" stroke-width="1.1"/></g><g fill="#000"><circle cx="206.95" cy="277.20" r="1.35"/><circle cx="210.52" cy="273.19" r="1.35"/><circle cx="213.40" cy="269.10" r="1.35"/><circle cx="217.68" cy="264.79" r="1.35"/><circle cx="223.59" cy="261.29" r="1.35"/><circle cx="231.45" cy="256.98" r="1.35"/><circle cx="238.69" cy="252.82" r="1.35"/><circle cx="245.61" cy="249.10" r="1.35"/><circle cx="253.63" cy="245.23" r="1.35"/><circle cx="260.32" cy="240.92" r="1.35"/><circle cx="268.72" cy="236.40" r="1.35"/><circle cx="278.13" cy="232.82" r="1.35"/><circle cx="288.79" cy="228.88" r="1.35"/><circle cx="299.99" cy="224.57" r="1.35"/><circle cx="312.36" cy="220.70" r="1.35"/><circle cx="326.13" cy="216.83" r="1.35"/><circle cx="344.73" cy="212.82" r="1.35"/></g><path d="M204.50,204.90 H359.50" fill="none" stroke="#bdbdbd" stroke-width="1.4"/><path d="M359.50,204.90 V281.50" fill="none" stroke="#a8a8a8" stroke-width="1.0"/><path d="M204.50,204.40 V281.50 H360.00" fill="none" stroke="#9a9a9a" stroke-width="1.0"/><path d="M202.60,281.00H204.50M203.20,273.70H204.50M202.60,266.40H204.50M203.20,259.10H204.50M202.60,251.80H204.50M203.20,244.50H204.50M202.60,237.20H204.50M203.20,229.90H204.50M202.60,222.60H204.50M203.20,215.30H204.50M202.60,208.00H204.50M204.30,281.50V283.40M223.75,281.50V282.80M243.20,281.50V283.40M262.65,281.50V282.80M282.10,281.50V283.40M301.55,281.50V282.80M321.00,281.50V283.40M340.45,281.50V282.80M359.90,281.50V283.40" stroke="#909090" stroke-width="0.7" fill="none"/><g font-size="3.9" fill="#222" style="stroke:#222;stroke-width:0.12px"><text x="201.60" y="282.40" text-anchor="end">0.0</text><text x="201.60" y="267.80" text-anchor="end">0.2</text><text x="201.60" y="253.20" text-anchor="end">0.4</text><text x="201.60" y="238.60" text-anchor="end">0.6</text><text x="201.60" y="224.00" text-anchor="end">0.8</text><text x="201.60" y="209.40" text-anchor="end">1.0</text><text x="204.30" y="287.00" text-anchor="middle">0</text><text x="243.20" y="287.00" text-anchor="middle">50</text><text x="282.10" y="287.00" text-anchor="middle">100</text><text x="321.00" y="287.00" text-anchor="middle">150</text><text x="359.90" y="287.00" text-anchor="middle">200</text></g><text x="282.70" y="291.30" text-anchor="middle" font-size="4.35" fill="#000">Time (min)</text><text transform="translate(192.40,240.80) rotate(-90)" text-anchor="middle" font-size="4.6" fill="#000">Conversion (X)</text><text x="199.50" y="202.00" font-size="6.3" text-anchor="middle" fill="#000">H</text><text x="204.80" y="202.00" font-size="5.0" fill="#000">T: 850 °C, H<tspan font-size="3.3" dy="1.0">2</tspan><tspan dy="-1.0">: 90 ccm, </tspan>CO: 10 ccm, N<tspan font-size="3.3" dy="1.0">2</tspan><tspan dy="-1.0">: 200 ccm, m: 6.22 g</tspan></text><rect x="324.90" y="237.80" width="33.6" height="41.8" fill="#fff" stroke="#c8c8c8" stroke-width="0.6"/><g font-size="4.7" fill="#000"><path d="M325.30,241.40h11.4" stroke="#8f52e6" stroke-width="1.4"/><text x="337.50" y="243.10">X-Pm</text><path d="M325.30,247.35h11.4" stroke="#4c80ea" stroke-width="1.4"/><text x="337.50" y="249.05">X-Ps</text><path d="M325.30,253.30h11.4" stroke="#4fe0f2" stroke-width="1.4"/><text x="337.50" y="255.00">X-PCO</text><path d="M325.30,259.25h11.4" stroke="#52dc58" stroke-width="1.4"/><text x="337.50" y="260.95">X-P(50%)</text><path d="M325.30,265.20h11.4" stroke="#f7d978" stroke-width="1.4"/><text x="337.50" y="266.90">X-P(10%)</text><path d="M325.30,271.15h11.4" stroke="#f29a7a" stroke-width="1.4"/><text x="337.50" y="272.85">X-P(5%)</text><circle cx="330.50" cy="277.10" r="1.35" fill="#000"/><text x="337.50" y="278.80">X-Exp 8</text></g></g>
<g><clipPath id="cI"><rect x="389.20" y="204.80" width="155.60" height="76.20"/></clipPath><g clip-path="url(#cI)" fill="none" stroke-width="1.3" stroke-linejoin="round"><path d="M389.20,281.00 L389.25,280.98 L389.34,280.94 L389.47,280.87 L389.63,280.78 L389.81,280.68 L390.02,280.56 L390.25,280.42 L390.50,280.27 L390.77,280.10 L391.06,279.92 L391.37,279.72 L391.69,279.51 L392.03,279.29 L392.39,279.05 L392.76,278.80 L393.15,278.54 L393.55,278.27 L393.97,277.98 L394.40,277.68 L394.84,277.38 L395.30,277.06 L395.77,276.72 L396.26,276.38 L396.75,276.03 L397.26,275.67 L397.78,275.29 L398.32,274.91 L398.87,274.52 L399.42,274.11 L399.99,273.70 L400.58,273.28 L401.17,272.85 L401.77,272.41 L402.39,271.97 L403.01,271.51 L403.65,271.05 L404.30,270.58 L404.96,270.10 L405.62,269.62 L406.30,269.12 L406.99,268.63 L407.69,268.12 L408.40,267.61 L409.12,267.09 L409.85,266.57 L410.59,266.04 L411.34,265.50 L412.10,264.96 L412.86,264.42 L413.64,263.87 L414.43,263.32 L415.22,262.76 L416.03,262.19 L416.84,261.62 L417.67,261.04 L418.50,260.46 L419.34,259.88 L420.19,259.28 L421.05,258.69 L421.92,258.09 L422.80,257.48 L423.68,256.87 L424.58,256.26 L425.48,255.65 L426.39,255.03 L427.31,254.41 L428.24,253.78 L429.17,253.16 L430.12,252.53 L431.07,251.90 L432.03,251.27 L433.00,250.63 L433.98,250.00 L434.97,249.37 L435.96,248.73 L436.96,248.10 L437.97,247.46 L438.99,246.83 L440.01,246.19 L441.05,245.56 L442.09,244.93 L443.14,244.30 L444.19,243.67 L445.26,243.05 L446.33,242.42 L447.41,241.80 L448.49,241.18 L449.59,240.57 L450.69,239.95 L451.80,239.35 L452.91,238.74 L454.04,238.14 L455.17,237.54 L456.31,236.95 L457.45,236.36 L458.61,235.77 L459.77,235.19 L460.94,234.62 L462.11,234.05 L463.29,233.49 L464.48,232.93 L465.68,232.37 L466.88,231.83 L468.09,231.28 L469.31,230.75 L470.53,230.22 L471.76,229.70 L473.00,229.18 L474.25,228.67 L475.50,228.17 L476.76,227.67 L478.02,227.18 L479.29,226.70 L480.57,226.22 L481.86,225.75 L483.15,225.29 L484.45,224.84 L485.76,224.39 L487.07,223.95 L488.39,223.52 L489.71,223.09 L491.05,222.67 L492.39,222.26 L493.73,221.86 L495.08,221.46 L496.44,221.07 L497.81,220.69 L499.18,220.31 L500.56,219.95 L501.94,219.59 L503.33,219.23 L504.73,218.89 L506.13,218.55 L507.54,218.22 L508.96,217.89 L510.38,217.58 L511.81,217.27 L513.25,216.96 L514.69,216.67 L516.13,216.38 L517.59,216.09 L519.05,215.82 L520.51,215.55 L521.99,215.28 L523.47,215.03 L524.95,214.78 L526.44,214.53 L527.94,214.29 L529.44,214.06 L530.95,213.84 L532.46,213.62 L533.99,213.40 L535.51,213.19" stroke="#30e0f0" stroke-width="1.0"/><path d="M389.20,281.00 L389.25,280.98 L389.34,280.93 L389.47,280.86 L389.63,280.76 L389.81,280.65 L390.02,280.52 L390.25,280.37 L390.50,280.20 L390.77,280.02 L391.06,279.83 L391.37,279.61 L391.69,279.39 L392.03,279.15 L392.39,278.89 L392.76,278.62 L393.15,278.34 L393.55,278.05 L393.97,277.74 L394.40,277.42 L394.84,277.09 L395.30,276.75 L395.77,276.40 L396.26,276.04 L396.75,275.66 L397.26,275.28 L397.78,274.88 L398.32,274.48 L398.87,274.07 L399.42,273.64 L399.99,273.21 L400.58,272.77 L401.17,272.32 L401.77,271.86 L402.39,271.40 L403.01,270.93 L403.65,270.45 L404.30,269.96 L404.96,269.47 L405.62,268.96 L406.30,268.46 L406.99,267.94 L407.69,267.43 L408.40,266.90 L409.12,266.37 L409.85,265.84 L410.59,265.30 L411.34,264.75 L412.10,264.20 L412.86,263.65 L413.64,263.09 L414.43,262.53 L415.22,261.97 L416.03,261.40 L416.84,260.82 L417.67,260.24 L418.50,259.66 L419.34,259.07 L420.19,258.47 L421.05,257.88 L421.92,257.28 L422.80,256.67 L423.68,256.06 L424.58,255.45 L425.48,254.84 L426.39,254.23 L427.31,253.61 L428.24,252.99 L429.17,252.37 L430.12,251.75 L431.07,251.12 L432.03,250.50 L433.00,249.88 L433.98,249.25 L434.97,248.63 L435.96,248.00 L436.96,247.38 L437.97,246.75 L438.99,246.13 L440.01,245.51 L441.05,244.89 L442.09,244.27 L443.14,243.65 L444.19,243.03 L445.26,242.42 L446.33,241.81 L447.41,241.20 L448.49,240.59 L449.59,239.99 L450.69,239.39 L451.80,238.80 L452.91,238.20 L454.04,237.62 L455.17,237.03 L456.31,236.45 L457.45,235.88 L458.61,235.31 L459.77,234.74 L460.94,234.18 L462.11,233.62 L463.29,233.07 L464.48,232.53 L465.68,231.99 L466.88,231.45 L468.09,230.92 L469.31,230.40 L470.53,229.89 L471.76,229.37 L473.00,228.87 L474.25,228.37 L475.50,227.88 L476.76,227.40 L478.02,226.92 L479.29,226.44 L480.57,225.98 L481.86,225.52 L483.15,225.07 L484.45,224.62 L485.76,224.19 L487.07,223.75 L488.39,223.33 L489.71,222.91 L491.05,222.50 L492.39,222.10 L493.73,221.70 L495.08,221.31 L496.44,220.93 L497.81,220.56 L499.18,220.19 L500.56,219.83 L501.94,219.47 L503.33,219.13 L504.73,218.79 L506.13,218.45 L507.54,218.13 L508.96,217.81 L510.38,217.50 L511.81,217.19 L513.25,216.89 L514.69,216.60 L516.13,216.31 L517.59,216.03 L519.05,215.76 L520.51,215.50 L521.99,215.24 L523.47,214.98 L524.95,214.73 L526.44,214.49 L527.94,214.26 L529.44,214.03 L530.95,213.80 L532.46,213.59 L533.99,213.38 L535.51,213.17" stroke="#9b40e8" stroke-width="1.0"/><path d="M389.20,281.00 L389.25,280.98 L389.34,280.93 L389.47,280.86 L389.63,280.76 L389.81,280.65 L390.02,280.52 L390.25,280.37 L390.50,280.20 L390.77,280.02 L391.06,279.83 L391.37,279.61 L391.69,279.39 L392.03,279.15 L392.39,278.89 L392.76,278.62 L393.15,278.34 L393.55,278.05 L393.97,277.74 L394.40,277.42 L394.84,277.09 L395.30,276.75 L395.77,276.40 L396.26,276.04 L396.75,275.66 L397.26,275.28 L397.78,274.88 L398.32,274.48 L398.87,274.07 L399.42,273.64 L399.99,273.21 L400.58,272.77 L401.17,272.32 L401.77,271.86 L402.39,271.40 L403.01,270.93 L403.65,270.45 L404.30,269.96 L404.96,269.47 L405.62,268.96 L406.30,268.46 L406.99,267.94 L407.69,267.43 L408.40,266.90 L409.12,266.37 L409.85,265.84 L410.59,265.30 L411.34,264.75 L412.10,264.20 L412.86,263.65 L413.64,263.09 L414.43,262.53 L415.22,261.97 L416.03,261.40 L416.84,260.82 L417.67,260.24 L418.50,259.66 L419.34,259.07 L420.19,258.47 L421.05,257.88 L421.92,257.28 L422.80,256.67 L423.68,256.06 L424.58,255.45 L425.48,254.84 L426.39,254.23 L427.31,253.61 L428.24,252.99 L429.17,252.37 L430.12,251.75 L431.07,251.12 L432.03,250.50 L433.00,249.88 L433.98,249.25 L434.97,248.63 L435.96,248.00 L436.96,247.38 L437.97,246.75 L438.99,246.13 L440.01,245.51 L441.05,244.89 L442.09,244.27 L443.14,243.65 L444.19,243.03 L445.26,242.42 L446.33,241.81 L447.41,241.20 L448.49,240.59 L449.59,239.99 L450.69,239.39 L451.80,238.80 L452.91,238.20 L454.04,237.62 L455.17,237.03 L456.31,236.45 L457.45,235.88 L458.61,235.31 L459.77,234.74 L460.94,234.18 L462.11,233.62 L463.29,233.07 L464.48,232.53 L465.68,231.99 L466.88,231.45 L468.09,230.92 L469.31,230.40 L470.53,229.89 L471.76,229.37 L473.00,228.87 L474.25,228.37 L475.50,227.88 L476.76,227.40 L478.02,226.92 L479.29,226.44 L480.57,225.98 L481.86,225.52 L483.15,225.07 L484.45,224.62 L485.76,224.19 L487.07,223.75 L488.39,223.33 L489.71,222.91 L491.05,222.50 L492.39,222.10 L493.73,221.70 L495.08,221.31 L496.44,220.93 L497.81,220.56 L499.18,220.19 L500.56,219.83 L501.94,219.47 L503.33,219.13 L504.73,218.79 L506.13,218.45 L507.54,218.13 L508.96,217.81 L510.38,217.50 L511.81,217.19 L513.25,216.89 L514.69,216.60 L516.13,216.31 L517.59,216.03 L519.05,215.76 L520.51,215.50 L521.99,215.24 L523.47,214.98 L524.95,214.73 L526.44,214.49 L527.94,214.26 L529.44,214.03 L530.95,213.80 L532.46,213.59 L533.99,213.38 L535.51,213.17" stroke="#2f62ea" stroke-width="1.0"/><path d="M389.20,281.00 L389.25,280.98 L389.34,280.92 L389.47,280.84 L389.63,280.74 L389.81,280.62 L390.02,280.48 L390.25,280.31 L390.50,280.13 L390.77,279.94 L391.06,279.72 L391.37,279.49 L391.69,279.25 L392.03,278.98 L392.39,278.71 L392.76,278.42 L393.15,278.12 L393.55,277.80 L393.97,277.47 L394.40,277.13 L394.84,276.78 L395.30,276.41 L395.77,276.03 L396.26,275.65 L396.75,275.25 L397.26,274.84 L397.78,274.42 L398.32,273.99 L398.87,273.56 L399.42,273.11 L399.99,272.66 L400.58,272.19 L401.17,271.72 L401.77,271.24 L402.39,270.76 L403.01,270.26 L403.65,269.76 L404.30,269.26 L404.96,268.74 L405.62,268.23 L406.30,267.70 L406.99,267.17 L407.69,266.64 L408.40,266.10 L409.12,265.55 L409.85,265.01 L410.59,264.45 L411.34,263.90 L412.10,263.34 L412.86,262.78 L413.64,262.21 L414.43,261.64 L415.22,261.07 L416.03,260.50 L416.84,259.91 L417.67,259.33 L418.50,258.74 L419.34,258.15 L420.19,257.55 L421.05,256.96 L421.92,256.36 L422.80,255.75 L423.68,255.15 L424.58,254.54 L425.48,253.93 L426.39,253.32 L427.31,252.71 L428.24,252.09 L429.17,251.48 L430.12,250.86 L431.07,250.25 L432.03,249.63 L433.00,249.02 L433.98,248.40 L434.97,247.79 L435.96,247.17 L436.96,246.56 L437.97,245.95 L438.99,245.34 L440.01,244.73 L441.05,244.12 L442.09,243.51 L443.14,242.91 L444.19,242.31 L445.26,241.71 L446.33,241.11 L447.41,240.52 L448.49,239.93 L449.59,239.34 L450.69,238.76 L451.80,238.17 L452.91,237.60 L454.04,237.03 L455.17,236.46 L456.31,235.89 L457.45,235.33 L458.61,234.78 L459.77,234.23 L460.94,233.68 L462.11,233.14 L463.29,232.61 L464.48,232.08 L465.68,231.55 L466.88,231.03 L468.09,230.52 L469.31,230.01 L470.53,229.51 L471.76,229.01 L473.00,228.52 L474.25,228.03 L475.50,227.55 L476.76,227.08 L478.02,226.62 L479.29,226.16 L480.57,225.70 L481.86,225.26 L483.15,224.82 L484.45,224.38 L485.76,223.95 L487.07,223.53 L488.39,223.12 L489.71,222.71 L491.05,222.31 L492.39,221.92 L493.73,221.53 L495.08,221.15 L496.44,220.78 L497.81,220.41 L499.18,220.05 L500.56,219.69 L501.94,219.35 L503.33,219.01 L504.73,218.67 L506.13,218.35 L507.54,218.03 L508.96,217.71 L510.38,217.41 L511.81,217.11 L513.25,216.81 L514.69,216.52 L516.13,216.24 L517.59,215.97 L519.05,215.70 L520.51,215.44 L521.99,215.18 L523.47,214.93 L524.95,214.69 L526.44,214.45 L527.94,214.22 L529.44,213.99 L530.95,213.77 L532.46,213.55 L533.99,213.34 L535.51,213.14 L537.05,212.94 L538.58,212.75 L540.13,212.56 L541.68,212.38 L543.24,212.20 L544.80,212.03" stroke="#33d944" stroke-width="1.1"/><path d="M389.20,281.00 L389.25,280.99 L389.34,280.98 L389.47,280.95 L389.63,280.91 L389.81,280.85 L390.02,280.79 L390.25,280.72 L390.50,280.63 L390.77,280.53 L391.06,280.43 L391.37,280.31 L391.69,280.18 L392.03,280.04 L392.39,279.89 L392.76,279.73 L393.15,279.56 L393.55,279.38 L393.97,279.19 L394.40,278.99 L394.84,278.78 L395.30,278.56 L395.77,278.33 L396.26,278.10 L396.75,277.85 L397.26,277.59 L397.78,277.32 L398.32,277.05 L398.87,276.76 L399.42,276.47 L399.99,276.17 L400.58,275.85 L401.17,275.54 L401.77,275.21 L402.39,274.87 L403.01,274.53 L403.65,274.18 L404.30,273.82 L404.96,273.45 L405.62,273.08 L406.30,272.70 L406.99,272.31 L407.69,271.91 L408.40,271.51 L409.12,271.10 L409.85,270.69 L410.59,270.27 L411.34,269.84 L412.10,269.41 L412.86,268.97 L413.64,268.52 L414.43,268.07 L415.22,267.62 L416.03,267.16 L416.84,266.69 L417.67,266.22 L418.50,265.74 L419.34,265.26 L420.19,264.77 L421.05,264.27 L421.92,263.78 L422.80,263.27 L423.68,262.77 L424.58,262.26 L425.48,261.74 L426.39,261.22 L427.31,260.70 L428.24,260.17 L429.17,259.64 L430.12,259.11 L431.07,258.58 L432.03,258.04 L433.00,257.50 L433.98,256.95 L434.97,256.41 L435.96,255.86 L436.96,255.31 L437.97,254.76 L438.99,254.20 L440.01,253.65 L441.05,253.09 L442.09,252.54 L443.14,251.98 L444.19,251.42 L445.26,250.86 L446.33,250.30 L447.41,249.74 L448.49,249.18 L449.59,248.63 L450.69,248.07 L451.80,247.51 L452.91,246.95 L454.04,246.40 L455.17,245.84 L456.31,245.29 L457.45,244.73 L458.61,244.18 L459.77,243.63 L460.94,243.08 L462.11,242.54 L463.29,241.99 L464.48,241.45 L465.68,240.91 L466.88,240.38 L468.09,239.84 L469.31,239.31 L470.53,238.78 L471.76,238.26 L473.00,237.74 L474.25,237.22 L475.50,236.70 L476.76,236.19 L478.02,235.68 L479.29,235.18 L480.57,234.68 L481.86,234.18 L483.15,233.69 L484.45,233.20 L485.76,232.72 L487.07,232.24 L488.39,231.77 L489.71,231.30 L491.05,230.83 L492.39,230.37 L493.73,229.91 L495.08,229.46 L496.44,229.02 L497.81,228.58 L499.18,228.14 L500.56,227.71 L501.94,227.28 L503.33,226.86 L504.73,226.45 L506.13,226.04 L507.54,225.63 L508.96,225.23 L510.38,224.84 L511.81,224.45 L513.25,224.07 L514.69,223.69 L516.13,223.32 L517.59,222.95 L519.05,222.59 L520.51,222.23 L521.99,221.88 L523.47,221.54 L524.95,221.20 L526.44,220.87 L527.94,220.54 L529.44,220.21 L530.95,219.90 L532.46,219.59 L533.99,219.28 L535.51,218.98 L537.05,218.68 L538.58,218.39 L540.13,218.11 L541.68,217.83 L543.24,217.56 L544.80,217.29" stroke="#f5c830" stroke-width="1.1"/><path d="M389.20,281.00 L389.25,280.99 L389.34,280.97 L389.47,280.93 L389.63,280.89 L389.81,280.83 L390.02,280.77 L390.25,280.70 L390.50,280.61 L390.77,280.52 L391.06,280.43 L391.37,280.32 L391.69,280.21 L392.03,280.09 L392.39,279.96 L392.76,279.82 L393.15,279.68 L393.55,279.53 L393.97,279.37 L394.40,279.21 L394.84,279.04 L395.30,278.87 L395.77,278.69 L396.26,278.50 L396.75,278.30 L397.26,278.10 L397.78,277.90 L398.32,277.69 L398.87,277.47 L399.42,277.25 L399.99,277.02 L400.58,276.79 L401.17,276.55 L401.77,276.31 L402.39,276.06 L403.01,275.81 L403.65,275.55 L404.30,275.29 L404.96,275.02 L405.62,274.75 L406.30,274.47 L406.99,274.19 L407.69,273.91 L408.40,273.62 L409.12,273.33 L409.85,273.03 L410.59,272.73 L411.34,272.42 L412.10,272.12 L412.86,271.80 L413.64,271.49 L414.43,271.17 L415.22,270.85 L416.03,270.52 L416.84,270.19 L417.67,269.85 L418.50,269.51 L419.34,269.17 L420.19,268.82 L421.05,268.47 L421.92,268.12 L422.80,267.76 L423.68,267.40 L424.58,267.03 L425.48,266.66 L426.39,266.29 L427.31,265.91 L428.24,265.53 L429.17,265.15 L430.12,264.76 L431.07,264.37 L432.03,263.98 L433.00,263.59 L433.98,263.19 L434.97,262.79 L435.96,262.38 L436.96,261.98 L437.97,261.57 L438.99,261.16 L440.01,260.75 L441.05,260.33 L442.09,259.91 L443.14,259.49 L444.19,259.07 L445.26,258.64 L446.33,258.22 L447.41,257.79 L448.49,257.36 L449.59,256.93 L450.69,256.50 L451.80,256.06 L452.91,255.63 L454.04,255.19 L455.17,254.75 L456.31,254.31 L457.45,253.87 L458.61,253.43 L459.77,252.99 L460.94,252.54 L462.11,252.10 L463.29,251.66 L464.48,251.21 L465.68,250.76 L466.88,250.32 L468.09,249.87 L469.31,249.42 L470.53,248.98 L471.76,248.53 L473.00,248.08 L474.25,247.64 L475.50,247.19 L476.76,246.74 L478.02,246.30 L479.29,245.85 L480.57,245.41 L481.86,244.96 L483.15,244.52 L484.45,244.07 L485.76,243.63 L487.07,243.19 L488.39,242.75 L489.71,242.31 L491.05,241.87 L492.39,241.43 L493.73,241.00 L495.08,240.56 L496.44,240.13 L497.81,239.70 L499.18,239.27 L500.56,238.84 L501.94,238.41 L503.33,237.98 L504.73,237.56 L506.13,237.14 L507.54,236.72 L508.96,236.30 L510.38,235.88 L511.81,235.47 L513.25,235.06 L514.69,234.65 L516.13,234.24 L517.59,233.83 L519.05,233.43 L520.51,233.03 L521.99,232.63 L523.47,232.24 L524.95,231.84 L526.44,231.45 L527.94,231.06 L529.44,230.68 L530.95,230.30 L532.46,229.92 L533.99,229.54 L535.51,229.16 L537.05,228.79 L538.58,228.43 L540.13,228.06 L541.68,227.70 L543.24,227.34 L544.80,226.98" stroke="#f06a3c" stroke-width="1.1"/></g><g fill="#000"><circle cx="393.87" cy="275.60" r="1.35"/><circle cx="398.43" cy="270.12" r="1.35"/><circle cx="404.35" cy="264.43" r="1.35"/><circle cx="412.85" cy="259.32" r="1.35"/><circle cx="422.71" cy="253.62" r="1.35"/><circle cx="432.66" cy="248.08" r="1.35"/><circle cx="442.93" cy="242.82" r="1.35"/><circle cx="452.68" cy="237.42" r="1.35"/><circle cx="465.44" cy="232.09" r="1.35"/><circle cx="480.28" cy="226.18" r="1.35"/><circle cx="495.42" cy="221.07" r="1.35"/><circle cx="515.96" cy="215.37" r="1.35"/><circle cx="540.13" cy="210.12" r="1.35"/></g><path d="M389.50,204.90 H544.50" fill="none" stroke="#bdbdbd" stroke-width="1.4"/><path d="M544.50,204.90 V281.50" fill="none" stroke="#a8a8a8" stroke-width="1.0"/><path d="M389.50,204.40 V281.50 H545.00" fill="none" stroke="#9a9a9a" stroke-width="1.0"/><path d="M387.60,281.00H389.50M388.20,273.70H389.50M387.60,266.40H389.50M388.20,259.10H389.50M387.60,251.80H389.50M388.20,244.50H389.50M387.60,237.20H389.50M388.20,229.90H389.50M387.60,222.60H389.50M388.20,215.30H389.50M387.60,208.00H389.50M389.20,281.50V283.40M402.17,281.50V282.80M415.13,281.50V283.40M428.10,281.50V282.80M441.07,281.50V283.40M454.03,281.50V282.80M467.00,281.50V283.40M479.97,281.50V282.80M492.93,281.50V283.40M505.90,281.50V282.80M518.87,281.50V283.40M531.83,281.50V282.80M544.80,281.50V283.40" stroke="#909090" stroke-width="0.7" fill="none"/><g font-size="3.9" fill="#222" style="stroke:#222;stroke-width:0.12px"><text x="386.50" y="282.40" text-anchor="end">0.0</text><text x="386.50" y="267.80" text-anchor="end">0.2</text><text x="386.50" y="253.20" text-anchor="end">0.4</text><text x="386.50" y="238.60" text-anchor="end">0.6</text><text x="386.50" y="224.00" text-anchor="end">0.8</text><text x="386.50" y="209.40" text-anchor="end">1.0</text><text x="389.20" y="287.00" text-anchor="middle">0</text><text x="415.13" y="287.00" text-anchor="middle">25</text><text x="441.07" y="287.00" text-anchor="middle">50</text><text x="467.00" y="287.00" text-anchor="middle">75</text><text x="492.93" y="287.00" text-anchor="middle">100</text><text x="518.87" y="287.00" text-anchor="middle">125</text><text x="544.80" y="287.00" text-anchor="middle">150</text></g><text x="467.60" y="291.30" text-anchor="middle" font-size="4.35" fill="#000">Time (min)</text><text transform="translate(377.30,240.80) rotate(-90)" text-anchor="middle" font-size="4.6" fill="#000">Conversion (X)</text><text x="384.40" y="202.00" font-size="6.3" text-anchor="middle" fill="#000">I</text><text x="389.70" y="202.00" font-size="5.0" fill="#000">T: 850 °C, H<tspan font-size="3.3" dy="1.0">2</tspan><tspan dy="-1.0">: 80 ccm, </tspan>CO: 20 ccm, N<tspan font-size="3.3" dy="1.0">2</tspan><tspan dy="-1.0">: 200 ccm, m: 4.59 g</tspan></text><rect x="509.80" y="237.80" width="33.6" height="41.8" fill="#fff" stroke="#c8c8c8" stroke-width="0.6"/><g font-size="4.7" fill="#000"><path d="M510.20,241.40h11.4" stroke="#8f52e6" stroke-width="1.4"/><text x="522.40" y="243.10">X-Pm</text><path d="M510.20,247.35h11.4" stroke="#4c80ea" stroke-width="1.4"/><text x="522.40" y="249.05">X-Ps</text><path d="M510.20,253.30h11.4" stroke="#4fe0f2" stroke-width="1.4"/><text x="522.40" y="255.00">X-PCO</text><path d="M510.20,259.25h11.4" stroke="#52dc58" stroke-width="1.4"/><text x="522.40" y="260.95">X-P(50%)</text><path d="M510.20,265.20h11.4" stroke="#f7d978" stroke-width="1.4"/><text x="522.40" y="266.90">X-P(10%)</text><path d="M510.20,271.15h11.4" stroke="#f29a7a" stroke-width="1.4"/><text x="522.40" y="272.85">X-P(5%)</text><circle cx="515.40" cy="277.10" r="1.35" fill="#000"/><text x="522.40" y="278.80">X-Exp 9</text></g></g>
<g><clipPath id="cJ"><rect x="19.40" y="301.60" width="155.60" height="76.20"/></clipPath><g clip-path="url(#cJ)" fill="none" stroke-width="1.3" stroke-linejoin="round"><path d="M19.40,377.80 L19.45,377.79 L19.54,377.75 L19.67,377.70 L19.83,377.63 L20.01,377.54 L20.22,377.43 L20.45,377.31 L20.70,377.17 L20.97,377.02 L21.26,376.85 L21.57,376.67 L21.89,376.47 L22.23,376.26 L22.59,376.03 L22.96,375.79 L23.35,375.54 L23.75,375.27 L24.17,374.99 L24.60,374.70 L25.04,374.39 L25.50,374.07 L25.97,373.74 L26.46,373.39 L26.95,373.03 L27.46,372.67 L27.98,372.28 L28.52,371.89 L29.07,371.49 L29.62,371.07 L30.19,370.64 L30.78,370.20 L31.37,369.76 L31.97,369.30 L32.59,368.83 L33.21,368.35 L33.85,367.86 L34.50,367.36 L35.16,366.85 L35.82,366.34 L36.50,365.81 L37.19,365.28 L37.89,364.73 L38.60,364.18 L39.32,363.63 L40.05,363.06 L40.79,362.49 L41.54,361.91 L42.30,361.32 L43.06,360.73 L43.84,360.13 L44.63,359.53 L45.42,358.92 L46.23,358.30 L47.04,357.68 L47.87,357.05 L48.70,356.42 L49.54,355.78 L50.39,355.14 L51.25,354.50 L52.12,353.85 L53.00,353.19 L53.88,352.53 L54.78,351.87 L55.68,351.21 L56.59,350.55 L57.51,349.88 L58.44,349.21 L59.37,348.54 L60.32,347.87 L61.27,347.19 L62.23,346.52 L63.20,345.85 L64.18,345.18 L65.17,344.50 L66.16,343.83 L67.16,343.16 L68.17,342.49 L69.19,341.82 L70.21,341.16 L71.25,340.49 L72.29,339.83 L73.34,339.18 L74.39,338.52 L75.46,337.87 L76.53,337.22 L77.61,336.58 L78.69,335.93 L79.79,335.30 L80.89,334.67 L82.00,334.04 L83.11,333.42 L84.24,332.80 L85.37,332.19 L86.51,331.58 L87.65,330.98 L88.81,330.39 L89.97,329.80 L91.14,329.22 L92.31,328.64 L93.49,328.07 L94.68,327.51 L95.88,326.95 L97.08,326.40 L98.29,325.86 L99.51,325.33 L100.73,324.80 L101.96,324.28 L103.20,323.76 L104.45,323.26 L105.70,322.76 L106.96,322.27 L108.22,321.78 L109.49,321.31 L110.77,320.84 L112.06,320.38 L113.35,319.93 L114.65,319.48 L115.96,319.04 L117.27,318.61 L118.59,318.19 L119.91,317.78 L121.25,317.37 L122.59,316.97 L123.93,316.58 L125.28,316.20 L126.64,315.82 L128.01,315.45 L129.38,315.09 L130.76,314.74 L132.14,314.39 L133.53,314.05 L134.93,313.72 L136.33,313.40 L137.74,313.08 L139.16,312.77 L140.58,312.47 L142.01,312.17 L143.45,311.88 L144.89,311.60 L146.33,311.32 L147.79,311.06 L149.25,310.79 L150.71,310.54 L152.19,310.29 L153.67,310.04" stroke="#30e0f0" stroke-width="1.0"/><path d="M19.40,377.80 L19.45,377.79 L19.54,377.75 L19.67,377.69 L19.83,377.61 L20.01,377.51 L20.22,377.40 L20.45,377.27 L20.70,377.12 L20.97,376.95 L21.26,376.77 L21.57,376.57 L21.89,376.36 L22.23,376.13 L22.59,375.89 L22.96,375.63 L23.35,375.35 L23.75,375.07 L24.17,374.77 L24.60,374.45 L25.04,374.12 L25.50,373.78 L25.97,373.43 L26.46,373.06 L26.95,372.68 L27.46,372.29 L27.98,371.89 L28.52,371.47 L29.07,371.04 L29.62,370.61 L30.19,370.16 L30.78,369.70 L31.37,369.23 L31.97,368.75 L32.59,368.26 L33.21,367.76 L33.85,367.26 L34.50,366.74 L35.16,366.21 L35.82,365.68 L36.50,365.14 L37.19,364.59 L37.89,364.03 L38.60,363.47 L39.32,362.90 L40.05,362.32 L40.79,361.74 L41.54,361.15 L42.30,360.56 L43.06,359.96 L43.84,359.35 L44.63,358.74 L45.42,358.12 L46.23,357.50 L47.04,356.88 L47.87,356.25 L48.70,355.61 L49.54,354.97 L50.39,354.33 L51.25,353.68 L52.12,353.04 L53.00,352.38 L53.88,351.73 L54.78,351.07 L55.68,350.41 L56.59,349.75 L57.51,349.09 L58.44,348.43 L59.37,347.77 L60.32,347.10 L61.27,346.44 L62.23,345.78 L63.20,345.11 L64.18,344.45 L65.17,343.79 L66.16,343.13 L67.16,342.47 L68.17,341.81 L69.19,341.16 L70.21,340.50 L71.25,339.85 L72.29,339.21 L73.34,338.56 L74.39,337.92 L75.46,337.28 L76.53,336.65 L77.61,336.02 L78.69,335.39 L79.79,334.77 L80.89,334.15 L82.00,333.54 L83.11,332.93 L84.24,332.33 L85.37,331.73 L86.51,331.14 L87.65,330.55 L88.81,329.97 L89.97,329.40 L91.14,328.83 L92.31,328.27 L93.49,327.71 L94.68,327.16 L95.88,326.62 L97.08,326.08 L98.29,325.55 L99.51,325.03 L100.73,324.51 L101.96,324.01 L103.20,323.50 L104.45,323.01 L105.70,322.52 L106.96,322.04 L108.22,321.57 L109.49,321.10 L110.77,320.64 L112.06,320.19 L113.35,319.75 L114.65,319.31 L115.96,318.88 L117.27,318.46 L118.59,318.05 L119.91,317.64 L121.25,317.24 L122.59,316.85 L123.93,316.47 L125.28,316.09 L126.64,315.72 L128.01,315.36 L129.38,315.00 L130.76,314.65 L132.14,314.31 L133.53,313.98 L134.93,313.65 L136.33,313.33 L137.74,313.02 L139.16,312.71 L140.58,312.41 L142.01,312.12 L143.45,311.84 L144.89,311.56 L146.33,311.29 L147.79,311.02 L149.25,310.76 L150.71,310.51 L152.19,310.26 L153.67,310.02" stroke="#9b40e8" stroke-width="1.0"/><path d="M19.40,377.80 L19.45,377.79 L19.54,377.75 L19.67,377.69 L19.83,377.61 L20.01,377.51 L20.22,377.40 L20.45,377.27 L20.70,377.12 L20.97,376.95 L21.26,376.77 L21.57,376.57 L21.89,376.36 L22.23,376.13 L22.59,375.89 L22.96,375.63 L23.35,375.35 L23.75,375.07 L24.17,374.77 L24.60,374.45 L25.04,374.12 L25.50,373.78 L25.97,373.43 L26.46,373.06 L26.95,372.68 L27.46,372.29 L27.98,371.89 L28.52,371.47 L29.07,371.04 L29.62,370.61 L30.19,370.16 L30.78,369.70 L31.37,369.23 L31.97,368.75 L32.59,368.26 L33.21,367.76 L33.85,367.26 L34.50,366.74 L35.16,366.21 L35.82,365.68 L36.50,365.14 L37.19,364.59 L37.89,364.03 L38.60,363.47 L39.32,362.90 L40.05,362.32 L40.79,361.74 L41.54,361.15 L42.30,360.56 L43.06,359.96 L43.84,359.35 L44.63,358.74 L45.42,358.12 L46.23,357.50 L47.04,356.88 L47.87,356.25 L48.70,355.61 L49.54,354.97 L50.39,354.33 L51.25,353.68 L52.12,353.04 L53.00,352.38 L53.88,351.73 L54.78,351.07 L55.68,350.41 L56.59,349.75 L57.51,349.09 L58.44,348.43 L59.37,347.77 L60.32,347.10 L61.27,346.44 L62.23,345.78 L63.20,345.11 L64.18,344.45 L65.17,343.79 L66.16,343.13 L67.16,342.47 L68.17,341.81 L69.19,341.16 L70.21,340.50 L71.25,339.85 L72.29,339.21 L73.34,338.56 L74.39,337.92 L75.46,337.28 L76.53,336.65 L77.61,336.02 L78.69,335.39 L79.79,334.77 L80.89,334.15 L82.00,333.54 L83.11,332.93 L84.24,332.33 L85.37,331.73 L86.51,331.14 L87.65,330.55 L88.81,329.97 L89.97,329.40 L91.14,328.83 L92.31,328.27 L93.49,327.71 L94.68,327.16 L95.88,326.62 L97.08,326.08 L98.29,325.55 L99.51,325.03 L100.73,324.51 L101.96,324.01 L103.20,323.50 L104.45,323.01 L105.70,322.52 L106.96,322.04 L108.22,321.57 L109.49,321.10 L110.77,320.64 L112.06,320.19 L113.35,319.75 L114.65,319.31 L115.96,318.88 L117.27,318.46 L118.59,318.05 L119.91,317.64 L121.25,317.24 L122.59,316.85 L123.93,316.47 L125.28,316.09 L126.64,315.72 L128.01,315.36 L129.38,315.00 L130.76,314.65 L132.14,314.31 L133.53,313.98 L134.93,313.65 L136.33,313.33 L137.74,313.02 L139.16,312.71 L140.58,312.41 L142.01,312.12 L143.45,311.84 L144.89,311.56 L146.33,311.29 L147.79,311.02 L149.25,310.76 L150.71,310.51 L152.19,310.26 L153.67,310.02" stroke="#2f62ea" stroke-width="1.0"/><path d="M19.40,377.80 L19.45,377.78 L19.54,377.74 L19.67,377.68 L19.83,377.59 L20.01,377.49 L20.22,377.36 L20.45,377.22 L20.70,377.06 L20.97,376.88 L21.26,376.68 L21.57,376.46 L21.89,376.23 L22.23,375.98 L22.59,375.72 L22.96,375.44 L23.35,375.14 L23.75,374.84 L24.17,374.51 L24.60,374.17 L25.04,373.82 L25.50,373.45 L25.97,373.08 L26.46,372.68 L26.95,372.28 L27.46,371.86 L27.98,371.44 L28.52,371.00 L29.07,370.54 L29.62,370.08 L30.19,369.61 L30.78,369.13 L31.37,368.63 L31.97,368.13 L32.59,367.62 L33.21,367.10 L33.85,366.57 L34.50,366.04 L35.16,365.49 L35.82,364.94 L36.50,364.38 L37.19,363.81 L37.89,363.24 L38.60,362.66 L39.32,362.08 L40.05,361.49 L40.79,360.89 L41.54,360.29 L42.30,359.68 L43.06,359.08 L43.84,358.46 L44.63,357.84 L45.42,357.22 L46.23,356.60 L47.04,355.97 L47.87,355.33 L48.70,354.69 L49.54,354.05 L50.39,353.41 L51.25,352.77 L52.12,352.12 L53.00,351.47 L53.88,350.82 L54.78,350.17 L55.68,349.51 L56.59,348.86 L57.51,348.20 L58.44,347.55 L59.37,346.89 L60.32,346.24 L61.27,345.59 L62.23,344.93 L63.20,344.28 L64.18,343.63 L65.17,342.98 L66.16,342.33 L67.16,341.69 L68.17,341.04 L69.19,340.40 L70.21,339.76 L71.25,339.13 L72.29,338.49 L73.34,337.86 L74.39,337.24 L75.46,336.62 L76.53,336.00 L77.61,335.38 L78.69,334.77 L79.79,334.17 L80.89,333.57 L82.00,332.97 L83.11,332.38 L84.24,331.79 L85.37,331.21 L86.51,330.64 L87.65,330.07 L88.81,329.50 L89.97,328.94 L91.14,328.39 L92.31,327.85 L93.49,327.30 L94.68,326.77 L95.88,326.24 L97.08,325.72 L98.29,325.20 L99.51,324.70 L100.73,324.19 L101.96,323.70 L103.20,323.21 L104.45,322.73 L105.70,322.25 L106.96,321.78 L108.22,321.32 L109.49,320.87 L110.77,320.42 L112.06,319.98 L113.35,319.55 L114.65,319.12 L115.96,318.70 L117.27,318.29 L118.59,317.88 L119.91,317.49 L121.25,317.10 L122.59,316.71 L123.93,316.34 L125.28,315.97 L126.64,315.60 L128.01,315.25 L129.38,314.90 L130.76,314.56 L132.14,314.22 L133.53,313.89 L134.93,313.57 L136.33,313.26 L137.74,312.95 L139.16,312.65 L140.58,312.35 L142.01,312.07 L143.45,311.79 L144.89,311.51 L146.33,311.24 L147.79,310.98 L149.25,310.72 L150.71,310.47 L152.19,310.23 L153.67,309.99 L155.15,309.76 L156.64,309.53 L158.14,309.31 L159.64,309.09 L161.15,308.88 L162.66,308.68 L164.19,308.48 L165.71,308.29 L167.25,308.10 L168.78,307.92 L170.33,307.74 L171.88,307.56 L173.44,307.40 L175.00,307.23" stroke="#33d944" stroke-width="1.1"/><path d="M19.40,377.80 L19.45,377.79 L19.54,377.78 L19.67,377.74 L19.83,377.70 L20.01,377.65 L20.22,377.58 L20.45,377.51 L20.70,377.42 L20.97,377.32 L21.26,377.21 L21.57,377.08 L21.89,376.95 L22.23,376.81 L22.59,376.65 L22.96,376.49 L23.35,376.31 L23.75,376.12 L24.17,375.92 L24.60,375.71 L25.04,375.49 L25.50,375.26 L25.97,375.02 L26.46,374.77 L26.95,374.52 L27.46,374.25 L27.98,373.97 L28.52,373.68 L29.07,373.38 L29.62,373.07 L30.19,372.76 L30.78,372.43 L31.37,372.10 L31.97,371.76 L32.59,371.41 L33.21,371.05 L33.85,370.68 L34.50,370.30 L35.16,369.92 L35.82,369.53 L36.50,369.13 L37.19,368.73 L37.89,368.31 L38.60,367.89 L39.32,367.47 L40.05,367.03 L40.79,366.59 L41.54,366.15 L42.30,365.70 L43.06,365.24 L43.84,364.78 L44.63,364.31 L45.42,363.83 L46.23,363.35 L47.04,362.86 L47.87,362.37 L48.70,361.86 L49.54,361.36 L50.39,360.84 L51.25,360.33 L52.12,359.80 L53.00,359.27 L53.88,358.74 L54.78,358.20 L55.68,357.65 L56.59,357.11 L57.51,356.55 L58.44,356.00 L59.37,355.43 L60.32,354.87 L61.27,354.30 L62.23,353.73 L63.20,353.15 L64.18,352.58 L65.17,352.00 L66.16,351.41 L67.16,350.83 L68.17,350.24 L69.19,349.65 L70.21,349.06 L71.25,348.47 L72.29,347.87 L73.34,347.28 L74.39,346.68 L75.46,346.09 L76.53,345.49 L77.61,344.89 L78.69,344.30 L79.79,343.70 L80.89,343.10 L82.00,342.51 L83.11,341.91 L84.24,341.32 L85.37,340.73 L86.51,340.14 L87.65,339.55 L88.81,338.96 L89.97,338.38 L91.14,337.80 L92.31,337.22 L93.49,336.64 L94.68,336.06 L95.88,335.49 L97.08,334.93 L98.29,334.36 L99.51,333.80 L100.73,333.24 L101.96,332.69 L103.20,332.14 L104.45,331.59 L105.70,331.05 L106.96,330.52 L108.22,329.98 L109.49,329.46 L110.77,328.94 L112.06,328.42 L113.35,327.91 L114.65,327.40 L115.96,326.90 L117.27,326.40 L118.59,325.91 L119.91,325.43 L121.25,324.95 L122.59,324.48 L123.93,324.01 L125.28,323.55 L126.64,323.10 L128.01,322.65 L129.38,322.21 L130.76,321.78 L132.14,321.35 L133.53,320.93 L134.93,320.51 L136.33,320.10 L137.74,319.70 L139.16,319.30 L140.58,318.91 L142.01,318.53 L143.45,318.15 L144.89,317.79 L146.33,317.42 L147.79,317.07 L149.25,316.72 L150.71,316.38 L152.19,316.04 L153.67,315.71 L155.15,315.39 L156.64,315.07 L158.14,314.76 L159.64,314.46 L161.15,314.17 L162.66,313.88 L164.19,313.59 L165.71,313.32 L167.25,313.05 L168.78,312.78 L170.33,312.52 L171.88,312.27 L173.44,312.03 L175.00,311.79" stroke="#f5c830" stroke-width="1.1"/><path d="M19.40,377.80 L19.45,377.79 L19.54,377.77 L19.67,377.74 L19.83,377.71 L20.01,377.66 L20.22,377.60 L20.45,377.53 L20.70,377.45 L20.97,377.37 L21.26,377.28 L21.57,377.18 L21.89,377.07 L22.23,376.95 L22.59,376.82 L22.96,376.69 L23.35,376.55 L23.75,376.40 L24.17,376.25 L24.60,376.08 L25.04,375.91 L25.50,375.74 L25.97,375.55 L26.46,375.36 L26.95,375.16 L27.46,374.96 L27.98,374.75 L28.52,374.53 L29.07,374.30 L29.62,374.07 L30.19,373.84 L30.78,373.59 L31.37,373.34 L31.97,373.09 L32.59,372.83 L33.21,372.56 L33.85,372.29 L34.50,372.01 L35.16,371.73 L35.82,371.44 L36.50,371.15 L37.19,370.85 L37.89,370.54 L38.60,370.23 L39.32,369.92 L40.05,369.60 L40.79,369.28 L41.54,368.95 L42.30,368.62 L43.06,368.28 L43.84,367.94 L44.63,367.60 L45.42,367.25 L46.23,366.89 L47.04,366.53 L47.87,366.17 L48.70,365.80 L49.54,365.43 L50.39,365.05 L51.25,364.67 L52.12,364.28 L53.00,363.89 L53.88,363.50 L54.78,363.10 L55.68,362.70 L56.59,362.29 L57.51,361.89 L58.44,361.47 L59.37,361.06 L60.32,360.64 L61.27,360.22 L62.23,359.79 L63.20,359.36 L64.18,358.93 L65.17,358.49 L66.16,358.06 L67.16,357.61 L68.17,357.17 L69.19,356.73 L70.21,356.28 L71.25,355.83 L72.29,355.38 L73.34,354.92 L74.39,354.46 L75.46,354.01 L76.53,353.55 L77.61,353.08 L78.69,352.62 L79.79,352.15 L80.89,351.69 L82.00,351.22 L83.11,350.75 L84.24,350.28 L85.37,349.81 L86.51,349.34 L87.65,348.86 L88.81,348.39 L89.97,347.92 L91.14,347.44 L92.31,346.97 L93.49,346.49 L94.68,346.02 L95.88,345.54 L97.08,345.06 L98.29,344.59 L99.51,344.11 L100.73,343.64 L101.96,343.16 L103.20,342.69 L104.45,342.22 L105.70,341.74 L106.96,341.27 L108.22,340.80 L109.49,340.33 L110.77,339.86 L112.06,339.39 L113.35,338.93 L114.65,338.46 L115.96,338.00 L117.27,337.53 L118.59,337.07 L119.91,336.61 L121.25,336.16 L122.59,335.70 L123.93,335.25 L125.28,334.79 L126.64,334.34 L128.01,333.90 L129.38,333.45 L130.76,333.01 L132.14,332.57 L133.53,332.13 L134.93,331.69 L136.33,331.26 L137.74,330.83 L139.16,330.40 L140.58,329.97 L142.01,329.55 L143.45,329.13 L144.89,328.71 L146.33,328.30 L147.79,327.89 L149.25,327.48 L150.71,327.07 L152.19,326.67 L153.67,326.27 L155.15,325.88 L156.64,325.48 L158.14,325.10 L159.64,324.71 L161.15,324.33 L162.66,323.95 L164.19,323.57 L165.71,323.20 L167.25,322.83 L168.78,322.47 L170.33,322.11 L171.88,321.75 L173.44,321.40 L175.00,321.05" stroke="#f06a3c" stroke-width="1.1"/></g><g fill="#000"><circle cx="21.89" cy="372.98" r="1.35"/><circle cx="26.51" cy="367.73" r="1.35"/><circle cx="31.40" cy="362.40" r="1.35"/><circle cx="39.23" cy="357.29" r="1.35"/><circle cx="48.83" cy="352.03" r="1.35"/><circle cx="59.23" cy="346.70" r="1.35"/><circle cx="69.37" cy="341.23" r="1.35"/><circle cx="80.84" cy="335.90" r="1.35"/><circle cx="91.87" cy="330.79" r="1.35"/><circle cx="104.85" cy="325.53" r="1.35"/><circle cx="119.07" cy="319.98" r="1.35"/><circle cx="137.21" cy="314.87" r="1.35"/><circle cx="157.22" cy="309.47" r="1.35"/></g><path d="M19.50,301.40 H175.50" fill="none" stroke="#bdbdbd" stroke-width="1.4"/><path d="M175.50,301.40 V378.50" fill="none" stroke="#a8a8a8" stroke-width="1.0"/><path d="M19.50,300.90 V378.50 H176.00" fill="none" stroke="#9a9a9a" stroke-width="1.0"/><path d="M17.60,377.80H19.50M18.20,370.50H19.50M17.60,363.20H19.50M18.20,355.90H19.50M17.60,348.60H19.50M18.20,341.30H19.50M17.60,334.00H19.50M18.20,326.70H19.50M17.60,319.40H19.50M18.20,312.10H19.50M17.60,304.80H19.50M19.40,378.50V380.40M30.51,378.50V379.80M41.63,378.50V380.40M52.74,378.50V379.80M63.86,378.50V380.40M74.97,378.50V379.80M86.09,378.50V380.40M97.20,378.50V379.80M108.31,378.50V380.40M119.43,378.50V379.80M130.54,378.50V380.40M141.66,378.50V379.80M152.77,378.50V380.40M163.89,378.50V379.80M175.00,378.50V380.40" stroke="#909090" stroke-width="0.7" fill="none"/><g font-size="3.9" fill="#222" style="stroke:#222;stroke-width:0.12px"><text x="16.70" y="379.20" text-anchor="end">0.0</text><text x="16.70" y="364.60" text-anchor="end">0.2</text><text x="16.70" y="350.00" text-anchor="end">0.4</text><text x="16.70" y="335.40" text-anchor="end">0.6</text><text x="16.70" y="320.80" text-anchor="end">0.8</text><text x="16.70" y="306.20" text-anchor="end">1.0</text><text x="19.40" y="383.80" text-anchor="middle">0</text><text x="41.63" y="383.80" text-anchor="middle">25</text><text x="63.86" y="383.80" text-anchor="middle">50</text><text x="86.09" y="383.80" text-anchor="middle">75</text><text x="108.31" y="383.80" text-anchor="middle">100</text><text x="130.54" y="383.80" text-anchor="middle">125</text><text x="152.77" y="383.80" text-anchor="middle">150</text><text x="175.00" y="383.80" text-anchor="middle">175</text></g><text x="97.80" y="388.10" text-anchor="middle" font-size="4.35" fill="#000">Time (min)</text><text transform="translate(7.50,337.60) rotate(-90)" text-anchor="middle" font-size="4.6" fill="#000">Conversion (X)</text><text x="14.60" y="298.80" font-size="6.3" text-anchor="middle" fill="#000">J</text><text x="19.90" y="298.80" font-size="5.0" fill="#000">T: 850 °C, H<tspan font-size="3.3" dy="1.0">2</tspan><tspan dy="-1.0">: 75 ccm, </tspan>CO: 18 ccm, N<tspan font-size="3.3" dy="1.0">2</tspan><tspan dy="-1.0">: 200 ccm, m: 4.76 g</tspan></text><rect x="140.00" y="334.60" width="33.6" height="41.8" fill="#fff" stroke="#c8c8c8" stroke-width="0.6"/><g font-size="4.7" fill="#000"><path d="M140.40,338.20h11.4" stroke="#8f52e6" stroke-width="1.4"/><text x="152.60" y="339.90">X-Pm</text><path d="M140.40,344.15h11.4" stroke="#4c80ea" stroke-width="1.4"/><text x="152.60" y="345.85">X-Ps</text><path d="M140.40,350.10h11.4" stroke="#4fe0f2" stroke-width="1.4"/><text x="152.60" y="351.80">X-PCO</text><path d="M140.40,356.05h11.4" stroke="#52dc58" stroke-width="1.4"/><text x="152.60" y="357.75">X-P(50%)</text><path d="M140.40,362.00h11.4" stroke="#f7d978" stroke-width="1.4"/><text x="152.60" y="363.70">X-P(10%)</text><path d="M140.40,367.95h11.4" stroke="#f29a7a" stroke-width="1.4"/><text x="152.60" y="369.65">X-P(5%)</text><circle cx="145.60" cy="373.90" r="1.35" fill="#000"/><text x="152.60" y="375.60">X-Exp 10</text></g></g>
<g><clipPath id="cK"><rect x="204.30" y="301.60" width="155.60" height="76.20"/></clipPath><g clip-path="url(#cK)" fill="none" stroke-width="1.3" stroke-linejoin="round"><path d="M204.30,377.80 L204.35,377.79 L204.44,377.75 L204.57,377.70 L204.73,377.62 L204.91,377.53 L205.12,377.42 L205.35,377.29 L205.60,377.14 L205.87,376.97 L206.16,376.79 L206.47,376.59 L206.79,376.37 L207.13,376.14 L207.49,375.89 L207.86,375.62 L208.25,375.34 L208.65,375.04 L209.07,374.73 L209.50,374.40 L209.94,374.06 L210.40,373.70 L210.87,373.32 L211.36,372.94 L211.85,372.53 L212.36,372.12 L212.88,371.68 L213.42,371.24 L213.97,370.78 L214.52,370.31 L215.09,369.82 L215.68,369.33 L216.27,368.82 L216.87,368.29 L217.49,367.76 L218.11,367.21 L218.75,366.66 L219.40,366.09 L220.06,365.51 L220.72,364.92 L221.40,364.32 L222.09,363.71 L222.79,363.10 L223.50,362.47 L224.22,361.83 L224.95,361.19 L225.69,360.54 L226.44,359.88 L227.20,359.21 L227.96,358.54 L228.74,357.86 L229.53,357.18 L230.32,356.49 L231.13,355.79 L231.94,355.09 L232.77,354.39 L233.60,353.68 L234.44,352.97 L235.29,352.26 L236.15,351.54 L237.02,350.82 L237.90,350.10 L238.78,349.38 L239.68,348.66 L240.58,347.93 L241.49,347.21 L242.41,346.49 L243.34,345.76 L244.27,345.04 L245.22,344.32 L246.17,343.60 L247.13,342.89 L248.10,342.17 L249.08,341.46 L250.07,340.75 L251.06,340.05 L252.06,339.35 L253.07,338.65 L254.09,337.96 L255.11,337.27 L256.15,336.58 L257.19,335.91 L258.24,335.23 L259.29,334.57 L260.36,333.90 L261.43,333.25 L262.51,332.60 L263.59,331.96 L264.69,331.32 L265.79,330.69 L266.90,330.07 L268.01,329.46 L269.14,328.85 L270.27,328.25 L271.41,327.66 L272.55,327.08 L273.71,326.50 L274.87,325.93 L276.04,325.37 L277.21,324.82 L278.39,324.28 L279.58,323.74 L280.78,323.22 L281.98,322.70 L283.19,322.19 L284.41,321.69 L285.63,321.19 L286.86,320.71 L288.10,320.23 L289.35,319.77 L290.60,319.31 L291.86,318.86 L293.12,318.42 L294.39,317.98 L295.67,317.56 L296.96,317.14 L298.25,316.73 L299.55,316.33 L300.86,315.94 L302.17,315.56 L303.49,315.18 L304.81,314.81 L306.15,314.46 L307.49,314.10 L308.83,313.76 L310.18,313.42 L311.54,313.10 L312.91,312.78 L314.28,312.46 L315.66,312.16 L317.04,311.86 L318.43,311.57 L319.83,311.28 L321.23,311.01 L322.64,310.74 L324.06,310.47 L325.48,310.22 L326.91,309.96" stroke="#30e0f0" stroke-width="1.0"/><path d="M204.30,377.80 L204.35,377.79 L204.44,377.75 L204.57,377.69 L204.73,377.61 L204.91,377.50 L205.12,377.38 L205.35,377.24 L205.60,377.08 L205.87,376.90 L206.16,376.70 L206.47,376.49 L206.79,376.25 L207.13,376.00 L207.49,375.73 L207.86,375.44 L208.25,375.14 L208.65,374.82 L209.07,374.49 L209.50,374.14 L209.94,373.77 L210.40,373.39 L210.87,372.99 L211.36,372.58 L211.85,372.15 L212.36,371.71 L212.88,371.25 L213.42,370.78 L213.97,370.30 L214.52,369.81 L215.09,369.30 L215.68,368.78 L216.27,368.25 L216.87,367.71 L217.49,367.15 L218.11,366.59 L218.75,366.01 L219.40,365.43 L220.06,364.83 L220.72,364.23 L221.40,363.61 L222.09,362.99 L222.79,362.36 L223.50,361.72 L224.22,361.07 L224.95,360.42 L225.69,359.76 L226.44,359.09 L227.20,358.42 L227.96,357.74 L228.74,357.06 L229.53,356.37 L230.32,355.68 L231.13,354.98 L231.94,354.28 L232.77,353.58 L233.60,352.87 L234.44,352.17 L235.29,351.46 L236.15,350.74 L237.02,350.03 L237.90,349.32 L238.78,348.60 L239.68,347.89 L240.58,347.17 L241.49,346.46 L242.41,345.74 L243.34,345.03 L244.27,344.32 L245.22,343.61 L246.17,342.90 L247.13,342.20 L248.10,341.50 L249.08,340.80 L250.07,340.11 L251.06,339.42 L252.06,338.73 L253.07,338.05 L254.09,337.37 L255.11,336.69 L256.15,336.03 L257.19,335.36 L258.24,334.71 L259.29,334.05 L260.36,333.41 L261.43,332.77 L262.51,332.13 L263.59,331.51 L264.69,330.89 L265.79,330.27 L266.90,329.67 L268.01,329.07 L269.14,328.47 L270.27,327.89 L271.41,327.31 L272.55,326.74 L273.71,326.18 L274.87,325.62 L276.04,325.08 L277.21,324.54 L278.39,324.01 L279.58,323.48 L280.78,322.97 L281.98,322.46 L283.19,321.96 L284.41,321.47 L285.63,320.99 L286.86,320.52 L288.10,320.05 L289.35,319.59 L290.60,319.14 L291.86,318.70 L293.12,318.27 L294.39,317.84 L295.67,317.42 L296.96,317.02 L298.25,316.61 L299.55,316.22 L300.86,315.84 L302.17,315.46 L303.49,315.09 L304.81,314.73 L306.15,314.38 L307.49,314.03 L308.83,313.69 L310.18,313.36 L311.54,313.04 L312.91,312.72 L314.28,312.41 L315.66,312.11 L317.04,311.81 L318.43,311.53 L319.83,311.24 L321.23,310.97 L322.64,310.70 L324.06,310.44 L325.48,310.19 L326.91,309.94" stroke="#9b40e8" stroke-width="1.0"/><path d="M204.30,377.80 L204.35,377.79 L204.44,377.75 L204.57,377.69 L204.73,377.61 L204.91,377.50 L205.12,377.38 L205.35,377.24 L205.60,377.08 L205.87,376.90 L206.16,376.70 L206.47,376.49 L206.79,376.25 L207.13,376.00 L207.49,375.73 L207.86,375.44 L208.25,375.14 L208.65,374.82 L209.07,374.49 L209.50,374.14 L209.94,373.77 L210.40,373.39 L210.87,372.99 L211.36,372.58 L211.85,372.15 L212.36,371.71 L212.88,371.25 L213.42,370.78 L213.97,370.30 L214.52,369.81 L215.09,369.30 L215.68,368.78 L216.27,368.25 L216.87,367.71 L217.49,367.15 L218.11,366.59 L218.75,366.01 L219.40,365.43 L220.06,364.83 L220.72,364.23 L221.40,363.61 L222.09,362.99 L222.79,362.36 L223.50,361.72 L224.22,361.07 L224.95,360.42 L225.69,359.76 L226.44,359.09 L227.20,358.42 L227.96,357.74 L228.74,357.06 L229.53,356.37 L230.32,355.68 L231.13,354.98 L231.94,354.28 L232.77,353.58 L233.60,352.87 L234.44,352.17 L235.29,351.46 L236.15,350.74 L237.02,350.03 L237.90,349.32 L238.78,348.60 L239.68,347.89 L240.58,347.17 L241.49,346.46 L242.41,345.74 L243.34,345.03 L244.27,344.32 L245.22,343.61 L246.17,342.90 L247.13,342.20 L248.10,341.50 L249.08,340.80 L250.07,340.11 L251.06,339.42 L252.06,338.73 L253.07,338.05 L254.09,337.37 L255.11,336.69 L256.15,336.03 L257.19,335.36 L258.24,334.71 L259.29,334.05 L260.36,333.41 L261.43,332.77 L262.51,332.13 L263.59,331.51 L264.69,330.89 L265.79,330.27 L266.90,329.67 L268.01,329.07 L269.14,328.47 L270.27,327.89 L271.41,327.31 L272.55,326.74 L273.71,326.18 L274.87,325.62 L276.04,325.08 L277.21,324.54 L278.39,324.01 L279.58,323.48 L280.78,322.97 L281.98,322.46 L283.19,321.96 L284.41,321.47 L285.63,320.99 L286.86,320.52 L288.10,320.05 L289.35,319.59 L290.60,319.14 L291.86,318.70 L293.12,318.27 L294.39,317.84 L295.67,317.42 L296.96,317.02 L298.25,316.61 L299.55,316.22 L300.86,315.84 L302.17,315.46 L303.49,315.09 L304.81,314.73 L306.15,314.38 L307.49,314.03 L308.83,313.69 L310.18,313.36 L311.54,313.04 L312.91,312.72 L314.28,312.41 L315.66,312.11 L317.04,311.81 L318.43,311.53 L319.83,311.24 L321.23,310.97 L322.64,310.70 L324.06,310.44 L325.48,310.19 L326.91,309.94" stroke="#2f62ea" stroke-width="1.0"/><path d="M204.30,377.80 L204.35,377.78 L204.44,377.74 L204.57,377.68 L204.73,377.59 L204.91,377.48 L205.12,377.34 L205.35,377.19 L205.60,377.01 L205.87,376.82 L206.16,376.60 L206.47,376.37 L206.79,376.11 L207.13,375.84 L207.49,375.55 L207.86,375.24 L208.25,374.92 L208.65,374.57 L209.07,374.21 L209.50,373.83 L209.94,373.44 L210.40,373.03 L210.87,372.61 L211.36,372.17 L211.85,371.71 L212.36,371.25 L212.88,370.76 L213.42,370.27 L213.97,369.76 L214.52,369.24 L215.09,368.71 L215.68,368.16 L216.27,367.61 L216.87,367.04 L217.49,366.47 L218.11,365.88 L218.75,365.28 L219.40,364.68 L220.06,364.06 L220.72,363.44 L221.40,362.81 L222.09,362.17 L222.79,361.52 L223.50,360.87 L224.22,360.21 L224.95,359.55 L225.69,358.88 L226.44,358.20 L227.20,357.52 L227.96,356.84 L228.74,356.15 L229.53,355.46 L230.32,354.76 L231.13,354.06 L231.94,353.36 L232.77,352.66 L233.60,351.96 L234.44,351.25 L235.29,350.55 L236.15,349.84 L237.02,349.13 L237.90,348.42 L238.78,347.72 L239.68,347.01 L240.58,346.31 L241.49,345.60 L242.41,344.90 L243.34,344.20 L244.27,343.50 L245.22,342.80 L246.17,342.11 L247.13,341.42 L248.10,340.74 L249.08,340.05 L250.07,339.37 L251.06,338.70 L252.06,338.03 L253.07,337.36 L254.09,336.70 L255.11,336.04 L256.15,335.39 L257.19,334.75 L258.24,334.11 L259.29,333.47 L260.36,332.84 L261.43,332.22 L262.51,331.60 L263.59,330.99 L264.69,330.39 L265.79,329.79 L266.90,329.20 L268.01,328.62 L269.14,328.04 L270.27,327.48 L271.41,326.91 L272.55,326.36 L273.71,325.81 L274.87,325.27 L276.04,324.74 L277.21,324.22 L278.39,323.70 L279.58,323.19 L280.78,322.69 L281.98,322.19 L283.19,321.71 L284.41,321.23 L285.63,320.76 L286.86,320.30 L288.10,319.84 L289.35,319.39 L290.60,318.95 L291.86,318.52 L293.12,318.10 L294.39,317.68 L295.67,317.27 L296.96,316.87 L298.25,316.48 L299.55,316.10 L300.86,315.72 L302.17,315.35 L303.49,314.99 L304.81,314.63 L306.15,314.28 L307.49,313.94 L308.83,313.61 L310.18,313.29 L311.54,312.97 L312.91,312.66 L314.28,312.35 L315.66,312.05 L317.04,311.76 L318.43,311.48 L319.83,311.20 L321.23,310.93 L322.64,310.67 L324.06,310.41 L325.48,310.16 L326.91,309.91 L328.35,309.67 L329.79,309.44 L331.23,309.21 L332.69,308.99 L334.15,308.78 L335.61,308.57 L337.09,308.36 L338.57,308.16 L340.05,307.97 L341.54,307.78 L343.04,307.60 L344.54,307.42 L346.05,307.25 L347.56,307.08 L349.09,306.92 L350.61,306.76 L352.15,306.61 L353.68,306.46 L355.23,306.31 L356.78,306.17 L358.34,306.03 L359.90,305.90" stroke="#33d944" stroke-width="1.1"/><path d="M204.30,377.80 L204.35,377.79 L204.44,377.78 L204.57,377.75 L204.73,377.71 L204.91,377.65 L205.12,377.59 L205.35,377.51 L205.60,377.42 L205.87,377.31 L206.16,377.20 L206.47,377.07 L206.79,376.93 L207.13,376.77 L207.49,376.61 L207.86,376.43 L208.25,376.24 L208.65,376.03 L209.07,375.82 L209.50,375.59 L209.94,375.35 L210.40,375.10 L210.87,374.83 L211.36,374.56 L211.85,374.27 L212.36,373.97 L212.88,373.66 L213.42,373.34 L213.97,373.01 L214.52,372.66 L215.09,372.31 L215.68,371.95 L216.27,371.57 L216.87,371.19 L217.49,370.79 L218.11,370.39 L218.75,369.97 L219.40,369.55 L220.06,369.11 L220.72,368.67 L221.40,368.22 L222.09,367.76 L222.79,367.29 L223.50,366.81 L224.22,366.33 L224.95,365.83 L225.69,365.33 L226.44,364.83 L227.20,364.31 L227.96,363.79 L228.74,363.26 L229.53,362.73 L230.32,362.19 L231.13,361.64 L231.94,361.08 L232.77,360.53 L233.60,359.96 L234.44,359.39 L235.29,358.81 L236.15,358.23 L237.02,357.65 L237.90,357.06 L238.78,356.46 L239.68,355.87 L240.58,355.26 L241.49,354.66 L242.41,354.05 L243.34,353.44 L244.27,352.83 L245.22,352.21 L246.17,351.59 L247.13,350.97 L248.10,350.35 L249.08,349.73 L250.07,349.10 L251.06,348.48 L252.06,347.85 L253.07,347.23 L254.09,346.60 L255.11,345.97 L256.15,345.35 L257.19,344.72 L258.24,344.09 L259.29,343.47 L260.36,342.85 L261.43,342.23 L262.51,341.61 L263.59,340.99 L264.69,340.37 L265.79,339.76 L266.90,339.14 L268.01,338.54 L269.14,337.93 L270.27,337.33 L271.41,336.73 L272.55,336.13 L273.71,335.54 L274.87,334.95 L276.04,334.36 L277.21,333.78 L278.39,333.21 L279.58,332.63 L280.78,332.07 L281.98,331.50 L283.19,330.94 L284.41,330.39 L285.63,329.84 L286.86,329.30 L288.10,328.76 L289.35,328.23 L290.60,327.70 L291.86,327.18 L293.12,326.66 L294.39,326.16 L295.67,325.65 L296.96,325.15 L298.25,324.66 L299.55,324.18 L300.86,323.70 L302.17,323.23 L303.49,322.76 L304.81,322.30 L306.15,321.85 L307.49,321.40 L308.83,320.96 L310.18,320.52 L311.54,320.10 L312.91,319.68 L314.28,319.26 L315.66,318.85 L317.04,318.45 L318.43,318.06 L319.83,317.67 L321.23,317.29 L322.64,316.92 L324.06,316.55 L325.48,316.19 L326.91,315.84 L328.35,315.49 L329.79,315.15 L331.23,314.81 L332.69,314.48 L334.15,314.16 L335.61,313.85 L337.09,313.54 L338.57,313.24 L340.05,312.94 L341.54,312.65 L343.04,312.37 L344.54,312.09 L346.05,311.82 L347.56,311.56 L349.09,311.30 L350.61,311.04 L352.15,310.80 L353.68,310.56 L355.23,310.32 L356.78,310.09 L358.34,309.87 L359.90,309.65" stroke="#f5c830" stroke-width="1.1"/><path d="M204.30,377.80 L204.35,377.79 L204.44,377.75 L204.57,377.71 L204.73,377.65 L204.91,377.58 L205.12,377.49 L205.35,377.40 L205.60,377.29 L205.87,377.18 L206.16,377.05 L206.47,376.92 L206.79,376.78 L207.13,376.63 L207.49,376.47 L207.86,376.30 L208.25,376.12 L208.65,375.94 L209.07,375.75 L209.50,375.55 L209.94,375.34 L210.40,375.13 L210.87,374.91 L211.36,374.68 L211.85,374.44 L212.36,374.20 L212.88,373.95 L213.42,373.70 L213.97,373.44 L214.52,373.18 L215.09,372.90 L215.68,372.63 L216.27,372.34 L216.87,372.06 L217.49,371.76 L218.11,371.46 L218.75,371.16 L219.40,370.85 L220.06,370.54 L220.72,370.22 L221.40,369.90 L222.09,369.57 L222.79,369.24 L223.50,368.90 L224.22,368.56 L224.95,368.22 L225.69,367.87 L226.44,367.52 L227.20,367.16 L227.96,366.80 L228.74,366.44 L229.53,366.07 L230.32,365.70 L231.13,365.33 L231.94,364.95 L232.77,364.56 L233.60,364.17 L234.44,363.78 L235.29,363.38 L236.15,362.98 L237.02,362.57 L237.90,362.16 L238.78,361.75 L239.68,361.33 L240.58,360.90 L241.49,360.48 L242.41,360.05 L243.34,359.61 L244.27,359.18 L245.22,358.73 L246.17,358.29 L247.13,357.84 L248.10,357.39 L249.08,356.94 L250.07,356.48 L251.06,356.02 L252.06,355.55 L253.07,355.09 L254.09,354.62 L255.11,354.15 L256.15,353.68 L257.19,353.20 L258.24,352.72 L259.29,352.24 L260.36,351.76 L261.43,351.28 L262.51,350.79 L263.59,350.31 L264.69,349.82 L265.79,349.33 L266.90,348.84 L268.01,348.35 L269.14,347.85 L270.27,347.36 L271.41,346.87 L272.55,346.37 L273.71,345.87 L274.87,345.38 L276.04,344.88 L277.21,344.38 L278.39,343.88 L279.58,343.39 L280.78,342.89 L281.98,342.39 L283.19,341.90 L284.41,341.40 L285.63,340.90 L286.86,340.41 L288.10,339.91 L289.35,339.42 L290.60,338.93 L291.86,338.43 L293.12,337.94 L294.39,337.45 L295.67,336.97 L296.96,336.48 L298.25,336.00 L299.55,335.51 L300.86,335.03 L302.17,334.55 L303.49,334.07 L304.81,333.60 L306.15,333.12 L307.49,332.65 L308.83,332.18 L310.18,331.72 L311.54,331.25 L312.91,330.79 L314.28,330.33 L315.66,329.88 L317.04,329.43 L318.43,328.98 L319.83,328.53 L321.23,328.09 L322.64,327.64 L324.06,327.21 L325.48,326.77 L326.91,326.34 L328.35,325.92 L329.79,325.49 L331.23,325.07 L332.69,324.65 L334.15,324.24 L335.61,323.83 L337.09,323.43 L338.57,323.03 L340.05,322.63 L341.54,322.24 L343.04,321.85 L344.54,321.46 L346.05,321.08 L347.56,320.70 L349.09,320.33 L350.61,319.96 L352.15,319.59 L353.68,319.23 L355.23,318.88 L356.78,318.53 L358.34,318.18 L359.90,317.84" stroke="#f06a3c" stroke-width="1.1"/></g><g fill="#000"><circle cx="206.43" cy="372.18" r="1.35"/><circle cx="209.46" cy="366.27" r="1.35"/><circle cx="213.81" cy="360.43" r="1.35"/><circle cx="220.30" cy="354.51" r="1.35"/><circle cx="228.93" cy="348.67" r="1.35"/><circle cx="237.29" cy="342.83" r="1.35"/><circle cx="247.51" cy="337.29" r="1.35"/><circle cx="259.34" cy="331.37" r="1.35"/><circle cx="269.74" cy="325.53" r="1.35"/><circle cx="281.83" cy="319.62" r="1.35"/><circle cx="298.28" cy="313.78" r="1.35"/><circle cx="317.31" cy="307.87" r="1.35"/><circle cx="339.45" cy="305.53" r="1.35"/></g><path d="M204.50,301.40 H359.50" fill="none" stroke="#bdbdbd" stroke-width="1.4"/><path d="M359.50,301.40 V378.50" fill="none" stroke="#a8a8a8" stroke-width="1.0"/><path d="M204.50,300.90 V378.50 H360.00" fill="none" stroke="#9a9a9a" stroke-width="1.0"/><path d="M202.60,377.80H204.50M203.20,370.50H204.50M202.60,363.20H204.50M203.20,355.90H204.50M202.60,348.60H204.50M203.20,341.30H204.50M202.60,334.00H204.50M203.20,326.70H204.50M202.60,319.40H204.50M203.20,312.10H204.50M202.60,304.80H204.50M204.30,378.50V380.40M215.41,378.50V379.80M226.53,378.50V380.40M237.64,378.50V379.80M248.76,378.50V380.40M259.87,378.50V379.80M270.99,378.50V380.40M282.10,378.50V379.80M293.21,378.50V380.40M304.33,378.50V379.80M315.44,378.50V380.40M326.56,378.50V379.80M337.67,378.50V380.40M348.79,378.50V379.80M359.90,378.50V380.40" stroke="#909090" stroke-width="0.7" fill="none"/><g font-size="3.9" fill="#222" style="stroke:#222;stroke-width:0.12px"><text x="201.60" y="379.20" text-anchor="end">0.0</text><text x="201.60" y="364.60" text-anchor="end">0.2</text><text x="201.60" y="350.00" text-anchor="end">0.4</text><text x="201.60" y="335.40" text-anchor="end">0.6</text><text x="201.60" y="320.80" text-anchor="end">0.8</text><text x="201.60" y="306.20" text-anchor="end">1.0</text><text x="204.30" y="383.80" text-anchor="middle">0</text><text x="226.53" y="383.80" text-anchor="middle">25</text><text x="248.76" y="383.80" text-anchor="middle">50</text><text x="270.99" y="383.80" text-anchor="middle">75</text><text x="293.21" y="383.80" text-anchor="middle">100</text><text x="315.44" y="383.80" text-anchor="middle">125</text><text x="337.67" y="383.80" text-anchor="middle">150</text><text x="359.90" y="383.80" text-anchor="middle">175</text></g><text x="282.70" y="388.10" text-anchor="middle" font-size="4.35" fill="#000">Time (min)</text><text transform="translate(192.40,337.60) rotate(-90)" text-anchor="middle" font-size="4.6" fill="#000">Conversion (X)</text><text x="199.50" y="298.80" font-size="6.3" text-anchor="middle" fill="#000">K</text><text x="204.80" y="298.80" font-size="5.0" fill="#000">T: 850 °C, H<tspan font-size="3.3" dy="1.0">2</tspan><tspan dy="-1.0">: 70 ccm, </tspan>CO: 30 ccm, N<tspan font-size="3.3" dy="1.0">2</tspan><tspan dy="-1.0">: 200 ccm, m: 4.28 g</tspan></text><rect x="324.90" y="334.60" width="33.6" height="41.8" fill="#fff" stroke="#c8c8c8" stroke-width="0.6"/><g font-size="4.7" fill="#000"><path d="M325.30,338.20h11.4" stroke="#8f52e6" stroke-width="1.4"/><text x="337.50" y="339.90">X-Pm</text><path d="M325.30,344.15h11.4" stroke="#4c80ea" stroke-width="1.4"/><text x="337.50" y="345.85">X-Ps</text><path d="M325.30,350.10h11.4" stroke="#4fe0f2" stroke-width="1.4"/><text x="337.50" y="351.80">X-PCO</text><path d="M325.30,356.05h11.4" stroke="#52dc58" stroke-width="1.4"/><text x="337.50" y="357.75">X-P(50%)</text><path d="M325.30,362.00h11.4" stroke="#f7d978" stroke-width="1.4"/><text x="337.50" y="363.70">X-P(10%)</text><path d="M325.30,367.95h11.4" stroke="#f29a7a" stroke-width="1.4"/><text x="337.50" y="369.65">X-P(5%)</text><circle cx="330.50" cy="373.90" r="1.35" fill="#000"/><text x="337.50" y="375.60">X-Exp 11</text></g></g>
<g><clipPath id="cL"><rect x="389.20" y="301.60" width="155.60" height="76.20"/></clipPath><g clip-path="url(#cL)" fill="none" stroke-width="1.3" stroke-linejoin="round"><path d="M389.20,377.80 L389.25,377.78 L389.34,377.74 L389.47,377.68 L389.63,377.59 L389.81,377.47 L390.02,377.33 L390.25,377.17 L390.50,376.99 L390.77,376.79 L391.06,376.56 L391.37,376.31 L391.69,376.04 L392.03,375.75 L392.39,375.44 L392.76,375.11 L393.15,374.75 L393.55,374.38 L393.97,373.99 L394.40,373.58 L394.84,373.15 L395.30,372.70 L395.77,372.23 L396.26,371.74 L396.75,371.23 L397.26,370.71 L397.78,370.17 L398.32,369.61 L398.87,369.04 L399.42,368.45 L399.99,367.84 L400.58,367.22 L401.17,366.58 L401.77,365.93 L402.39,365.27 L403.01,364.59 L403.65,363.90 L404.30,363.19 L404.96,362.48 L405.62,361.75 L406.30,361.01 L406.99,360.26 L407.69,359.51 L408.40,358.74 L409.12,357.96 L409.85,357.18 L410.59,356.39 L411.34,355.59 L412.10,354.79 L412.86,353.98 L413.64,353.17 L414.43,352.35 L415.22,351.53 L416.03,350.70 L416.84,349.88 L417.67,349.04 L418.50,348.21 L419.34,347.38 L420.19,346.54 L421.05,345.71 L421.92,344.87 L422.80,344.04 L423.68,343.21 L424.58,342.38 L425.48,341.55 L426.39,340.73 L427.31,339.91 L428.24,339.09 L429.17,338.28 L430.12,337.48 L431.07,336.68 L432.03,335.89 L433.00,335.10 L433.98,334.32 L434.97,333.55 L435.96,332.79 L436.96,332.03 L437.97,331.28 L438.99,330.55 L440.01,329.82 L441.05,329.10 L442.09,328.39 L443.14,327.69 L444.19,327.00 L445.26,326.32 L446.33,325.66 L447.41,325.00 L448.49,324.36 L449.59,323.72 L450.69,323.10 L451.80,322.49 L452.91,321.89 L454.04,321.30 L455.17,320.72 L456.31,320.16 L457.45,319.60 L458.61,319.06 L459.77,318.53 L460.94,318.01 L462.11,317.51 L463.29,317.01 L464.48,316.53 L465.68,316.06 L466.88,315.60 L468.09,315.15 L469.31,314.71 L470.53,314.29 L471.76,313.87 L473.00,313.47 L474.25,313.08 L475.50,312.69 L476.76,312.32 L478.02,311.96 L479.29,311.61 L480.57,311.27 L481.86,310.94 L483.15,310.62 L484.45,310.31 L485.76,310.01" stroke="#30e0f0" stroke-width="1.0"/><path d="M389.20,377.80 L389.25,377.78 L389.34,377.74 L389.47,377.67 L389.63,377.57 L389.81,377.44 L390.02,377.29 L390.25,377.12 L390.50,376.92 L390.77,376.70 L391.06,376.45 L391.37,376.18 L391.69,375.89 L392.03,375.58 L392.39,375.25 L392.76,374.89 L393.15,374.51 L393.55,374.11 L393.97,373.70 L394.40,373.26 L394.84,372.80 L395.30,372.32 L395.77,371.83 L396.26,371.31 L396.75,370.78 L397.26,370.23 L397.78,369.66 L398.32,369.08 L398.87,368.48 L399.42,367.87 L399.99,367.24 L400.58,366.59 L401.17,365.94 L401.77,365.27 L402.39,364.58 L403.01,363.89 L403.65,363.18 L404.30,362.46 L404.96,361.73 L405.62,360.99 L406.30,360.24 L406.99,359.48 L407.69,358.72 L408.40,357.94 L409.12,357.16 L409.85,356.37 L410.59,355.58 L411.34,354.78 L412.10,353.98 L412.86,353.17 L413.64,352.36 L414.43,351.55 L415.22,350.73 L416.03,349.91 L416.84,349.09 L417.67,348.27 L418.50,347.44 L419.34,346.62 L420.19,345.80 L421.05,344.97 L421.92,344.15 L422.80,343.33 L423.68,342.52 L424.58,341.70 L425.48,340.89 L426.39,340.08 L427.31,339.28 L428.24,338.48 L429.17,337.69 L430.12,336.90 L431.07,336.12 L432.03,335.34 L433.00,334.58 L433.98,333.81 L434.97,333.06 L435.96,332.31 L436.96,331.58 L437.97,330.85 L438.99,330.13 L440.01,329.42 L441.05,328.72 L442.09,328.02 L443.14,327.34 L444.19,326.67 L445.26,326.01 L446.33,325.35 L447.41,324.71 L448.49,324.08 L449.59,323.46 L450.69,322.85 L451.80,322.25 L452.91,321.67 L454.04,321.09 L455.17,320.53 L456.31,319.97 L457.45,319.43 L458.61,318.90 L459.77,318.38 L460.94,317.87 L462.11,317.38 L463.29,316.89 L464.48,316.42 L465.68,315.95 L466.88,315.50 L468.09,315.06 L469.31,314.63 L470.53,314.21 L471.76,313.80 L473.00,313.40 L474.25,313.02 L475.50,312.64 L476.76,312.27 L478.02,311.92 L479.29,311.57 L480.57,311.23 L481.86,310.91 L483.15,310.59 L484.45,310.28 L485.76,309.98" stroke="#9b40e8" stroke-width="1.0"/><path d="M389.20,377.80 L389.25,377.78 L389.34,377.74 L389.47,377.67 L389.63,377.57 L389.81,377.44 L390.02,377.29 L390.25,377.12 L390.50,376.92 L390.77,376.70 L391.06,376.45 L391.37,376.18 L391.69,375.89 L392.03,375.58 L392.39,375.25 L392.76,374.89 L393.15,374.51 L393.55,374.11 L393.97,373.70 L394.40,373.26 L394.84,372.80 L395.30,372.32 L395.77,371.83 L396.26,371.31 L396.75,370.78 L397.26,370.23 L397.78,369.66 L398.32,369.08 L398.87,368.48 L399.42,367.87 L399.99,367.24 L400.58,366.59 L401.17,365.94 L401.77,365.27 L402.39,364.58 L403.01,363.89 L403.65,363.18 L404.30,362.46 L404.96,361.73 L405.62,360.99 L406.30,360.24 L406.99,359.48 L407.69,358.72 L408.40,357.94 L409.12,357.16 L409.85,356.37 L410.59,355.58 L411.34,354.78 L412.10,353.98 L412.86,353.17 L413.64,352.36 L414.43,351.55 L415.22,350.73 L416.03,349.91 L416.84,349.09 L417.67,348.27 L418.50,347.44 L419.34,346.62 L420.19,345.80 L421.05,344.97 L421.92,344.15 L422.80,343.33 L423.68,342.52 L424.58,341.70 L425.48,340.89 L426.39,340.08 L427.31,339.28 L428.24,338.48 L429.17,337.69 L430.12,336.90 L431.07,336.12 L432.03,335.34 L433.00,334.58 L433.98,333.81 L434.97,333.06 L435.96,332.31 L436.96,331.58 L437.97,330.85 L438.99,330.13 L440.01,329.42 L441.05,328.72 L442.09,328.02 L443.14,327.34 L444.19,326.67 L445.26,326.01 L446.33,325.35 L447.41,324.71 L448.49,324.08 L449.59,323.46 L450.69,322.85 L451.80,322.25 L452.91,321.67 L454.04,321.09 L455.17,320.53 L456.31,319.97 L457.45,319.43 L458.61,318.90 L459.77,318.38 L460.94,317.87 L462.11,317.38 L463.29,316.89 L464.48,316.42 L465.68,315.95 L466.88,315.50 L468.09,315.06 L469.31,314.63 L470.53,314.21 L471.76,313.80 L473.00,313.40 L474.25,313.02 L475.50,312.64 L476.76,312.27 L478.02,311.92 L479.29,311.57 L480.57,311.23 L481.86,310.91 L483.15,310.59 L484.45,310.28 L485.76,309.98" stroke="#2f62ea" stroke-width="1.0"/><path d="M389.20,377.80 L389.25,377.78 L389.34,377.73 L389.47,377.65 L389.63,377.54 L389.81,377.41 L390.02,377.25 L390.25,377.06 L390.50,376.84 L390.77,376.60 L391.06,376.33 L391.37,376.04 L391.69,375.73 L392.03,375.39 L392.39,375.03 L392.76,374.64 L393.15,374.24 L393.55,373.81 L393.97,373.36 L394.40,372.89 L394.84,372.41 L395.30,371.90 L395.77,371.37 L396.26,370.83 L396.75,370.26 L397.26,369.69 L397.78,369.09 L398.32,368.48 L398.87,367.85 L399.42,367.21 L399.99,366.55 L400.58,365.89 L401.17,365.20 L401.77,364.51 L402.39,363.80 L403.01,363.09 L403.65,362.36 L404.30,361.62 L404.96,360.88 L405.62,360.13 L406.30,359.36 L406.99,358.59 L407.69,357.82 L408.40,357.04 L409.12,356.25 L409.85,355.46 L410.59,354.66 L411.34,353.86 L412.10,353.06 L412.86,352.25 L413.64,351.45 L414.43,350.64 L415.22,349.83 L416.03,349.01 L416.84,348.20 L417.67,347.39 L418.50,346.58 L419.34,345.76 L420.19,344.95 L421.05,344.14 L421.92,343.34 L422.80,342.53 L423.68,341.73 L424.58,340.93 L425.48,340.14 L426.39,339.35 L427.31,338.57 L428.24,337.79 L429.17,337.01 L430.12,336.24 L431.07,335.48 L432.03,334.73 L433.00,333.98 L433.98,333.24 L434.97,332.51 L435.96,331.78 L436.96,331.06 L437.97,330.35 L438.99,329.65 L440.01,328.96 L441.05,328.28 L442.09,327.61 L443.14,326.94 L444.19,326.29 L445.26,325.64 L446.33,325.01 L447.41,324.39 L448.49,323.77 L449.59,323.17 L450.69,322.57 L451.80,321.99 L452.91,321.42 L454.04,320.86 L455.17,320.31 L456.31,319.77 L457.45,319.24 L458.61,318.72 L459.77,318.21 L460.94,317.71 L462.11,317.23 L463.29,316.75 L464.48,316.29 L465.68,315.83 L466.88,315.39 L468.09,314.96 L469.31,314.53 L470.53,314.12 L471.76,313.72 L473.00,313.33 L474.25,312.95 L475.50,312.58 L476.76,312.21 L478.02,311.86 L479.29,311.52 L480.57,311.19 L481.86,310.87 L483.15,310.55 L484.45,310.25 L485.76,309.95 L487.07,309.67 L488.39,309.39 L489.71,309.12 L491.05,308.86 L492.39,308.61 L493.73,308.36 L495.08,308.13 L496.44,307.90 L497.81,307.68 L499.18,307.46 L500.56,307.26 L501.94,307.06 L503.33,306.86 L504.73,306.68 L506.13,306.50 L507.54,306.33 L508.96,306.16 L510.38,306.00 L511.81,305.85 L513.25,305.70 L514.69,305.56 L516.13,305.42 L517.59,305.29 L519.05,305.16 L520.51,305.04 L521.99,304.92 L523.47,304.81 L524.95,304.70 L526.44,304.60 L527.94,304.50 L529.44,304.41 L530.95,304.32 L532.46,304.23 L533.99,304.15 L535.51,304.07 L537.05,303.99 L538.58,303.92 L540.13,303.85 L541.68,303.78 L543.24,303.72 L544.80,303.66" stroke="#33d944" stroke-width="1.1"/><path d="M389.20,377.80 L389.25,377.79 L389.34,377.75 L389.47,377.69 L389.63,377.61 L389.81,377.51 L390.02,377.40 L390.25,377.26 L390.50,377.11 L390.77,376.95 L391.06,376.77 L391.37,376.57 L391.69,376.35 L392.03,376.12 L392.39,375.88 L392.76,375.62 L393.15,375.35 L393.55,375.06 L393.97,374.76 L394.40,374.45 L394.84,374.13 L395.30,373.79 L395.77,373.44 L396.26,373.07 L396.75,372.70 L397.26,372.32 L397.78,371.92 L398.32,371.51 L398.87,371.09 L399.42,370.66 L399.99,370.23 L400.58,369.78 L401.17,369.32 L401.77,368.85 L402.39,368.38 L403.01,367.90 L403.65,367.40 L404.30,366.91 L404.96,366.40 L405.62,365.88 L406.30,365.36 L406.99,364.83 L407.69,364.30 L408.40,363.76 L409.12,363.21 L409.85,362.66 L410.59,362.11 L411.34,361.54 L412.10,360.98 L412.86,360.41 L413.64,359.83 L414.43,359.25 L415.22,358.66 L416.03,358.07 L416.84,357.46 L417.67,356.85 L418.50,356.24 L419.34,355.61 L420.19,354.98 L421.05,354.34 L421.92,353.70 L422.80,353.04 L423.68,352.39 L424.58,351.72 L425.48,351.06 L426.39,350.38 L427.31,349.71 L428.24,349.03 L429.17,348.34 L430.12,347.65 L431.07,346.96 L432.03,346.26 L433.00,345.56 L433.98,344.86 L434.97,344.16 L435.96,343.46 L436.96,342.75 L437.97,342.05 L438.99,341.34 L440.01,340.63 L441.05,339.92 L442.09,339.22 L443.14,338.51 L444.19,337.81 L445.26,337.11 L446.33,336.41 L447.41,335.71 L448.49,335.02 L449.59,334.32 L450.69,333.64 L451.80,332.95 L452.91,332.27 L454.04,331.60 L455.17,330.93 L456.31,330.26 L457.45,329.60 L458.61,328.95 L459.77,328.30 L460.94,327.66 L462.11,327.02 L463.29,326.40 L464.48,325.78 L465.68,325.16 L466.88,324.56 L468.09,323.96 L469.31,323.38 L470.53,322.80 L471.76,322.23 L473.00,321.66 L474.25,321.11 L475.50,320.57 L476.76,320.04 L478.02,319.51 L479.29,319.00 L480.57,318.50 L481.86,318.00 L483.15,317.52 L484.45,317.05 L485.76,316.59 L487.07,316.14 L488.39,315.69 L489.71,315.26 L491.05,314.84 L492.39,314.43 L493.73,314.04 L495.08,313.65 L496.44,313.27 L497.81,312.90 L499.18,312.55 L500.56,312.20 L501.94,311.86 L503.33,311.54 L504.73,311.22 L506.13,310.92 L507.54,310.62 L508.96,310.34 L510.38,310.06 L511.81,309.80 L513.25,309.54 L514.69,309.29 L516.13,309.05 L517.59,308.83 L519.05,308.61 L520.51,308.39 L521.99,308.19 L523.47,308.00 L524.95,307.81 L526.44,307.63 L527.94,307.46 L529.44,307.30 L530.95,307.14 L532.46,306.99 L533.99,306.85 L535.51,306.71 L537.05,306.58 L538.58,306.46 L540.13,306.34 L541.68,306.23 L543.24,306.13 L544.80,306.03" stroke="#f5c830" stroke-width="1.1"/><path d="M389.20,377.80 L389.25,377.79 L389.34,377.77 L389.47,377.73 L389.63,377.67 L389.81,377.61 L390.02,377.53 L390.25,377.44 L390.50,377.33 L390.77,377.22 L391.06,377.09 L391.37,376.96 L391.69,376.81 L392.03,376.65 L392.39,376.48 L392.76,376.30 L393.15,376.11 L393.55,375.91 L393.97,375.70 L394.40,375.48 L394.84,375.25 L395.30,375.01 L395.77,374.76 L396.26,374.50 L396.75,374.24 L397.26,373.96 L397.78,373.68 L398.32,373.39 L398.87,373.08 L399.42,372.78 L399.99,372.46 L400.58,372.13 L401.17,371.80 L401.77,371.46 L402.39,371.11 L403.01,370.76 L403.65,370.40 L404.30,370.03 L404.96,369.65 L405.62,369.27 L406.30,368.88 L406.99,368.49 L407.69,368.09 L408.40,367.68 L409.12,367.27 L409.85,366.85 L410.59,366.43 L411.34,366.00 L412.10,365.57 L412.86,365.13 L413.64,364.68 L414.43,364.24 L415.22,363.78 L416.03,363.32 L416.84,362.86 L417.67,362.39 L418.50,361.91 L419.34,361.43 L420.19,360.94 L421.05,360.45 L421.92,359.96 L422.80,359.46 L423.68,358.95 L424.58,358.45 L425.48,357.93 L426.39,357.42 L427.31,356.90 L428.24,356.37 L429.17,355.84 L430.12,355.31 L431.07,354.78 L432.03,354.24 L433.00,353.70 L433.98,353.16 L434.97,352.61 L435.96,352.06 L436.96,351.51 L437.97,350.96 L438.99,350.41 L440.01,349.85 L441.05,349.29 L442.09,348.73 L443.14,348.17 L444.19,347.61 L445.26,347.05 L446.33,346.49 L447.41,345.92 L448.49,345.36 L449.59,344.80 L450.69,344.23 L451.80,343.67 L452.91,343.10 L454.04,342.54 L455.17,341.98 L456.31,341.42 L457.45,340.86 L458.61,340.30 L459.77,339.74 L460.94,339.18 L462.11,338.62 L463.29,338.07 L464.48,337.52 L465.68,336.97 L466.88,336.42 L468.09,335.87 L469.31,335.33 L470.53,334.79 L471.76,334.25 L473.00,333.71 L474.25,333.18 L475.50,332.65 L476.76,332.12 L478.02,331.60 L479.29,331.08 L480.57,330.56 L481.86,330.05 L483.15,329.54 L484.45,329.04 L485.76,328.54 L487.07,328.04 L488.39,327.55 L489.71,327.06 L491.05,326.57 L492.39,326.09 L493.73,325.62 L495.08,325.15 L496.44,324.68 L497.81,324.22 L499.18,323.77 L500.56,323.31 L501.94,322.87 L503.33,322.43 L504.73,321.99 L506.13,321.56 L507.54,321.13 L508.96,320.71 L510.38,320.30 L511.81,319.89 L513.25,319.48 L514.69,319.08 L516.13,318.69 L517.59,318.30 L519.05,317.92 L520.51,317.54 L521.99,317.17 L523.47,316.81 L524.95,316.45 L526.44,316.09 L527.94,315.74 L529.44,315.40 L530.95,315.06 L532.46,314.73 L533.99,314.40 L535.51,314.08 L537.05,313.76 L538.58,313.45 L540.13,313.15 L541.68,312.85 L543.24,312.56 L544.80,312.27" stroke="#f06a3c" stroke-width="1.1"/></g><g fill="#000"><circle cx="390.59" cy="374.22" r="1.35"/><circle cx="392.92" cy="370.21" r="1.35"/><circle cx="395.48" cy="366.27" r="1.35"/><circle cx="398.42" cy="362.18" r="1.35"/><circle cx="402.09" cy="358.31" r="1.35"/><circle cx="406.98" cy="354.22" r="1.35"/><circle cx="412.71" cy="349.99" r="1.35"/><circle cx="418.60" cy="346.26" r="1.35"/><circle cx="424.49" cy="342.18" r="1.35"/><circle cx="430.60" cy="338.09" r="1.35"/><circle cx="437.44" cy="334.00" r="1.35"/><circle cx="445.33" cy="329.99" r="1.35"/><circle cx="452.72" cy="326.34" r="1.35"/><circle cx="462.50" cy="322.03" r="1.35"/><circle cx="472.89" cy="318.09" r="1.35"/><circle cx="484.00" cy="314.22" r="1.35"/><circle cx="498.90" cy="310.20" r="1.35"/><circle cx="517.01" cy="306.11" r="1.35"/><circle cx="542.91" cy="305.89" r="1.35"/></g><path d="M389.50,301.40 H544.50" fill="none" stroke="#bdbdbd" stroke-width="1.4"/><path d="M544.50,301.40 V378.50" fill="none" stroke="#a8a8a8" stroke-width="1.0"/><path d="M389.50,300.90 V378.50 H545.00" fill="none" stroke="#9a9a9a" stroke-width="1.0"/><path d="M387.60,377.80H389.50M388.20,370.50H389.50M387.60,363.20H389.50M388.20,355.90H389.50M387.60,348.60H389.50M388.20,341.30H389.50M387.60,334.00H389.50M388.20,326.70H389.50M387.60,319.40H389.50M388.20,312.10H389.50M387.60,304.80H389.50M389.20,378.50V380.40M403.09,378.50V379.80M416.99,378.50V380.40M430.88,378.50V379.80M444.77,378.50V380.40M458.66,378.50V379.80M472.56,378.50V380.40M486.45,378.50V379.80M500.34,378.50V380.40M514.24,378.50V379.80M528.13,378.50V380.40M542.02,378.50V379.80" stroke="#909090" stroke-width="0.7" fill="none"/><g font-size="3.9" fill="#222" style="stroke:#222;stroke-width:0.12px"><text x="386.50" y="379.20" text-anchor="end">0.0</text><text x="386.50" y="364.60" text-anchor="end">0.2</text><text x="386.50" y="350.00" text-anchor="end">0.4</text><text x="386.50" y="335.40" text-anchor="end">0.6</text><text x="386.50" y="320.80" text-anchor="end">0.8</text><text x="386.50" y="306.20" text-anchor="end">1.0</text><text x="389.20" y="383.80" text-anchor="middle">0</text><text x="416.99" y="383.80" text-anchor="middle">50</text><text x="444.77" y="383.80" text-anchor="middle">100</text><text x="472.56" y="383.80" text-anchor="middle">150</text><text x="500.34" y="383.80" text-anchor="middle">200</text><text x="528.13" y="383.80" text-anchor="middle">250</text></g><text x="467.60" y="388.10" text-anchor="middle" font-size="4.35" fill="#000">Time (min)</text><text transform="translate(377.30,337.60) rotate(-90)" text-anchor="middle" font-size="4.6" fill="#000">Conversion (X)</text><text x="384.40" y="298.80" font-size="6.3" text-anchor="middle" fill="#000">L</text><text x="389.70" y="298.80" font-size="5.0" fill="#000">T: 850 °C, H<tspan font-size="3.3" dy="1.0">2</tspan><tspan dy="-1.0">: 56 ccm, </tspan>CO: 36 ccm, N<tspan font-size="3.3" dy="1.0">2</tspan><tspan dy="-1.0">: 200 ccm, m: 6.27 g</tspan></text><rect x="509.80" y="334.60" width="33.6" height="41.8" fill="#fff" stroke="#c8c8c8" stroke-width="0.6"/><g font-size="4.7" fill="#000"><path d="M510.20,338.20h11.4" stroke="#8f52e6" stroke-width="1.4"/><text x="522.40" y="339.90">X-Pm</text><path d="M510.20,344.15h11.4" stroke="#4c80ea" stroke-width="1.4"/><text x="522.40" y="345.85">X-Ps</text><path d="M510.20,350.10h11.4" stroke="#4fe0f2" stroke-width="1.4"/><text x="522.40" y="351.80">X-PCO</text><path d="M510.20,356.05h11.4" stroke="#52dc58" stroke-width="1.4"/><text x="522.40" y="357.75">X-P(50%)</text><path d="M510.20,362.00h11.4" stroke="#f7d978" stroke-width="1.4"/><text x="522.40" y="363.70">X-P(10%)</text><path d="M510.20,367.95h11.4" stroke="#f29a7a" stroke-width="1.4"/><text x="522.40" y="369.65">X-P(5%)</text><circle cx="515.40" cy="373.90" r="1.35" fill="#000"/><text x="522.40" y="375.60">X-Exp 12</text></g></g>
</svg>
</body></html>
